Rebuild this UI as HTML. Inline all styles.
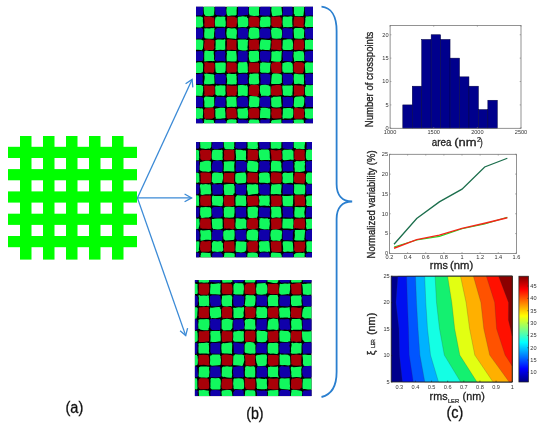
<!DOCTYPE html>
<html><head><meta charset="utf-8"><title>Figure</title>
<style>html,body{margin:0;padding:0;background:#fff;} svg{display:block;} text{font-family:'Liberation Sans', 'DejaVu Sans', sans-serif;}</style>
</head><body>
<svg width="550" height="428" viewBox="0 0 550 428">
<rect width="550" height="428" fill="#fff"/>
<rect x="20" y="136" width="11.5" height="123.6" fill="#00ff00"/>
<rect x="43" y="136" width="11.5" height="123.6" fill="#00ff00"/>
<rect x="66" y="136" width="11.5" height="123.6" fill="#00ff00"/>
<rect x="89" y="136" width="11.5" height="123.6" fill="#00ff00"/>
<rect x="112" y="136" width="11.5" height="123.6" fill="#00ff00"/>
<rect x="8" y="146.80" width="129" height="11.2" fill="#00ff00"/>
<rect x="8" y="169.10" width="129" height="11.2" fill="#00ff00"/>
<rect x="8" y="191.40" width="129" height="11.2" fill="#00ff00"/>
<rect x="8" y="213.70" width="129" height="11.2" fill="#00ff00"/>
<rect x="8" y="236.00" width="129" height="11.2" fill="#00ff00"/>
<line x1="137.4" y1="197.9" x2="192.1" y2="79.4" stroke="#3b8ad6" stroke-width="1.3"/>
<polyline points="185.6,83.8 192.1,79.4 192.8,87.4" fill="none" stroke="#3b8ad6" stroke-width="1.3" stroke-linejoin="miter"/>
<line x1="137.4" y1="197.9" x2="191.6" y2="197.9" stroke="#3b8ad6" stroke-width="1.3"/>
<polyline points="184.6,194.0 191.6,197.9 184.6,201.8" fill="none" stroke="#3b8ad6" stroke-width="1.3" stroke-linejoin="miter"/>
<line x1="137.4" y1="197.9" x2="185.7" y2="335.6" stroke="#3b8ad6" stroke-width="1.3"/>
<polyline points="180.1,330.7 185.7,335.6 187.6,328.1" fill="none" stroke="#3b8ad6" stroke-width="1.3" stroke-linejoin="miter"/>
<clipPath id="chk1"><rect x="196.0" y="6.8" width="117.00" height="116.40"/></clipPath>
<rect x="196.0" y="6.8" width="117.00" height="116.40" fill="#000"/>
<g clip-path="url(#chk1)">
<polygon points="202.9,10.5 203.2,13.7 202.8,14.2 202.9,14.8 202.6,14.9 202.3,15.1 202.1,15.4 201.8,15.7 200.9,15.3 198.0,15.4 194.9,15.7 194.0,15.9 193.7,15.7 193.4,15.5 192.8,15.6 193.2,14.7 192.7,14.6 193.1,13.5 193.3,10.5 193.3,7.6 193.3,6.9 193.0,6.1 193.4,6.0 193.3,5.5 193.6,5.2 194.2,5.3 194.8,5.2 198.0,5.5 200.9,5.6 201.5,5.7 202.2,5.5 202.4,5.8 202.6,6.0 203.0,6.1 203.0,6.6 203.0,7.4" fill="#1000aa"/>
<polygon points="214.4,10.5 214.1,13.5 214.4,14.5 213.7,14.4 213.8,14.9 213.8,15.4 213.3,15.4 213.2,15.9 212.4,15.8 209.2,16.2 205.8,16.1 205.4,15.7 205.0,15.5 205.1,14.9 204.7,14.9 204.5,14.6 204.2,14.3 204.0,13.7 203.7,10.5 203.6,7.0 204.1,6.6 204.3,6.2 204.9,6.3 204.8,5.7 205.0,5.5 205.2,5.0 205.8,4.9 209.2,5.1 212.5,5.0 213.2,5.0 213.2,5.7 213.6,5.7 213.6,6.2 213.7,6.5 213.8,6.9 214.4,7.3" fill="#12f85e"/>
<polygon points="225.8,10.5 226.0,13.9 225.8,14.6 225.6,15.1 225.1,15.0 224.9,15.4 224.6,15.5 224.4,15.9 223.7,16.0 220.4,15.4 217.5,15.3 217.0,15.2 216.6,15.0 216.1,15.1 215.8,15.0 215.6,14.6 215.6,14.2 215.2,13.7 215.2,10.5 215.1,7.2 215.0,6.3 215.3,6.0 215.6,5.8 215.7,5.5 216.0,5.2 216.8,5.5 217.1,5.0 220.4,5.2 223.5,5.3 224.1,5.5 224.3,5.9 224.6,6.0 224.8,6.2 225.4,6.1 225.3,6.7 225.5,7.3" fill="#1000aa"/>
<polygon points="236.6,10.5 236.7,13.6 236.4,14.1 236.7,15.0 236.4,15.1 235.9,15.1 235.7,15.4 235.3,15.6 234.7,15.6 231.6,15.5 228.4,15.9 227.6,15.9 227.5,15.4 227.2,15.3 227.1,14.8 226.9,14.6 226.7,14.3 226.6,13.6 226.3,10.5 226.7,7.4 226.9,6.9 226.5,6.0 226.9,5.9 227.3,5.9 227.4,5.4 228.1,5.6 228.5,5.2 231.6,4.9 234.9,5.0 235.5,5.2 235.7,5.6 236.0,5.8 236.2,6.1 236.7,6.0 236.7,6.6 236.9,7.2" fill="#12f85e"/>
<polygon points="248.4,10.5 248.4,13.9 248.0,14.4 248.0,15.0 247.5,15.1 246.9,14.9 246.5,14.8 246.1,14.9 245.5,15.0 242.8,15.4 239.7,15.8 239.0,15.7 238.1,16.1 237.6,16.1 237.4,15.8 237.7,14.9 237.9,14.3 238.0,13.5 238.1,10.5 238.0,7.5 237.7,6.6 237.6,5.9 237.7,5.5 238.2,5.5 238.5,5.3 239.0,5.3 240.1,5.8 242.8,5.5 245.9,5.4 246.6,5.4 247.1,5.4 247.4,5.6 247.6,5.9 248.1,5.9 248.0,6.5 248.3,7.1" fill="#1000aa"/>
<polygon points="259.0,10.5 259.0,13.6 259.3,14.5 259.1,14.9 258.6,14.9 258.8,15.6 258.6,15.9 258.0,15.9 257.2,15.8 254.0,16.0 251.0,15.6 250.5,15.3 249.7,15.7 249.7,15.2 249.6,14.8 249.2,14.7 249.4,14.1 249.0,13.6 248.9,10.5 249.1,7.4 249.0,6.6 249.0,6.1 249.1,5.7 249.1,5.2 249.7,5.3 250.1,5.1 251.0,5.4 254.0,5.1 257.0,5.6 257.6,5.7 258.0,5.7 258.5,5.7 258.6,6.1 259.1,6.0 259.1,6.6 259.3,7.2" fill="#12f85e"/>
<polygon points="270.2,10.5 270.3,13.6 270.2,14.3 270.0,14.6 269.7,14.8 269.7,15.3 269.6,15.6 269.3,16.0 268.3,15.6 265.3,15.8 262.3,15.5 261.7,15.3 261.0,15.5 260.8,15.3 260.4,15.2 260.0,15.1 259.7,14.7 260.0,13.8 260.0,10.5 260.2,7.4 260.4,6.8 260.5,6.3 260.7,6.1 260.8,5.7 261.0,5.4 261.2,4.9 262.0,5.0 265.3,4.9 268.5,5.0 268.8,5.6 269.4,5.6 269.9,5.5 270.2,5.6 270.1,6.2 270.3,6.6 270.5,7.2" fill="#1000aa"/>
<polygon points="281.8,10.5 282.2,14.1 282.1,14.8 281.5,14.9 281.5,15.4 281.1,15.4 280.3,15.0 280.2,15.6 279.4,15.4 276.5,15.7 273.1,16.2 272.4,16.1 272.3,15.5 272.0,15.3 271.9,14.9 271.9,14.4 271.9,14.0 271.7,13.5 271.2,10.5 271.5,7.4 271.1,6.4 271.3,6.0 271.8,5.9 271.9,5.6 272.1,5.3 272.7,5.3 273.5,5.5 276.5,4.9 279.7,5.1 280.4,5.2 280.3,5.9 280.5,6.1 280.6,6.5 281.2,6.3 281.2,6.8 281.5,7.4" fill="#12f85e"/>
<polygon points="292.6,10.5 292.8,13.7 292.5,14.2 292.5,14.7 292.7,15.4 292.3,15.4 291.6,15.2 291.5,15.7 290.7,15.5 287.7,15.6 284.8,15.3 283.7,15.9 283.5,15.5 282.7,15.8 282.7,15.3 282.7,14.8 282.6,14.3 282.5,13.7 282.9,10.5 282.9,7.5 282.6,6.6 282.8,6.2 283.0,6.0 283.3,5.8 283.8,5.8 284.2,5.7 284.8,5.7 287.7,5.6 290.8,5.2 291.4,5.4 292.1,5.2 292.3,5.5 292.5,5.8 292.4,6.4 292.4,6.8 292.3,7.6" fill="#1000aa"/>
<polygon points="304.0,10.5 303.7,13.5 303.6,14.1 303.7,14.7 303.4,14.8 303.3,15.3 303.3,15.7 303.1,16.2 302.2,16.0 298.9,16.3 295.5,16.1 294.9,15.9 294.7,15.4 294.6,15.1 294.6,14.6 294.5,14.3 294.4,14.0 293.8,13.7 293.9,10.5 293.9,7.4 294.0,6.7 293.6,5.9 293.8,5.6 294.2,5.5 294.8,5.6 295.3,5.6 295.9,5.5 298.9,5.4 301.9,5.5 302.7,5.3 303.1,5.5 303.8,5.2 304.1,5.4 304.0,6.0 303.8,6.7 304.2,7.2" fill="#12f85e"/>
<polygon points="315.2,10.5 315.4,13.8 315.0,14.2 314.9,14.7 314.5,14.8 314.4,15.1 313.8,15.0 313.5,15.1 313.0,15.4 310.1,15.5 306.9,15.9 306.2,15.8 305.6,15.8 305.4,15.5 305.2,15.2 305.1,14.9 305.3,14.2 305.2,13.5 304.7,10.5 305.1,7.4 304.7,6.4 304.9,5.9 305.5,6.0 305.4,5.4 305.8,5.3 306.4,5.4 307.0,5.3 310.1,5.2 313.0,5.6 313.8,5.4 314.3,5.5 314.8,5.4 315.0,5.7 315.2,6.0 315.3,6.5 315.6,7.1" fill="#1000aa"/>
<polygon points="202.9,21.9 203.3,25.2 203.1,25.8 202.9,26.2 202.7,26.5 202.5,26.8 202.2,26.9 201.6,26.8 201.3,27.4 198.0,27.4 194.8,27.2 194.2,27.1 193.8,27.0 193.8,26.4 193.2,26.6 193.3,26.0 193.2,25.6 193.0,25.0 192.6,21.9 193.0,18.8 192.8,17.9 192.8,17.4 193.3,17.4 193.6,17.2 193.9,17.0 194.2,16.7 194.8,16.5 198.0,16.5 201.2,16.5 201.6,17.0 202.0,17.1 202.3,17.2 202.8,17.2 202.8,17.8 203.1,18.0 202.8,18.9" fill="#12f85e"/>
<polygon points="214.5,21.9 214.5,25.2 214.4,25.9 214.0,26.1 214.3,26.9 213.6,26.7 213.7,27.2 213.1,27.3 212.1,26.7 209.2,27.0 206.0,27.2 205.3,27.3 205.0,26.9 204.8,26.6 204.6,26.4 204.1,26.4 204.5,25.5 204.2,25.0 204.5,21.9 204.2,18.8 203.9,17.8 204.3,17.6 204.0,16.8 204.3,16.7 204.5,16.3 205.2,16.4 206.2,16.8 209.2,16.6 212.1,17.0 212.5,17.4 212.9,17.5 213.5,17.3 213.8,17.5 214.0,17.7 214.1,18.2 214.3,18.7" fill="#a80008"/>
<polygon points="225.8,21.9 225.7,25.2 225.8,26.0 225.4,26.2 225.2,26.6 225.0,26.8 224.9,27.2 224.1,27.0 223.3,26.8 220.4,26.8 217.6,26.7 217.0,26.5 216.6,26.5 215.8,26.9 215.7,26.5 215.0,26.6 215.2,25.9 215.1,25.2 214.9,21.9 215.2,18.7 215.4,18.0 215.3,17.4 215.7,17.3 216.0,17.2 216.4,17.2 216.7,16.8 217.3,16.6 220.4,16.7 223.6,16.5 224.1,16.9 224.9,16.6 225.0,16.9 225.4,17.1 225.4,17.5 225.3,18.2 225.2,18.9" fill="#12f85e"/>
<polygon points="237.1,21.9 236.6,25.0 236.7,25.8 236.4,26.0 236.4,26.6 236.2,26.8 235.8,26.9 235.4,27.0 234.7,27.1 231.6,27.4 228.6,27.0 228.1,26.7 227.4,27.0 226.9,27.0 226.9,26.5 226.8,26.1 226.7,25.7 226.7,25.0 226.7,21.9 227.0,19.0 227.0,18.4 227.0,17.9 226.9,17.3 226.8,16.7 227.1,16.5 227.6,16.5 228.4,16.5 231.6,16.5 234.6,16.8 235.2,17.1 235.4,17.4 235.8,17.4 236.5,17.2 236.3,17.8 236.8,18.0 236.9,18.6" fill="#a80008"/>
<polygon points="248.4,21.9 248.3,25.3 248.2,26.0 247.4,25.9 247.2,26.2 247.4,26.8 247.2,27.1 246.6,27.0 246.0,27.3 242.8,27.0 239.7,27.2 238.8,27.4 238.5,27.2 238.2,26.9 237.9,26.7 238.1,26.0 238.1,25.5 238.0,24.9 237.7,21.9 237.7,18.7 237.6,17.9 237.9,17.6 238.0,17.3 238.2,16.9 238.6,16.8 238.9,16.5 239.8,16.8 242.8,16.3 245.9,16.8 246.8,16.6 247.0,17.0 247.0,17.4 247.2,17.7 247.5,17.9 248.0,18.0 248.2,18.6" fill="#12f85e"/>
<polygon points="259.4,21.9 259.0,25.0 259.1,25.8 259.1,26.4 259.2,26.9 258.8,27.0 258.5,27.2 257.8,27.0 257.0,26.8 254.0,26.8 250.9,27.2 250.3,27.0 250.1,26.7 249.8,26.4 249.3,26.6 248.9,26.4 248.9,25.8 249.0,25.1 248.8,21.9 248.7,18.6 249.2,18.2 249.4,17.9 249.3,17.3 249.5,17.0 249.6,16.6 250.3,16.8 250.8,16.4 254.0,16.5 257.1,16.8 257.5,17.2 258.3,16.8 258.3,17.4 258.8,17.3 258.7,17.8 258.9,18.2 259.4,18.6" fill="#a80008"/>
<polygon points="270.5,21.9 270.6,25.3 270.0,25.6 270.1,26.1 269.9,26.4 270.1,27.1 269.3,26.8 268.9,26.8 268.2,26.8 265.3,27.0 262.1,27.2 261.4,27.1 261.0,27.0 260.5,27.0 260.2,26.9 260.3,26.3 260.2,25.8 259.7,25.4 259.9,21.9 260.5,18.9 260.2,18.1 260.5,17.8 260.7,17.5 260.9,17.2 261.2,17.1 261.7,17.0 262.2,16.8 265.3,16.8 268.5,16.5 268.8,17.1 269.6,16.7 269.6,17.3 269.9,17.4 270.4,17.4 270.6,17.8 270.4,18.7" fill="#12f85e"/>
<polygon points="282.0,21.9 281.4,25.0 281.6,25.8 281.7,26.4 281.5,26.8 280.9,26.6 280.6,26.8 280.2,27.0 279.8,27.5 276.5,27.0 273.3,27.2 272.7,27.1 272.6,26.5 272.4,26.3 271.7,26.5 271.7,26.1 271.6,25.6 271.2,25.2 271.3,21.9 271.3,18.7 271.5,18.2 271.2,17.3 271.3,16.9 271.7,16.8 271.9,16.4 272.8,16.9 273.4,16.8 276.5,16.8 279.6,16.6 280.2,16.8 280.3,17.3 280.6,17.5 281.0,17.5 281.3,17.7 281.8,17.8 281.5,18.8" fill="#a80008"/>
<polygon points="292.3,21.9 292.4,24.8 292.7,25.8 292.4,26.0 292.4,26.5 292.6,27.2 292.0,27.1 291.5,27.1 290.7,27.0 287.7,27.3 284.6,27.1 283.7,27.4 283.3,27.1 283.0,27.0 283.2,26.3 283.2,25.9 283.0,25.5 282.7,25.0 282.5,21.9 282.7,18.8 282.8,18.2 282.8,17.6 282.8,17.2 283.0,16.9 283.3,16.7 283.7,16.6 284.5,16.6 287.7,16.8 291.0,16.3 291.5,16.6 292.1,16.6 292.3,17.0 292.6,17.1 292.3,17.9 292.3,18.4 292.2,19.1" fill="#12f85e"/>
<polygon points="303.9,21.9 303.6,24.9 304.0,25.8 303.9,26.3 304.1,27.0 303.5,26.8 303.3,27.2 302.9,27.5 302.1,27.3 298.9,27.1 296.2,26.4 295.5,26.5 295.1,26.4 294.6,26.5 293.7,27.0 293.6,26.5 293.3,26.2 293.7,25.2 293.5,21.9 293.9,18.8 294.2,18.3 293.9,17.6 293.9,17.1 294.5,17.2 294.5,16.6 294.9,16.5 295.9,16.8 298.9,16.9 301.7,17.1 302.4,17.2 302.8,17.2 303.5,17.0 303.8,17.1 303.8,17.6 303.7,18.2 303.9,18.8" fill="#a80008"/>
<polygon points="315.2,21.9 315.2,25.1 315.1,25.8 315.0,26.2 314.7,26.4 314.2,26.3 314.0,26.5 313.9,27.1 313.2,27.1 310.1,27.1 307.0,27.1 306.0,27.5 305.9,26.9 305.5,26.9 305.4,26.5 305.2,26.2 304.8,26.0 304.7,25.3 305.2,21.9 305.4,19.0 305.2,18.1 305.6,18.0 305.8,17.7 305.4,16.8 305.8,16.8 306.0,16.3 306.8,16.4 310.1,16.2 313.2,16.6 313.6,17.1 313.8,17.4 314.4,17.3 314.7,17.5 315.2,17.5 315.0,18.2 315.5,18.6" fill="#12f85e"/>
<polygon points="203.1,33.3 203.3,36.6 203.3,37.4 203.1,37.8 202.3,37.5 202.0,37.6 202.2,38.4 201.9,38.7 201.2,38.7 198.0,38.6 194.5,39.1 194.1,38.6 193.6,38.7 193.6,38.1 193.3,37.9 193.5,37.2 192.9,37.2 193.0,36.4 192.7,33.3 192.3,29.8 192.5,29.1 193.1,29.1 193.5,28.9 193.7,28.8 194.0,28.6 194.5,28.5 195.1,28.5 198.0,28.3 201.2,27.9 202.0,27.9 202.0,28.5 202.5,28.5 202.8,28.6 202.6,29.3 203.3,29.3 203.0,30.2" fill="#1000aa"/>
<polygon points="214.1,33.3 214.1,36.4 213.9,36.9 213.9,37.4 213.6,37.6 213.8,38.3 213.5,38.5 213.0,38.5 212.5,38.8 209.2,38.8 206.1,38.5 205.6,38.3 205.0,38.4 204.9,38.0 204.6,37.8 204.3,37.7 204.4,37.0 204.2,36.5 204.2,33.3 204.5,30.4 204.2,29.5 204.5,29.3 204.3,28.5 204.4,28.2 204.9,28.2 205.6,28.5 206.2,28.2 209.2,28.4 212.4,28.0 212.8,28.5 213.7,28.0 214.2,28.0 214.4,28.3 214.6,28.7 214.2,29.5 214.6,30.0" fill="#12f85e"/>
<polygon points="225.1,33.3 225.5,36.5 225.9,37.5 225.5,37.8 225.7,38.5 224.9,38.2 224.7,38.5 223.8,38.0 223.3,38.2 220.4,38.5 217.5,38.2 216.7,38.4 216.0,38.6 215.8,38.4 215.7,37.9 215.6,37.6 215.6,37.0 215.1,36.6 215.2,33.3 215.1,30.0 215.6,29.6 215.3,28.9 215.9,29.0 216.0,28.6 216.3,28.4 216.9,28.5 217.2,28.0 220.4,28.0 223.7,27.8 224.6,27.6 224.7,28.2 225.4,28.0 225.2,28.7 225.0,29.3 225.2,29.6 225.0,30.5" fill="#1000aa"/>
<polygon points="236.9,33.3 236.4,36.3 236.8,37.3 236.4,37.5 236.5,38.1 236.6,38.6 236.1,38.7 235.7,38.9 234.8,38.7 231.6,38.4 228.7,38.3 228.1,38.1 227.6,38.2 227.4,37.8 227.2,37.7 226.7,37.6 227.0,36.9 226.7,36.4 226.3,33.3 226.7,30.3 226.7,29.6 226.6,28.9 226.9,28.8 227.0,28.4 227.5,28.4 227.8,28.1 228.5,28.1 231.6,28.4 234.7,28.2 235.3,28.4 235.5,28.7 236.3,28.4 236.1,29.0 236.3,29.3 236.4,29.7 236.8,30.1" fill="#12f85e"/>
<polygon points="248.0,33.3 247.8,36.4 247.8,37.2 247.6,37.5 247.7,38.1 247.5,38.3 247.0,38.4 247.0,39.0 245.9,38.5 242.8,38.7 239.8,38.5 239.3,38.2 239.0,37.9 238.3,38.2 238.5,37.6 237.9,37.7 237.5,37.5 237.9,36.4 237.8,33.3 237.7,30.2 237.9,29.6 238.0,29.1 238.0,28.6 238.5,28.7 238.6,28.3 239.0,28.1 239.8,28.2 242.8,27.7 246.1,27.9 246.6,28.2 246.6,28.8 247.4,28.5 247.6,28.7 247.7,29.1 248.1,29.3 248.0,30.1" fill="#1000aa"/>
<polygon points="259.5,33.3 259.6,36.8 259.4,37.4 258.8,37.5 258.7,37.9 258.4,38.0 258.3,38.4 257.8,38.4 257.1,38.4 254.0,38.8 250.7,39.0 250.4,38.4 249.7,38.6 249.9,37.8 249.5,37.7 249.3,37.5 248.8,37.3 248.5,36.8 248.6,33.3 249.0,30.2 248.8,29.3 249.4,29.3 249.6,29.1 249.5,28.4 249.8,28.3 250.1,28.0 250.7,27.8 254.0,27.6 257.3,28.0 258.0,28.0 258.2,28.3 258.5,28.5 258.5,29.0 258.9,29.1 259.1,29.5 259.2,30.1" fill="#12f85e"/>
<polygon points="270.3,33.3 270.8,36.8 270.4,37.3 270.1,37.6 269.8,37.8 269.5,37.9 269.5,38.4 269.0,38.5 268.3,38.5 265.3,38.5 262.4,38.1 261.6,38.3 261.3,38.1 260.7,38.3 260.4,38.1 260.1,37.9 260.4,37.1 259.7,36.8 259.6,33.3 259.6,29.8 260.2,29.5 260.3,29.0 260.6,28.9 261.0,28.8 261.0,28.2 261.5,28.2 262.2,28.3 265.3,28.2 268.3,28.3 268.8,28.5 269.1,28.7 269.5,28.8 270.2,28.6 270.1,29.1 270.3,29.5 270.5,30.1" fill="#1000aa"/>
<polygon points="282.1,33.3 281.8,36.7 281.9,37.5 281.6,37.8 281.0,37.7 281.0,38.2 280.7,38.4 280.4,38.7 279.6,38.5 276.5,38.8 273.3,38.6 272.9,38.3 272.2,38.5 272.3,37.8 271.7,38.0 271.9,37.3 271.8,36.9 271.6,36.4 271.2,33.3 271.0,30.0 271.6,29.7 271.4,29.0 271.6,28.6 271.6,28.1 272.2,28.3 272.5,28.0 273.3,28.1 276.5,27.8 279.4,28.4 280.3,28.2 280.3,28.8 280.5,29.0 281.1,28.9 281.2,29.2 281.2,29.7 281.8,30.0" fill="#12f85e"/>
<polygon points="292.6,33.3 292.7,36.4 293.0,37.5 292.6,37.6 293.0,38.5 292.3,38.3 292.0,38.5 291.5,38.5 290.9,38.8 287.7,38.4 284.8,38.1 284.0,38.3 283.9,37.9 283.4,37.9 283.0,37.9 282.6,37.8 282.4,37.4 282.3,36.7 282.5,33.3 282.5,30.1 282.7,29.5 282.4,28.7 282.7,28.5 282.9,28.3 283.6,28.5 284.0,28.3 284.5,28.1 287.7,28.2 290.6,28.5 291.4,28.3 292.1,28.1 292.0,28.6 292.2,28.9 292.4,29.2 292.7,29.5 292.8,30.1" fill="#1000aa"/>
<polygon points="304.1,33.3 304.0,36.6 304.4,37.6 304.1,37.9 303.4,37.8 303.6,38.4 302.8,38.0 302.5,38.3 302.1,38.7 298.9,38.7 295.7,38.6 295.2,38.4 294.8,38.2 294.3,38.3 294.3,37.8 294.1,37.5 293.9,37.2 294.0,36.4 293.8,33.3 293.6,30.1 293.8,29.4 294.0,29.1 294.1,28.6 294.3,28.5 294.8,28.4 295.0,28.0 295.8,28.1 298.9,27.9 302.1,27.9 302.5,28.4 303.0,28.5 303.3,28.6 303.4,28.9 303.5,29.3 304.1,29.4 304.4,29.9" fill="#12f85e"/>
<polygon points="314.7,33.3 314.9,36.4 314.7,36.9 315.0,37.6 315.1,38.2 314.9,38.5 314.6,38.7 313.9,38.6 313.3,38.7 310.1,38.7 306.9,38.7 306.3,38.5 305.8,38.5 305.4,38.4 305.6,37.7 305.3,37.6 305.1,37.2 305.2,36.4 305.1,33.3 304.7,30.0 305.3,29.7 305.1,28.9 305.5,28.9 305.4,28.3 305.7,28.1 306.4,28.3 307.2,28.5 310.1,28.0 313.3,27.9 314.2,27.8 314.6,28.0 314.9,28.2 315.2,28.4 315.0,29.1 314.8,29.7 315.1,30.2" fill="#1000aa"/>
<polygon points="203.3,44.8 203.0,47.9 202.9,48.5 202.7,48.9 202.3,49.0 202.4,49.5 202.2,49.8 202.0,50.2 201.1,50.0 198.0,49.8 195.1,49.6 194.4,49.7 193.9,49.7 193.8,49.3 193.5,49.1 192.8,49.3 192.7,48.8 192.6,48.1 192.7,44.8 192.5,41.4 192.7,40.8 193.1,40.5 193.4,40.3 193.5,40.0 193.9,39.9 194.0,39.3 194.9,39.6 198.0,39.5 201.1,39.6 201.7,39.8 201.9,40.1 202.2,40.3 202.7,40.2 202.8,40.5 203.6,40.5 203.4,41.4" fill="#12f85e"/>
<polygon points="214.1,44.8 214.5,48.1 214.1,48.5 213.9,48.9 213.8,49.2 213.6,49.5 213.3,49.7 213.1,50.0 212.4,50.2 209.2,50.0 205.9,50.4 205.2,50.2 205.2,49.6 204.5,49.8 204.2,49.6 204.2,49.2 204.5,48.4 204.0,48.0 204.1,44.8 204.5,41.9 204.6,41.2 204.0,40.3 204.3,40.0 204.7,39.9 205.1,39.8 205.5,39.7 206.1,39.6 209.2,39.3 212.2,39.7 212.7,40.0 213.5,39.7 213.7,39.9 213.7,40.4 214.3,40.3 214.3,40.8 214.6,41.4" fill="#a80008"/>
<polygon points="225.2,44.8 225.3,47.8 225.2,48.5 225.5,49.2 225.3,49.5 224.9,49.6 224.6,49.7 224.0,49.7 223.5,49.9 220.4,49.7 217.3,50.0 216.7,49.9 216.0,50.1 215.6,49.9 215.4,49.6 215.2,49.3 215.8,48.3 215.4,47.9 215.6,44.8 215.6,41.8 215.5,41.0 215.4,40.4 215.7,40.2 215.9,39.9 216.0,39.5 216.8,39.9 217.3,39.5 220.4,39.4 223.4,39.7 224.4,39.3 225.0,39.3 225.4,39.4 225.3,40.1 225.6,40.2 225.3,41.1 225.2,41.8" fill="#12f85e"/>
<polygon points="236.4,44.8 236.5,47.8 236.7,48.6 236.9,49.4 236.5,49.6 236.4,50.0 236.0,50.0 235.5,50.1 234.8,50.1 231.6,49.7 228.5,50.0 228.0,49.7 227.4,49.8 227.1,49.6 226.7,49.5 226.4,49.4 226.6,48.6 226.6,47.9 226.9,44.8 226.9,41.9 226.9,41.1 226.6,40.4 226.6,39.9 226.7,39.4 227.4,39.7 227.6,39.3 228.3,39.2 231.6,39.5 234.5,39.9 235.3,39.8 235.6,40.1 236.0,40.1 236.6,39.9 236.5,40.5 236.5,41.0 236.6,41.7" fill="#a80008"/>
<polygon points="247.8,44.8 247.4,47.6 247.7,48.5 247.6,49.0 247.8,49.6 247.4,49.7 247.2,50.0 246.7,50.0 246.2,50.5 242.8,50.4 239.7,50.0 239.3,49.7 238.7,49.8 238.4,49.6 238.2,49.3 238.2,48.8 238.0,48.4 237.9,47.9 237.9,44.8 237.8,41.6 237.6,40.8 237.5,40.1 238.1,40.2 238.1,39.6 238.7,39.8 239.2,39.8 239.6,39.4 242.8,39.6 246.0,39.5 246.5,39.8 246.8,40.0 247.4,39.9 247.8,40.0 248.1,40.2 248.2,40.7 247.8,41.7" fill="#12f85e"/>
<polygon points="258.9,44.8 259.3,48.0 258.9,48.5 259.2,49.3 258.5,49.1 258.7,49.8 258.0,49.5 257.5,49.5 257.2,50.0 254.0,49.8 250.9,50.1 250.4,49.7 250.0,49.6 249.3,49.9 249.1,49.6 248.8,49.3 248.8,48.8 249.2,47.8 248.8,44.8 248.8,41.5 249.1,41.0 248.9,40.3 249.5,40.3 249.3,39.7 249.8,39.6 250.5,39.9 251.1,39.9 254.0,39.4 257.3,39.4 257.6,39.9 258.2,39.9 258.7,39.8 258.6,40.3 259.2,40.3 259.1,40.9 258.9,41.7" fill="#a80008"/>
<polygon points="270.5,44.8 270.4,48.0 270.2,48.5 269.9,48.8 269.7,49.1 269.8,49.7 269.7,50.0 269.2,50.2 268.4,50.1 265.3,49.9 262.4,49.6 261.4,50.0 261.1,49.7 260.6,49.7 260.5,49.4 260.0,49.3 259.6,49.1 259.6,48.3 259.8,44.8 260.2,41.6 260.4,41.0 260.3,40.5 260.8,40.4 260.8,40.0 261.0,39.7 261.3,39.4 262.0,39.4 265.3,39.8 268.1,40.0 268.8,40.0 269.3,39.9 269.8,39.9 270.3,39.8 270.7,40.0 270.4,40.8 270.9,41.3" fill="#12f85e"/>
<polygon points="281.4,44.8 281.5,47.9 281.2,48.4 281.2,48.9 281.5,49.6 281.5,50.2 280.9,50.0 280.6,50.4 279.8,50.3 276.5,49.7 273.5,49.7 272.9,49.6 272.5,49.5 272.2,49.4 271.7,49.4 271.1,49.4 271.0,49.0 271.2,48.1 271.6,44.8 271.3,41.6 271.5,41.0 272.0,40.8 271.8,40.3 271.8,39.7 272.0,39.4 272.6,39.5 273.3,39.4 276.5,39.4 279.5,39.7 280.1,39.8 280.6,39.9 281.2,39.7 281.2,40.2 281.4,40.4 281.3,41.0 281.3,41.7" fill="#a80008"/>
<polygon points="293.1,44.8 292.8,48.0 293.0,48.9 292.7,49.2 292.6,49.5 291.9,49.3 291.5,49.4 291.5,50.0 290.8,50.0 287.7,49.9 284.5,50.0 284.0,49.8 283.3,50.0 283.2,49.6 282.7,49.6 282.7,49.1 282.6,48.7 282.3,48.1 282.6,44.8 282.7,41.7 282.6,40.9 282.7,40.5 283.1,40.3 283.4,40.2 283.5,39.8 283.9,39.6 284.7,39.7 287.7,39.3 291.0,39.3 291.3,39.8 292.0,39.6 292.1,40.0 292.1,40.5 292.7,40.4 292.4,41.2 292.8,41.6" fill="#12f85e"/>
<polygon points="304.2,44.8 304.2,48.1 303.7,48.5 303.5,48.8 303.6,49.3 303.4,49.6 303.3,50.1 302.8,50.2 302.1,50.2 298.9,49.7 295.7,50.1 295.0,50.0 294.6,50.0 294.0,50.0 294.2,49.3 294.0,49.0 293.6,48.8 293.5,48.1 293.7,44.8 294.1,41.8 294.0,41.0 294.0,40.5 294.5,40.5 294.5,40.1 294.8,39.9 295.2,39.8 295.7,39.5 298.9,39.6 302.0,39.6 302.6,39.7 303.3,39.5 303.2,40.1 303.8,40.0 303.6,40.7 303.5,41.2 304.1,41.5" fill="#a80008"/>
<polygon points="315.1,44.8 315.7,48.2 315.6,49.0 315.4,49.4 315.0,49.6 314.6,49.6 314.4,49.9 313.7,49.7 313.0,49.7 310.1,49.4 307.3,49.5 306.6,49.5 305.8,49.9 305.5,49.7 305.5,49.3 304.9,49.3 305.1,48.6 304.9,48.0 305.0,44.8 304.9,41.6 304.6,40.6 305.1,40.4 305.4,40.2 305.6,39.9 306.1,40.0 306.3,39.6 307.3,40.1 310.1,39.5 312.9,40.0 314.0,39.5 314.4,39.7 314.5,40.1 314.9,40.1 314.9,40.6 315.0,41.0 315.1,41.7" fill="#12f85e"/>
<polygon points="203.5,56.2 203.0,59.3 203.3,60.3 202.8,60.4 202.9,61.0 202.1,60.6 202.1,61.1 201.5,60.9 200.8,60.9 198.0,60.9 194.8,61.5 194.2,61.4 193.9,61.1 193.4,61.2 192.8,61.2 193.1,60.5 192.7,60.2 192.9,59.4 192.9,56.2 192.6,52.8 192.7,52.2 193.3,52.1 193.6,51.9 193.9,51.8 194.0,51.4 194.4,51.4 195.1,51.4 198.0,51.3 201.1,51.0 201.9,50.9 202.4,50.9 202.7,51.2 202.7,51.6 202.8,52.0 203.3,52.1 203.2,53.0" fill="#1000aa"/>
<polygon points="214.1,56.2 214.0,59.2 214.7,60.4 214.4,60.8 214.5,61.3 213.8,61.1 213.2,61.0 213.0,61.3 212.1,61.0 209.2,60.9 206.2,61.2 205.3,61.5 205.0,61.2 204.3,61.5 204.1,61.1 204.1,60.7 204.4,59.9 204.2,59.3 204.2,56.2 204.2,53.1 204.5,52.6 204.2,51.9 204.5,51.6 204.4,51.1 205.1,51.3 205.2,50.7 205.9,50.6 209.2,50.9 212.4,50.9 213.1,50.9 213.6,51.0 213.5,51.6 214.2,51.4 213.8,52.2 213.7,52.7 213.7,53.4" fill="#12f85e"/>
<polygon points="225.1,56.2 225.5,59.4 225.5,60.1 225.5,60.6 225.4,61.1 224.8,61.0 224.9,61.6 224.3,61.5 223.3,61.1 220.4,61.1 217.4,61.3 216.8,61.2 216.4,61.0 216.2,60.7 215.8,60.7 215.7,60.3 215.2,60.2 214.9,59.6 215.3,56.2 215.1,52.9 215.1,52.2 215.7,52.1 215.6,51.5 215.8,51.3 216.4,51.5 216.8,51.3 217.2,50.8 220.4,50.9 223.6,50.9 224.5,50.6 224.9,50.8 224.9,51.3 225.0,51.7 225.1,52.1 225.2,52.5 225.6,53.0" fill="#1000aa"/>
<polygon points="236.7,56.2 236.8,59.4 236.4,59.9 236.6,60.5 236.6,61.1 236.3,61.2 236.0,61.4 235.3,61.2 234.8,61.5 231.6,61.5 228.6,61.2 227.9,61.3 227.1,61.6 226.9,61.3 226.6,61.1 226.8,60.5 226.7,60.0 226.6,59.3 226.6,56.2 227.0,53.3 226.6,52.4 226.8,52.0 226.6,51.4 227.1,51.3 227.3,51.0 227.6,50.7 228.4,50.8 231.6,51.0 234.8,50.9 235.5,50.9 236.2,50.8 236.1,51.4 236.2,51.7 236.5,52.0 236.1,52.7 236.4,53.2" fill="#12f85e"/>
<polygon points="247.7,56.2 247.7,59.2 247.7,59.9 247.6,60.4 247.4,60.7 247.2,60.9 246.9,61.1 246.8,61.6 246.2,61.9 242.8,61.7 239.6,61.6 239.0,61.5 238.9,60.9 238.4,61.0 238.4,60.5 238.1,60.3 237.9,60.0 237.8,59.3 237.8,56.2 237.8,53.1 237.8,52.3 237.7,51.7 238.0,51.5 238.1,51.2 238.8,51.4 239.1,51.1 239.6,50.8 242.8,51.2 245.9,51.1 246.5,51.2 246.9,51.4 247.6,51.1 247.4,51.7 247.9,51.8 247.7,52.5 247.7,53.2" fill="#1000aa"/>
<polygon points="259.0,56.2 259.1,59.3 259.5,60.3 259.1,60.7 258.5,60.6 258.4,60.8 258.1,61.0 257.9,61.4 257.3,61.6 254.0,61.9 250.6,61.9 250.1,61.6 249.6,61.5 249.5,61.1 249.4,60.7 249.5,60.2 249.2,59.9 249.1,59.3 248.7,56.2 249.0,53.1 248.5,52.0 249.2,52.0 249.0,51.3 249.4,51.3 249.9,51.2 250.1,50.9 250.9,51.0 254.0,51.0 257.3,50.7 258.1,50.7 258.3,51.1 258.5,51.5 258.6,51.7 258.8,52.1 259.1,52.4 259.0,53.1" fill="#12f85e"/>
<polygon points="270.5,56.2 270.2,59.3 269.8,59.7 269.6,60.0 269.5,60.3 269.6,60.9 269.5,61.3 269.0,61.4 268.7,62.0 265.3,61.6 262.0,61.7 261.4,61.5 261.0,61.3 261.2,60.6 260.7,60.6 260.1,60.7 260.4,59.9 260.2,59.4 259.8,56.2 260.0,52.9 259.9,52.1 260.2,51.8 260.6,51.7 260.6,51.2 261.1,51.3 261.5,51.1 262.1,50.9 265.3,51.1 268.2,51.2 268.9,51.2 269.3,51.4 270.0,51.1 270.3,51.3 270.5,51.6 270.4,52.2 270.6,52.9" fill="#1000aa"/>
<polygon points="281.5,56.2 281.4,59.3 281.4,60.0 280.9,60.1 281.0,60.6 281.0,61.1 280.5,61.0 280.2,61.3 279.8,61.8 276.5,61.7 273.4,61.4 272.9,61.0 272.1,61.4 271.9,61.1 271.5,61.0 271.1,60.9 271.0,60.4 271.2,59.5 271.4,56.2 271.4,53.0 271.3,52.3 271.5,51.9 271.9,51.8 272.2,51.6 272.4,51.3 272.9,51.3 273.7,51.5 276.5,51.1 279.4,51.2 279.9,51.5 280.7,51.1 281.5,50.8 281.6,51.2 282.1,51.3 281.7,52.2 281.7,53.0" fill="#12f85e"/>
<polygon points="292.4,56.2 292.6,59.3 292.5,59.9 292.8,60.7 292.5,60.9 292.3,61.2 291.9,61.2 291.4,61.3 291.0,61.7 287.7,61.2 284.7,61.1 284.1,61.1 283.5,61.2 283.0,61.2 282.9,60.9 282.6,60.6 283.0,59.8 283.0,59.1 282.5,56.2 282.7,53.1 282.5,52.2 282.7,51.9 283.0,51.6 283.1,51.3 283.6,51.3 283.7,50.8 284.6,51.1 287.7,51.3 290.7,51.2 291.3,51.2 291.7,51.4 292.6,51.0 292.7,51.3 293.0,51.5 292.7,52.3 292.8,53.0" fill="#1000aa"/>
<polygon points="304.3,56.2 304.2,59.5 304.4,60.4 304.5,61.1 303.9,61.0 303.6,61.3 302.7,60.8 302.3,60.8 301.8,61.1 298.9,60.9 296.0,61.1 294.9,61.6 294.6,61.4 294.0,61.4 294.2,60.8 294.1,60.4 293.9,60.0 294.0,59.3 293.4,56.2 293.7,53.0 293.5,52.1 293.9,51.9 294.0,51.4 294.5,51.5 294.9,51.5 295.6,51.7 296.1,51.6 298.9,51.0 301.9,51.2 302.6,51.2 303.0,51.3 303.3,51.4 303.5,51.8 303.4,52.2 303.9,52.4 303.9,53.1" fill="#12f85e"/>
<polygon points="315.1,56.2 315.3,59.4 315.3,60.2 314.8,60.3 314.8,60.8 314.9,61.3 314.4,61.3 314.2,61.8 313.2,61.3 310.1,61.7 307.0,61.3 306.6,61.0 306.1,61.0 306.0,60.6 305.4,60.7 305.4,60.3 304.8,60.3 304.8,59.5 304.8,56.2 304.8,52.9 304.7,52.1 305.2,51.9 305.1,51.4 305.9,51.7 306.1,51.4 306.5,51.3 307.2,51.3 310.1,50.9 313.2,51.0 314.0,50.9 314.5,51.0 314.6,51.3 314.9,51.6 314.8,52.1 314.9,52.5 315.3,53.0" fill="#1000aa"/>
<polygon points="203.1,67.6 203.0,70.7 203.0,71.5 202.8,71.8 202.5,72.0 202.5,72.5 202.0,72.4 201.6,72.6 201.2,73.0 198.0,73.0 194.7,73.1 194.1,73.0 194.0,72.4 193.7,72.3 193.6,71.9 193.0,72.0 192.8,71.6 192.8,70.9 192.6,67.6 192.5,64.2 192.6,63.5 193.1,63.4 193.1,62.9 193.8,63.1 194.0,62.9 194.6,63.0 195.2,62.9 198.0,62.2 201.2,62.3 201.9,62.3 202.1,62.8 202.3,63.0 202.6,63.2 202.8,63.5 203.0,63.8 203.1,64.4" fill="#12f85e"/>
<polygon points="214.6,67.6 214.2,70.7 214.2,71.4 214.2,72.0 213.8,72.1 213.4,72.2 213.6,72.8 213.1,72.9 212.2,72.7 209.2,72.5 206.0,73.1 205.3,72.9 205.1,72.5 204.7,72.5 204.6,72.1 204.1,72.1 204.5,71.3 204.1,70.8 204.2,67.6 204.6,64.8 204.2,63.8 204.3,63.3 204.0,62.6 204.2,62.2 204.8,62.4 205.5,62.5 205.9,62.1 209.2,62.7 212.3,62.5 212.8,62.7 213.3,62.7 213.8,62.7 214.1,62.9 214.3,63.2 214.2,63.8 214.6,64.3" fill="#a80008"/>
<polygon points="225.7,67.6 225.6,70.9 225.1,71.2 225.2,71.8 225.3,72.3 224.9,72.5 224.6,72.7 224.1,72.7 223.4,72.7 220.4,73.0 217.2,73.0 216.7,72.7 216.3,72.6 216.2,72.2 215.7,72.2 215.6,71.9 215.7,71.3 215.5,70.7 215.3,67.6 215.2,64.4 214.9,63.4 215.4,63.3 215.6,63.0 215.6,62.5 216.4,62.9 216.7,62.6 217.5,62.7 220.4,62.4 223.4,62.6 224.3,62.4 224.5,62.8 225.1,62.6 225.4,62.8 225.5,63.2 225.8,63.5 225.8,64.3" fill="#12f85e"/>
<polygon points="236.7,67.6 236.9,70.9 236.6,71.5 236.3,71.7 236.2,72.1 236.1,72.5 235.8,72.6 235.3,72.6 234.6,72.6 231.6,72.6 228.3,73.1 227.8,72.9 227.7,72.3 227.1,72.5 226.7,72.5 226.7,72.0 226.8,71.3 226.5,70.9 226.5,67.6 226.7,64.5 226.6,63.8 227.0,63.6 226.6,62.8 227.0,62.7 227.3,62.5 227.6,62.2 228.4,62.3 231.6,62.5 234.6,62.6 235.2,62.8 235.5,63.0 236.2,62.7 236.5,62.9 236.4,63.4 236.5,63.9 236.9,64.3" fill="#a80008"/>
<polygon points="247.8,67.6 247.8,70.7 248.2,71.8 247.8,72.0 247.7,72.3 247.5,72.6 247.1,72.7 246.8,73.1 245.9,72.8 242.8,72.7 239.6,73.0 239.0,72.9 238.6,72.7 238.4,72.4 238.1,72.3 237.8,72.0 237.9,71.4 237.7,70.8 237.8,67.6 237.8,64.5 237.8,63.8 238.3,63.7 238.2,63.1 238.7,63.2 238.7,62.7 238.7,62.1 239.7,62.3 242.8,62.2 246.2,61.9 246.7,62.3 247.2,62.4 246.9,63.3 247.4,63.2 247.4,63.6 247.6,64.0 247.6,64.7" fill="#12f85e"/>
<polygon points="259.3,67.6 259.3,70.9 259.2,71.6 258.7,71.7 258.6,72.1 258.6,72.5 258.4,72.8 257.8,72.8 257.1,72.7 254.0,72.5 251.1,72.6 250.5,72.5 249.8,72.7 249.4,72.6 249.1,72.5 248.7,72.3 248.5,71.9 248.7,71.0 248.6,67.6 249.1,64.6 248.9,63.7 249.1,63.3 249.4,63.2 249.5,62.8 249.6,62.4 250.3,62.6 251.0,62.5 254.0,62.7 257.0,62.7 257.9,62.4 258.0,62.9 258.4,62.9 259.0,62.8 259.1,63.2 259.0,63.8 259.4,64.3" fill="#a80008"/>
<polygon points="270.2,67.6 270.1,70.6 270.3,71.5 270.0,71.7 269.6,71.8 269.9,72.6 269.3,72.5 268.9,72.6 268.4,73.0 265.3,72.8 262.2,72.8 261.5,72.7 261.3,72.4 260.8,72.4 260.8,72.0 260.3,72.0 260.0,71.6 260.2,70.8 260.0,67.6 260.2,64.5 260.2,63.7 260.1,63.2 260.6,63.1 260.7,62.8 261.0,62.6 261.8,62.9 262.1,62.3 265.3,62.4 268.1,62.8 269.1,62.4 269.4,62.7 269.7,62.9 270.5,62.6 270.5,63.1 270.8,63.4 270.4,64.5" fill="#12f85e"/>
<polygon points="281.5,67.6 281.5,70.8 281.6,71.6 281.2,71.8 281.3,72.3 280.9,72.4 280.8,72.9 280.3,72.9 279.8,73.3 276.5,73.4 273.4,72.8 272.5,73.0 272.4,72.5 271.9,72.5 271.8,72.2 271.5,72.0 271.7,71.3 271.4,70.8 271.1,67.6 271.1,64.3 271.3,63.7 271.9,63.7 271.8,63.1 272.3,63.1 272.3,62.6 272.5,62.2 273.4,62.5 276.5,61.9 279.8,62.1 280.2,62.5 280.5,62.8 280.8,62.9 281.2,63.0 281.3,63.4 281.2,64.0 281.3,64.6" fill="#a80008"/>
<polygon points="292.9,67.6 292.8,70.8 293.2,71.8 292.8,72.1 292.6,72.4 292.3,72.7 292.1,72.9 291.2,72.5 290.8,72.8 287.7,72.7 284.6,72.8 283.8,72.9 283.5,72.6 283.7,71.9 283.4,71.8 282.7,72.0 282.5,71.6 282.4,70.9 282.2,67.6 282.4,64.4 282.2,63.4 282.7,63.3 282.8,62.9 283.2,62.9 283.8,63.0 284.0,62.7 284.7,62.6 287.7,62.1 290.9,62.3 291.3,62.7 291.6,62.9 291.9,63.1 292.2,63.3 292.4,63.5 292.5,63.9 292.7,64.5" fill="#12f85e"/>
<polygon points="303.9,67.6 303.8,70.7 303.8,71.4 303.4,71.5 303.2,71.8 303.3,72.3 303.0,72.6 302.9,73.1 302.2,73.2 298.9,73.5 295.5,73.3 295.4,72.4 294.9,72.4 294.5,72.3 294.2,72.2 293.9,72.0 293.7,71.6 293.5,71.0 293.6,67.6 293.7,64.4 293.6,63.6 293.9,63.2 294.1,62.9 294.4,62.8 294.8,62.8 294.9,62.3 295.6,62.1 298.9,62.3 302.1,62.3 302.5,62.7 303.0,62.7 303.2,63.0 303.3,63.3 303.8,63.3 304.0,63.7 304.5,64.1" fill="#a80008"/>
<polygon points="315.0,67.6 315.5,71.0 315.1,71.4 314.9,71.8 314.7,72.1 314.3,72.2 314.0,72.3 313.6,72.4 313.1,72.7 310.1,72.8 306.8,73.1 306.2,72.9 305.6,73.0 305.6,72.4 305.1,72.5 305.1,72.0 305.4,71.3 305.2,70.7 304.9,67.6 304.7,64.3 305.2,63.9 305.0,63.2 305.4,63.1 305.4,62.6 306.1,62.9 306.3,62.5 306.9,62.2 310.1,62.6 313.1,62.6 313.6,62.8 314.1,62.8 314.5,62.9 315.0,62.9 314.9,63.4 315.2,63.7 315.2,64.5" fill="#12f85e"/>
<polygon points="202.8,79.1 202.5,81.9 203.0,82.9 203.2,83.6 202.9,83.8 202.7,84.1 202.3,84.2 201.9,84.4 201.2,84.4 198.0,84.1 195.0,84.2 194.6,83.7 194.0,83.9 193.2,84.2 192.9,84.0 192.8,83.6 192.6,83.2 192.9,82.2 193.2,79.1 193.2,76.1 193.5,75.6 193.2,74.9 193.4,74.6 193.5,74.2 193.7,73.9 194.3,74.0 194.9,73.9 198.0,74.2 201.2,73.6 201.8,73.8 202.6,73.6 202.5,74.2 203.0,74.2 203.2,74.6 202.9,75.3 202.6,76.2" fill="#1000aa"/>
<polygon points="214.4,79.1 214.5,82.4 214.5,83.1 214.4,83.6 214.2,83.9 213.7,83.8 213.4,84.1 212.7,83.8 212.2,84.1 209.2,84.2 206.1,84.3 205.5,84.1 204.7,84.5 204.2,84.5 204.2,83.9 204.3,83.4 204.1,82.9 204.0,82.3 204.6,79.1 204.7,76.2 204.4,75.4 204.2,74.7 204.2,74.2 204.6,74.1 204.6,73.5 205.4,73.9 205.9,73.6 209.2,74.1 212.1,74.2 212.7,74.3 213.1,74.4 213.6,74.3 213.9,74.5 213.9,75.0 214.5,75.1 214.2,75.9" fill="#12f85e"/>
<polygon points="225.9,79.1 225.6,82.3 226.0,83.3 225.6,83.6 225.4,83.9 224.9,83.9 224.8,84.3 224.1,84.1 223.4,84.0 220.4,84.3 217.6,83.8 216.7,84.1 216.6,83.7 215.9,83.9 215.8,83.6 215.3,83.5 215.6,82.8 215.2,82.3 215.2,79.1 214.9,75.6 214.9,74.9 215.2,74.5 215.7,74.4 215.9,74.2 216.3,74.1 216.7,74.0 217.5,74.1 220.4,74.2 223.5,73.9 224.1,74.1 224.3,74.4 225.0,74.1 224.9,74.7 225.3,74.8 225.3,75.3 225.9,75.7" fill="#1000aa"/>
<polygon points="236.6,79.1 236.9,82.3 236.4,82.8 236.7,83.5 236.6,83.9 236.3,84.1 236.0,84.3 235.7,84.6 234.7,84.2 231.6,84.6 228.5,84.3 227.7,84.5 227.2,84.4 227.3,83.8 226.7,83.8 226.6,83.5 227.0,82.6 227.1,81.9 227.1,79.1 226.4,75.8 227.0,75.5 226.4,74.5 226.9,74.4 226.7,73.8 227.4,74.0 227.8,73.9 228.4,73.6 231.6,74.0 234.7,74.0 235.5,73.7 235.9,74.0 236.3,74.1 236.5,74.3 236.1,75.1 236.3,75.5 236.7,75.9" fill="#12f85e"/>
<polygon points="247.6,79.1 248.2,82.4 247.8,82.9 248.0,83.6 247.4,83.5 247.4,83.9 246.9,83.9 246.6,84.1 245.8,84.0 242.8,84.4 239.9,84.0 239.0,84.4 238.6,84.1 238.4,83.8 238.1,83.7 237.8,83.5 237.5,83.2 237.8,82.2 238.0,79.1 237.6,75.8 237.8,75.2 237.9,74.8 238.3,74.7 238.5,74.4 238.7,74.1 239.2,74.1 239.8,74.0 242.8,73.7 246.0,73.8 246.7,73.8 247.0,74.1 247.0,74.5 247.6,74.4 247.8,74.8 247.8,75.3 247.9,75.9" fill="#1000aa"/>
<polygon points="258.9,79.1 259.3,82.3 259.0,82.8 258.9,83.3 258.8,83.7 258.4,83.8 258.5,84.4 257.6,83.9 257.2,84.3 254.0,84.6 251.0,84.2 250.1,84.4 249.7,84.2 249.5,84.0 249.3,83.7 249.3,83.2 248.9,83.0 248.9,82.2 248.9,79.1 249.4,76.2 249.1,75.3 249.4,75.0 249.3,74.5 249.6,74.2 249.9,74.2 250.0,73.6 251.0,74.0 254.0,73.5 257.4,73.4 258.0,73.6 258.5,73.8 258.9,73.8 258.6,74.6 258.9,74.8 259.0,75.3 258.8,76.1" fill="#12f85e"/>
<polygon points="270.4,79.1 270.2,82.1 269.8,82.6 269.9,83.2 269.6,83.3 269.9,84.0 269.5,84.1 269.2,84.5 268.5,84.5 265.3,84.6 262.1,84.4 261.5,84.2 260.7,84.5 260.7,84.0 260.5,83.7 260.4,83.3 260.2,82.9 260.6,82.0 260.6,79.1 260.2,75.9 260.4,75.4 260.3,74.7 260.2,74.2 260.4,73.8 260.7,73.6 261.5,74.0 262.1,73.8 265.3,73.6 268.4,73.7 268.8,74.3 269.2,74.3 269.7,74.3 269.9,74.6 270.3,74.7 270.6,75.0 270.4,75.8" fill="#1000aa"/>
<polygon points="281.8,79.1 281.9,82.4 281.7,83.0 281.0,83.1 281.1,83.6 280.7,83.6 280.4,83.8 279.9,83.8 279.4,84.0 276.5,84.0 273.4,84.1 272.9,83.9 272.3,84.1 271.7,84.2 271.6,83.8 271.3,83.6 270.9,83.3 271.2,82.3 271.4,79.1 271.7,76.1 271.6,75.3 272.2,75.3 272.0,74.7 272.0,74.3 272.5,74.3 272.7,73.9 273.2,73.5 276.5,73.6 279.6,73.8 280.0,74.2 280.6,74.1 280.9,74.3 281.4,74.3 281.4,74.8 281.7,75.1 281.9,75.7" fill="#12f85e"/>
<polygon points="293.2,79.1 292.9,82.3 292.5,82.8 292.5,83.3 292.1,83.4 291.8,83.5 292.0,84.2 291.5,84.2 290.9,84.5 287.7,84.6 284.2,84.9 283.6,84.6 283.6,84.0 283.1,84.0 283.1,83.5 283.0,83.1 282.7,82.8 283.0,82.0 282.9,79.1 282.5,75.9 282.7,75.3 282.7,74.7 282.7,74.3 282.7,73.7 283.1,73.6 283.6,73.5 284.5,73.7 287.7,74.1 290.8,73.8 291.3,74.1 291.8,74.1 292.2,74.2 292.1,74.7 292.5,74.9 292.6,75.3 293.1,75.7" fill="#1000aa"/>
<polygon points="304.1,79.1 304.0,82.2 303.8,82.8 304.2,83.7 303.9,83.9 303.7,84.2 303.5,84.5 302.8,84.4 302.0,84.3 298.9,83.8 296.0,83.9 295.2,84.1 295.0,83.7 294.1,84.2 294.2,83.6 294.1,83.3 294.0,82.8 294.0,82.1 293.6,79.1 293.8,75.9 293.7,75.1 293.8,74.6 294.1,74.4 294.2,74.1 294.4,73.7 295.0,73.7 295.7,73.8 298.9,74.2 301.7,74.3 302.3,74.4 303.1,74.1 303.4,74.3 303.7,74.4 303.8,74.8 303.9,75.2 303.8,76.0" fill="#12f85e"/>
<polygon points="315.1,79.1 315.1,82.2 315.2,82.9 315.0,83.3 314.8,83.6 314.8,84.2 314.2,84.0 314.0,84.4 313.4,84.5 310.1,84.5 306.9,84.4 306.0,84.6 305.8,84.2 305.3,84.2 305.6,83.4 305.4,83.2 305.2,82.8 305.5,81.9 304.9,79.1 305.4,76.1 305.0,75.2 305.3,74.9 305.0,74.1 305.5,74.1 305.7,73.8 306.3,73.9 306.9,73.7 310.1,73.6 313.2,73.9 313.8,74.0 314.5,73.7 314.4,74.4 315.0,74.3 314.7,75.0 314.7,75.6 314.7,76.2" fill="#1000aa"/>
<polygon points="203.2,90.5 202.7,93.4 202.5,94.0 202.8,94.7 202.4,94.8 202.8,95.6 202.3,95.6 201.9,95.8 201.3,96.1 198.0,95.8 194.8,95.8 194.5,95.3 193.7,95.6 193.7,95.1 193.1,95.2 193.2,94.7 192.6,94.6 192.5,93.9 193.0,90.5 193.4,87.6 193.4,86.9 193.3,86.4 193.6,86.2 193.5,85.6 193.8,85.5 194.0,85.0 194.5,84.7 198.0,85.0 201.3,85.0 201.6,85.6 202.2,85.4 202.1,86.1 202.8,85.8 203.1,86.0 203.3,86.4 203.1,87.3" fill="#12f85e"/>
<polygon points="214.6,90.5 214.7,93.9 214.3,94.4 214.1,94.7 213.5,94.7 213.3,94.9 213.1,95.1 213.0,95.7 212.4,95.8 209.2,95.5 205.9,96.1 205.5,95.5 204.8,95.7 204.3,95.7 204.5,95.1 204.1,95.0 204.2,94.3 204.5,93.4 204.3,90.5 204.1,87.3 204.2,86.7 204.0,85.9 204.4,85.9 204.3,85.3 205.0,85.5 205.6,85.6 206.2,85.4 209.2,85.8 212.1,85.6 212.9,85.5 213.3,85.6 213.6,85.7 213.8,86.1 214.4,86.0 214.3,86.6 214.7,87.1" fill="#a80008"/>
<polygon points="225.4,90.5 225.7,93.8 225.3,94.2 225.4,94.9 225.3,95.3 224.9,95.4 224.5,95.4 224.1,95.6 223.8,96.1 220.4,95.6 217.3,95.7 216.7,95.6 216.6,95.1 216.1,95.1 216.1,94.7 215.6,94.7 215.4,94.3 215.3,93.7 215.3,90.5 215.1,87.2 215.3,86.6 215.5,86.2 215.7,85.9 215.7,85.4 216.3,85.5 216.6,85.2 217.6,85.8 220.4,85.2 223.4,85.5 224.2,85.3 224.6,85.5 225.1,85.5 225.1,85.9 225.6,86.0 225.4,86.7 225.5,87.4" fill="#12f85e"/>
<polygon points="237.0,90.5 236.6,93.6 236.7,94.4 236.6,94.8 236.3,95.1 235.8,95.0 235.6,95.3 235.5,95.7 235.0,96.1 231.6,95.6 228.4,96.0 227.7,95.9 227.2,95.8 227.2,95.2 226.8,95.2 226.9,94.6 226.6,94.4 227.0,93.4 226.4,90.5 226.6,87.4 226.5,86.6 226.7,86.2 226.7,85.8 226.7,85.2 227.2,85.1 227.9,85.5 228.6,85.4 231.6,85.7 234.5,85.8 235.1,85.8 235.6,85.8 236.3,85.5 236.7,85.6 236.9,85.9 236.9,86.5 236.9,87.2" fill="#a80008"/>
<polygon points="247.8,90.5 247.8,93.6 247.5,94.1 247.9,95.0 247.7,95.2 247.4,95.4 247.4,96.0 246.8,95.9 246.0,95.9 242.8,95.5 239.6,95.9 238.8,95.9 238.3,95.9 238.1,95.6 237.8,95.4 237.7,95.0 237.9,94.3 238.0,93.5 237.8,90.5 237.8,87.4 237.7,86.6 238.1,86.3 237.7,85.5 238.2,85.5 238.3,85.0 239.2,85.5 239.5,84.9 242.8,85.0 245.9,85.4 246.9,85.0 247.0,85.5 247.3,85.7 247.6,85.8 247.5,86.4 247.6,86.8 247.9,87.4" fill="#12f85e"/>
<polygon points="259.2,90.5 258.9,93.5 258.6,94.0 258.4,94.3 258.7,95.0 258.8,95.6 258.4,95.7 258.2,96.1 257.6,96.4 254.0,96.3 251.0,95.5 250.3,95.6 250.3,95.0 249.9,94.9 249.3,95.1 249.2,94.7 248.8,94.5 248.8,93.8 248.9,90.5 249.1,87.4 249.3,86.8 249.2,86.3 249.5,86.1 249.9,86.0 250.1,85.8 250.3,85.4 250.8,85.0 254.0,85.0 257.4,84.9 258.1,84.9 258.2,85.5 258.8,85.4 258.7,86.0 259.2,86.0 258.9,86.8 258.9,87.5" fill="#a80008"/>
<polygon points="270.6,90.5 270.6,93.8 270.7,94.7 270.2,94.8 270.2,95.3 269.5,95.0 269.6,95.7 269.0,95.6 268.6,96.0 265.3,95.8 262.1,95.8 261.2,96.0 261.2,95.4 260.9,95.2 261.1,94.5 260.9,94.3 260.8,93.9 260.3,93.6 259.9,90.5 260.0,87.2 260.1,86.5 259.9,85.8 260.1,85.5 260.5,85.4 261.1,85.5 261.2,85.0 262.0,85.1 265.3,84.8 268.3,85.3 269.0,85.4 269.2,85.7 269.3,86.1 269.6,86.3 270.0,86.3 270.5,86.5 270.5,87.2" fill="#12f85e"/>
<polygon points="281.7,90.5 282.0,93.9 282.0,94.8 281.7,95.1 281.4,95.3 280.6,94.9 280.3,95.1 279.8,95.0 279.5,95.6 276.5,95.7 273.6,95.3 272.7,95.7 272.1,95.7 272.0,95.2 271.6,95.2 271.2,95.1 271.1,94.6 271.2,93.7 270.9,90.5 271.3,87.3 271.4,86.6 271.7,86.3 271.7,85.9 272.2,85.9 272.4,85.6 272.8,85.5 273.5,85.5 276.5,84.9 279.8,85.0 280.5,85.0 280.7,85.5 280.8,85.8 281.2,85.9 281.5,86.1 281.6,86.6 281.5,87.4" fill="#a80008"/>
<polygon points="292.7,90.5 292.4,93.5 292.5,94.2 292.4,94.6 292.6,95.3 292.4,95.6 291.7,95.3 291.4,95.6 291.0,96.1 287.7,95.7 284.6,95.7 283.9,95.7 283.7,95.3 283.4,95.1 283.1,94.9 283.0,94.6 282.5,94.4 282.8,93.5 282.7,90.5 282.2,87.1 282.4,86.5 282.3,85.8 282.6,85.6 282.9,85.4 283.6,85.6 284.2,85.7 284.6,85.4 287.7,85.5 290.7,85.4 291.5,85.3 292.0,85.3 292.2,85.7 292.5,85.8 293.0,85.8 292.9,86.5 292.7,87.4" fill="#12f85e"/>
<polygon points="304.0,90.5 304.3,93.9 303.9,94.3 303.7,94.7 303.4,94.9 303.4,95.3 303.1,95.5 302.6,95.5 301.8,95.4 298.9,95.8 295.9,95.5 295.1,95.7 294.4,95.9 293.8,95.9 293.8,95.4 293.8,94.9 293.8,94.4 294.2,93.4 293.9,90.5 293.9,87.4 294.1,86.8 293.9,86.2 293.7,85.5 294.2,85.4 294.6,85.4 294.8,85.0 295.8,85.3 298.9,85.4 301.9,85.4 302.7,85.3 302.8,85.8 303.3,85.8 303.4,86.1 303.8,86.2 304.0,86.6 304.3,87.1" fill="#a80008"/>
<polygon points="315.4,90.5 315.2,93.7 314.6,93.9 314.7,94.5 314.7,95.0 314.5,95.2 314.6,95.9 314.3,96.2 313.5,96.2 310.1,96.3 306.8,96.0 306.2,95.9 306.2,95.2 305.6,95.3 305.3,95.2 305.1,94.9 305.1,94.3 305.1,93.6 304.9,90.5 304.9,87.3 305.4,86.9 305.6,86.6 305.7,86.2 305.9,86.0 305.8,85.3 306.0,84.9 306.7,84.9 310.1,85.2 313.3,85.1 313.7,85.6 314.4,85.3 314.5,85.8 314.6,86.1 315.2,86.0 315.1,86.7 315.2,87.3" fill="#12f85e"/>
<polygon points="202.9,101.9 202.9,105.0 203.1,105.8 202.9,106.2 202.8,106.6 202.8,107.1 202.3,107.1 202.1,107.5 201.0,107.0 198.0,107.2 195.0,107.0 194.5,106.7 194.3,106.3 193.5,106.7 193.6,106.2 193.0,106.3 192.9,105.8 193.1,105.0 192.8,101.9 192.8,98.7 192.9,98.0 193.1,97.6 193.0,97.1 193.1,96.7 193.6,96.7 193.9,96.3 194.7,96.3 198.0,96.7 201.1,96.8 201.4,97.3 202.2,96.9 202.1,97.5 202.7,97.4 202.8,97.7 203.1,98.0 203.3,98.6" fill="#1000aa"/>
<polygon points="214.2,101.9 214.4,105.2 214.1,105.7 213.9,106.0 213.6,106.2 213.7,106.8 213.2,106.8 212.9,107.0 212.4,107.4 209.2,107.5 205.8,107.6 205.3,107.3 204.8,107.2 204.5,107.0 204.4,106.6 204.3,106.2 204.5,105.5 204.3,105.0 204.4,101.9 203.9,98.6 204.0,98.0 204.2,97.6 204.6,97.4 204.7,97.1 205.1,97.1 205.3,96.6 205.9,96.4 209.2,96.8 212.1,97.0 212.8,97.0 213.3,97.0 213.9,96.9 214.2,97.1 214.2,97.6 214.1,98.2 214.2,98.8" fill="#12f85e"/>
<polygon points="225.5,101.9 225.7,105.2 225.2,105.6 225.2,106.1 225.4,106.8 225.3,107.1 224.8,107.2 224.3,107.2 223.4,106.9 220.4,107.2 217.5,106.8 216.9,106.7 216.5,106.6 216.3,106.3 215.7,106.5 215.4,106.3 214.8,106.2 214.6,105.6 215.0,101.9 215.3,98.7 215.4,98.1 215.4,97.6 215.8,97.4 216.2,97.4 216.1,96.8 216.5,96.6 217.4,96.8 220.4,97.1 223.5,96.7 224.0,97.0 224.2,97.3 224.7,97.3 225.2,97.2 225.7,97.4 225.6,98.0 225.7,98.6" fill="#1000aa"/>
<polygon points="236.6,101.9 236.7,105.1 236.8,105.9 236.8,106.5 236.6,106.8 236.3,106.9 235.7,106.8 235.0,106.6 234.7,107.0 231.6,106.7 228.6,107.0 227.9,107.0 227.2,107.2 226.9,107.0 227.0,106.4 226.7,106.3 226.6,105.8 226.6,105.0 226.7,101.9 226.2,98.5 226.3,97.9 226.8,97.7 226.9,97.3 226.8,96.7 227.6,97.1 228.0,97.0 228.5,96.7 231.6,96.7 234.7,96.7 235.5,96.6 235.6,97.1 236.0,97.3 236.7,97.0 236.7,97.5 236.3,98.3 236.4,98.9" fill="#12f85e"/>
<polygon points="248.4,101.9 248.1,105.2 248.0,105.9 247.7,106.2 247.9,106.8 247.1,106.6 247.2,107.2 246.6,107.0 245.7,106.7 242.8,107.1 240.0,106.7 239.3,106.8 239.0,106.5 238.3,106.8 237.9,106.8 237.5,106.6 237.7,105.8 237.1,105.5 237.2,101.9 237.2,98.5 237.7,98.0 238.0,97.7 238.3,97.6 238.5,97.3 239.1,97.4 239.3,97.2 239.7,96.6 242.8,96.6 246.0,96.6 246.5,97.0 247.1,96.8 246.9,97.5 247.5,97.4 247.7,97.7 247.7,98.2 247.8,98.9" fill="#1000aa"/>
<polygon points="259.4,101.9 259.1,105.1 259.3,105.9 259.1,106.3 258.8,106.6 258.2,106.4 258.0,106.7 257.7,106.8 257.2,107.3 254.0,107.0 250.9,107.3 250.0,107.5 249.6,107.2 249.7,106.6 249.4,106.5 249.2,106.1 248.8,105.9 248.9,105.1 249.1,101.9 249.3,99.0 249.4,98.4 249.3,97.8 249.3,97.3 249.2,96.7 249.5,96.4 249.9,96.2 250.6,96.1 254.0,96.3 257.2,96.6 257.4,97.3 258.0,97.1 258.5,97.2 258.6,97.5 259.2,97.4 259.1,98.1 259.7,98.4" fill="#12f85e"/>
<polygon points="270.2,101.9 270.3,105.1 270.5,105.9 270.2,106.2 270.1,106.7 269.8,106.8 269.6,107.1 269.3,107.4 268.5,107.4 265.3,107.1 262.2,107.0 261.5,107.0 261.4,106.6 261.0,106.5 260.3,106.7 260.1,106.4 260.2,105.8 259.8,105.3 259.8,101.9 259.8,98.5 260.0,97.9 260.4,97.7 260.9,97.7 260.8,97.1 261.3,97.2 261.5,96.8 262.2,96.8 265.3,96.6 268.6,96.3 268.9,96.9 269.6,96.8 269.9,96.9 270.1,97.2 270.5,97.4 270.3,98.1 270.7,98.6" fill="#1000aa"/>
<polygon points="281.3,101.9 281.6,105.1 281.8,106.0 281.8,106.6 281.0,106.4 280.8,106.6 280.6,106.9 280.2,107.0 279.6,107.2 276.5,107.4 273.3,107.2 272.6,107.1 272.4,106.8 271.8,106.9 272.0,106.3 271.8,106.0 271.3,105.9 271.3,105.1 271.2,101.9 271.1,98.6 271.3,97.9 271.4,97.5 272.0,97.6 272.4,97.6 272.7,97.4 273.0,97.2 273.4,96.7 276.5,96.7 279.6,96.6 280.5,96.5 281.0,96.5 281.0,97.0 280.9,97.6 281.2,97.8 281.0,98.4 281.2,99.0" fill="#12f85e"/>
<polygon points="293.3,101.9 292.8,105.1 292.9,105.9 292.2,105.9 292.4,106.6 291.9,106.4 291.9,107.0 291.5,107.1 290.8,107.2 287.7,107.0 284.7,106.9 284.0,107.0 283.2,107.3 283.3,106.6 282.8,106.6 282.8,106.2 282.6,105.8 282.8,104.9 282.8,101.9 282.8,98.9 282.2,97.8 282.7,97.5 282.7,97.1 283.0,96.9 283.6,97.0 284.2,97.1 284.9,97.2 287.7,96.8 290.5,97.2 291.5,96.7 291.7,97.1 292.3,96.9 292.4,97.4 293.0,97.3 292.9,98.0 293.0,98.6" fill="#1000aa"/>
<polygon points="304.3,101.9 303.9,105.0 303.7,105.6 303.5,105.9 303.3,106.2 303.1,106.4 302.9,106.8 302.5,106.9 302.1,107.3 298.9,107.0 295.6,107.4 294.8,107.5 294.7,107.0 294.5,106.7 294.0,106.7 294.0,106.2 293.7,105.9 293.6,105.2 294.0,101.9 294.1,99.0 294.1,98.2 294.4,98.0 294.6,97.7 294.6,97.4 295.0,97.3 295.3,97.1 295.8,96.7 298.9,96.5 302.3,96.2 302.8,96.6 303.0,97.1 303.3,97.2 303.8,97.1 303.9,97.6 304.2,97.8 304.4,98.5" fill="#12f85e"/>
<polygon points="315.4,101.9 315.0,105.0 314.9,105.6 315.0,106.2 315.2,106.9 314.7,106.8 314.5,107.1 313.7,106.8 313.2,107.1 310.1,107.1 307.1,107.0 306.2,107.2 305.9,106.9 305.8,106.6 305.1,106.8 305.3,106.1 305.4,105.5 305.5,104.8 305.0,101.9 305.1,98.8 305.4,98.3 305.2,97.6 305.1,97.1 305.5,96.9 305.9,96.9 306.2,96.6 306.9,96.5 310.1,96.5 313.1,96.8 314.0,96.5 314.5,96.6 314.7,97.0 314.9,97.3 314.7,97.9 315.2,98.0 314.8,99.0" fill="#1000aa"/>
<polygon points="203.1,113.4 202.8,116.4 202.8,117.0 203.0,117.8 202.8,118.0 202.8,118.5 202.2,118.3 201.9,118.6 200.9,118.3 198.0,118.9 195.0,118.4 194.2,118.5 193.8,118.4 193.3,118.4 193.3,117.9 192.8,117.9 192.9,117.3 193.1,116.4 192.6,113.4 193.0,110.2 192.6,109.2 193.0,109.0 193.4,108.9 193.2,108.2 193.9,108.5 194.3,108.3 195.0,108.3 198.0,108.1 200.9,108.5 201.7,108.3 202.1,108.5 202.7,108.3 202.5,109.0 203.0,109.0 202.9,109.6 203.1,110.2" fill="#12f85e"/>
<polygon points="214.2,113.4 214.3,116.5 214.4,117.3 214.1,117.7 214.0,118.0 213.3,117.7 213.1,118.0 212.7,118.2 212.4,118.7 209.2,118.8 206.0,118.8 205.1,119.0 204.9,118.6 204.6,118.3 204.4,118.0 204.6,117.4 204.0,117.3 204.1,116.5 204.2,113.4 203.6,109.9 204.3,109.6 204.6,109.3 204.8,109.0 205.1,108.9 205.0,108.3 205.4,108.2 206.1,108.2 209.2,107.9 212.6,107.6 213.3,107.8 213.6,108.1 213.7,108.5 213.6,109.1 213.8,109.3 214.2,109.5 214.4,110.1" fill="#a80008"/>
<polygon points="225.5,113.4 225.4,116.4 225.8,117.4 225.4,117.7 225.2,118.0 224.9,118.1 224.5,118.3 224.1,118.4 223.3,118.2 220.4,118.7 217.2,118.8 216.5,118.7 215.9,118.7 215.6,118.5 216.0,117.7 215.7,117.5 215.5,117.1 215.4,116.5 215.3,113.4 215.4,110.3 214.9,109.2 215.1,108.7 215.7,108.8 216.0,108.6 216.1,108.2 216.9,108.6 217.4,108.3 220.4,107.8 223.8,107.7 224.3,108.1 224.9,108.0 225.0,108.5 225.2,108.7 225.3,109.1 224.9,109.9 225.1,110.4" fill="#12f85e"/>
<polygon points="236.7,113.4 237.0,116.7 237.1,117.5 236.7,117.8 236.3,117.9 236.1,118.2 235.6,118.1 235.1,118.1 234.7,118.4 231.6,118.3 228.4,118.8 227.9,118.5 227.4,118.5 226.8,118.6 226.7,118.1 226.6,117.7 226.6,117.2 226.6,116.5 226.4,113.4 226.2,110.0 226.7,109.6 226.4,108.8 226.9,108.8 227.2,108.6 227.3,108.1 227.8,108.2 228.4,108.0 231.6,107.9 234.8,108.1 235.2,108.4 235.5,108.7 236.1,108.6 236.4,108.7 236.3,109.2 236.4,109.7 236.5,110.3" fill="#a80008"/>
<polygon points="248.3,113.4 247.8,116.4 247.8,117.2 248.2,118.0 248.0,118.3 247.2,118.0 246.9,118.2 246.5,118.4 245.8,118.4 242.8,118.5 239.7,118.6 239.1,118.4 238.8,118.2 238.6,117.9 238.4,117.7 238.3,117.3 237.9,117.2 237.6,116.6 237.7,113.4 237.3,109.9 237.4,109.2 237.8,109.0 238.0,108.7 238.6,108.8 238.6,108.3 239.2,108.4 240.0,108.6 242.8,108.4 246.1,107.9 246.7,108.1 247.3,108.0 247.3,108.6 247.7,108.6 247.8,109.0 247.5,109.8 247.9,110.2" fill="#12f85e"/>
<polygon points="259.4,113.4 259.3,116.6 259.0,117.2 258.9,117.6 259.0,118.1 258.4,118.1 258.3,118.5 257.7,118.3 257.0,118.3 254.0,118.3 251.1,118.4 250.3,118.4 250.2,117.9 249.5,118.2 249.5,117.8 249.2,117.6 248.8,117.3 248.7,116.7 248.6,113.4 248.4,109.9 249.0,109.5 249.1,109.0 249.1,108.5 249.6,108.6 250.1,108.6 250.5,108.5 251.0,108.2 254.0,108.1 257.1,108.2 257.9,108.1 258.3,108.2 258.4,108.6 258.7,108.8 259.1,108.9 258.9,109.7 259.3,110.1" fill="#a80008"/>
<polygon points="270.4,113.4 270.2,116.4 270.1,117.1 270.3,117.7 270.1,118.1 269.9,118.3 269.7,118.7 269.1,118.6 268.4,118.6 265.3,118.1 262.5,117.9 261.8,118.1 261.2,118.2 260.8,118.1 260.1,118.3 260.1,117.9 260.0,117.4 260.0,116.6 260.1,113.4 260.3,110.3 260.7,109.9 260.7,109.4 260.4,108.7 260.4,108.2 260.7,108.0 261.4,108.1 261.9,107.8 265.3,107.8 268.3,108.3 268.7,108.7 269.5,108.3 269.8,108.5 269.6,109.1 270.1,109.1 270.4,109.4 270.3,110.2" fill="#12f85e"/>
<polygon points="281.3,113.4 281.8,116.7 281.3,117.1 281.4,117.7 281.6,118.3 281.0,118.2 280.6,118.3 280.1,118.3 279.4,118.3 276.5,118.5 273.3,118.6 272.9,118.2 272.5,118.1 271.8,118.3 271.8,117.9 271.7,117.5 271.7,117.0 271.6,116.4 271.1,113.4 271.6,110.3 271.5,109.5 271.2,108.8 271.3,108.3 271.6,108.1 272.2,108.3 272.5,108.0 273.4,108.2 276.5,108.4 279.5,108.3 280.3,108.2 280.8,108.2 280.8,108.7 281.0,108.9 281.6,108.8 281.2,109.7 281.7,110.1" fill="#a80008"/>
<polygon points="293.4,113.4 293.0,116.7 292.7,117.2 292.7,117.8 292.1,117.7 291.7,117.7 291.5,118.0 291.3,118.4 290.8,118.6 287.7,118.6 284.7,118.3 283.6,118.8 283.2,118.7 282.7,118.7 282.5,118.4 282.8,117.6 282.4,117.4 282.4,116.6 282.8,113.4 282.8,110.3 282.8,109.6 282.9,109.2 283.0,108.8 283.3,108.6 283.5,108.4 283.6,107.8 284.6,108.2 287.7,108.1 290.8,108.1 291.4,108.3 291.5,108.7 292.2,108.5 292.5,108.6 293.0,108.7 293.1,109.2 293.3,109.9" fill="#12f85e"/>
<polygon points="304.1,113.4 304.0,116.5 304.1,117.4 303.7,117.6 303.8,118.1 303.5,118.3 303.2,118.5 302.4,118.2 302.1,118.8 298.9,118.8 295.6,118.8 294.9,118.8 294.7,118.3 294.0,118.6 294.0,118.1 294.0,117.6 294.1,117.0 293.9,116.5 293.9,113.4 293.8,110.2 294.2,109.8 294.1,109.2 294.1,108.7 294.3,108.5 294.5,108.1 295.1,108.2 295.6,107.8 298.9,108.2 301.8,108.5 302.3,108.6 303.0,108.4 303.1,108.9 303.5,108.9 303.7,109.1 304.1,109.3 304.3,110.0" fill="#a80008"/>
<polygon points="314.9,113.4 315.3,116.6 315.1,117.2 314.8,117.5 315.0,118.1 314.8,118.5 314.3,118.4 313.8,118.4 313.1,118.4 310.1,118.8 306.9,118.6 306.5,118.3 306.0,118.3 305.7,118.1 305.2,118.1 305.2,117.6 305.4,117.0 304.7,116.7 305.1,113.4 304.6,109.9 304.7,109.2 304.7,108.6 305.2,108.6 305.9,108.8 306.2,108.6 306.6,108.5 307.2,108.5 310.1,108.6 313.0,108.5 314.1,107.9 314.7,107.8 314.8,108.3 315.4,108.2 315.5,108.7 315.1,109.5 315.0,110.3" fill="#12f85e"/>
<polygon points="203.0,124.8 203.2,128.0 203.1,128.7 203.0,129.2 202.5,129.1 202.7,129.8 202.4,130.0 201.8,130.0 201.3,130.3 198.0,130.0 194.6,130.4 194.1,130.0 193.7,129.9 193.4,129.7 193.4,129.2 192.9,129.2 193.1,128.5 193.1,127.8 192.7,124.8 192.6,121.4 192.7,120.8 193.0,120.4 193.5,120.4 193.5,119.9 193.9,119.9 194.4,119.8 194.7,119.3 198.0,119.0 201.3,119.3 202.0,119.4 202.1,119.9 202.3,120.2 202.5,120.4 202.7,120.7 202.9,121.1 202.8,121.8" fill="#1000aa"/>
<polygon points="214.3,124.8 214.2,127.9 214.4,128.8 214.5,129.4 214.0,129.4 213.9,129.9 213.6,130.1 213.2,130.2 212.4,130.2 209.2,130.1 206.2,129.8 205.3,130.0 204.9,130.0 205.0,129.3 204.3,129.5 204.5,128.9 204.6,128.3 204.5,127.7 204.0,124.8 204.0,121.6 204.3,121.0 204.1,120.3 204.1,119.8 204.1,119.3 204.9,119.6 205.2,119.3 206.2,119.7 209.2,119.8 212.1,120.0 212.8,119.9 213.3,119.9 213.5,120.2 213.7,120.5 213.9,120.7 213.9,121.2 214.1,121.8" fill="#12f85e"/>
<polygon points="225.9,124.8 226.1,128.3 225.5,128.7 225.0,128.8 224.9,129.2 224.4,129.1 224.2,129.3 223.9,129.5 223.7,130.2 220.4,130.5 217.2,130.2 216.6,130.0 216.3,129.7 216.2,129.4 215.8,129.3 215.8,128.8 215.6,128.4 214.9,128.2 214.9,124.8 215.2,121.6 214.9,120.6 215.3,120.3 215.9,120.4 216.1,120.1 216.2,119.8 216.9,119.9 217.4,119.7 220.4,119.7 223.6,119.5 224.3,119.5 224.7,119.7 225.1,119.8 224.9,120.4 225.3,120.6 225.8,120.7 226.0,121.3" fill="#1000aa"/>
<polygon points="236.4,124.8 236.2,127.6 236.5,128.5 236.3,128.9 235.8,128.9 235.9,129.4 235.8,129.8 235.5,130.1 234.8,130.2 231.6,130.6 228.4,130.1 227.8,130.1 227.2,130.1 227.0,129.7 226.9,129.4 226.8,129.0 226.5,128.7 226.3,128.1 226.2,124.8 226.7,121.7 226.8,121.1 227.0,120.8 227.3,120.5 227.2,120.0 227.6,120.0 228.0,119.9 228.6,119.6 231.6,119.2 234.7,119.5 235.7,119.3 235.8,119.8 236.2,119.9 236.3,120.2 236.9,120.2 236.5,121.0 236.5,121.7" fill="#12f85e"/>
<polygon points="248.0,124.8 248.3,128.2 247.8,128.6 248.3,129.5 247.8,129.6 247.3,129.6 247.2,130.0 246.7,130.0 245.7,129.7 242.8,129.5 239.7,130.0 239.0,130.1 238.5,130.0 237.9,130.1 238.2,129.3 238.2,128.9 238.2,128.3 238.4,127.5 238.0,124.8 237.9,121.7 238.0,121.1 237.8,120.4 237.8,119.9 237.7,119.3 238.1,119.2 238.7,119.1 239.8,119.7 242.8,119.6 245.6,120.1 246.2,120.2 246.7,120.2 247.1,120.2 247.8,119.9 248.1,120.2 248.0,120.8 247.8,121.7" fill="#1000aa"/>
<polygon points="259.6,124.8 259.1,127.9 259.2,128.7 259.2,129.3 258.8,129.4 258.5,129.6 258.4,130.0 257.9,130.0 257.1,129.9 254.0,129.9 250.9,130.1 250.3,129.9 249.9,129.8 249.7,129.5 249.6,129.1 249.3,128.9 248.9,128.7 248.6,128.2 249.0,124.8 248.6,121.4 248.7,120.7 249.1,120.5 249.6,120.5 249.4,119.8 249.9,119.8 250.2,119.5 250.9,119.5 254.0,119.5 257.0,119.8 257.8,119.6 258.2,119.8 258.6,119.9 258.7,120.2 258.9,120.6 259.2,120.9 259.3,121.5" fill="#12f85e"/>
<polygon points="269.7,124.8 270.2,127.8 270.1,128.5 270.5,129.4 270.3,129.7 270.5,130.4 269.9,130.3 269.2,130.1 268.6,130.3 265.3,129.6 262.1,130.0 261.6,129.8 261.4,129.4 260.7,129.6 260.6,129.3 260.2,129.2 260.3,128.6 260.3,127.9 259.9,124.8 260.4,121.8 260.0,120.7 260.4,120.6 260.5,120.2 260.9,120.1 260.9,119.5 261.5,119.7 262.1,119.5 265.3,119.7 268.5,119.3 269.3,119.3 269.5,119.7 269.9,119.7 270.1,120.0 269.8,120.8 269.9,121.2 269.6,122.1" fill="#1000aa"/>
<polygon points="281.9,124.8 281.9,128.2 281.7,128.8 281.8,129.4 281.2,129.4 281.1,129.8 280.4,129.5 279.8,129.3 279.4,129.7 276.5,129.5 273.4,129.9 272.9,129.7 271.9,130.3 271.7,129.9 271.3,129.8 271.5,129.1 271.1,128.9 271.2,128.0 271.3,124.8 271.0,121.4 271.6,121.1 271.6,120.5 272.1,120.5 272.0,120.0 272.4,119.9 273.2,120.3 273.6,119.9 276.5,119.7 279.7,119.4 280.5,119.3 280.8,119.6 281.4,119.5 281.2,120.2 281.2,120.6 281.7,120.8 281.3,121.7" fill="#12f85e"/>
<polygon points="293.1,124.8 292.6,127.8 292.8,128.7 292.1,128.7 292.4,129.4 292.1,129.5 292.1,130.1 291.7,130.3 291.0,130.4 287.7,130.4 284.3,130.4 283.9,129.9 283.8,129.4 283.2,129.6 283.0,129.3 282.9,129.0 282.6,128.7 282.7,127.9 282.4,124.8 282.2,121.4 282.2,120.6 282.3,120.1 283.0,120.3 283.0,119.8 283.4,119.7 284.0,119.8 284.8,119.9 287.7,120.0 290.6,119.8 291.3,119.8 291.6,120.0 292.1,120.0 292.6,120.0 293.0,120.1 293.1,120.7 292.8,121.6" fill="#1000aa"/>
<polygon points="304.1,124.8 303.9,127.9 304.1,128.8 303.9,129.2 303.6,129.3 303.4,129.6 303.0,129.7 302.6,129.9 302.1,130.2 298.9,130.2 295.5,130.5 294.9,130.2 294.7,129.8 294.2,129.8 294.3,129.3 294.3,128.8 294.1,128.5 294.1,127.8 294.1,124.8 293.8,121.6 293.8,120.9 293.4,120.0 294.0,120.1 293.9,119.4 294.8,119.9 295.3,119.8 295.7,119.4 298.9,119.6 302.1,119.4 302.6,119.8 303.3,119.5 303.4,119.9 303.5,120.3 303.7,120.5 303.9,121.0 303.8,121.7" fill="#12f85e"/>
<polygon points="315.2,124.8 315.0,127.8 315.3,128.7 315.5,129.5 315.1,129.6 314.8,129.9 314.0,129.5 313.6,129.6 313.0,129.6 310.1,130.1 307.2,129.7 306.1,130.2 305.9,129.8 305.2,130.0 305.2,129.6 305.1,129.1 304.7,128.9 305.1,127.9 304.9,124.8 305.4,121.9 305.1,121.0 305.2,120.5 305.8,120.6 305.6,120.0 306.0,119.9 306.4,119.7 306.9,119.4 310.1,119.1 313.6,118.9 314.3,119.0 314.7,119.3 314.6,119.9 314.7,120.3 314.5,121.0 314.9,121.1 315.0,121.7" fill="#1000aa"/>
</g>
<clipPath id="chk2"><rect x="196.1" y="142.1" width="115.90" height="115.20"/></clipPath>
<rect x="196.1" y="142.1" width="115.90" height="115.20" fill="#000"/>
<g clip-path="url(#chk2)">
<polygon points="199.4,143.5 199.5,146.8 199.0,147.2 199.1,147.8 199.0,148.2 198.7,148.4 198.3,148.5 197.9,148.7 197.0,148.4 193.9,148.5 190.7,148.7 190.1,148.5 189.4,148.7 189.3,148.2 188.7,148.3 188.9,147.7 188.8,147.3 188.5,146.8 188.5,143.5 188.6,140.4 188.5,139.5 189.0,139.4 188.9,138.9 189.1,138.6 189.6,138.6 190.0,138.4 190.5,138.0 193.9,138.2 197.1,138.4 197.7,138.6 198.1,138.7 198.6,138.8 198.7,139.1 199.2,139.2 199.2,139.7 199.2,140.4" fill="#1000aa"/>
<polygon points="211.4,143.5 211.2,146.8 211.0,147.4 210.6,147.7 210.4,147.9 210.2,148.1 210.2,148.7 209.7,148.7 208.8,148.5 205.7,148.9 202.6,148.5 201.7,148.7 201.4,148.4 201.2,148.1 200.5,148.3 200.3,148.0 200.3,147.5 200.4,146.7 200.1,143.5 200.3,140.3 200.3,139.6 200.9,139.6 200.6,138.8 201.4,139.1 201.5,138.8 201.8,138.4 202.5,138.4 205.7,138.4 209.1,138.0 210.0,138.0 210.0,138.6 210.3,138.8 210.7,138.9 210.6,139.4 210.9,139.7 211.2,140.3" fill="#12f85e"/>
<polygon points="223.0,143.5 223.3,147.0 223.2,147.7 222.6,147.8 222.4,148.1 221.8,148.0 221.5,148.2 220.9,148.0 220.6,148.6 217.4,148.9 214.0,148.9 213.3,148.8 212.6,149.0 212.6,148.5 212.1,148.4 212.1,148.0 212.1,147.4 211.8,146.8 212.4,143.5 211.9,140.3 212.0,139.5 212.6,139.5 212.7,139.1 213.1,139.1 213.1,138.6 213.4,138.3 214.2,138.3 217.4,138.0 220.8,138.2 221.6,138.1 221.7,138.6 222.3,138.5 222.1,139.2 222.1,139.7 222.4,139.9 223.1,140.2" fill="#1000aa"/>
<polygon points="234.2,143.5 234.4,146.6 234.0,147.0 234.0,147.5 234.1,148.1 234.3,148.8 234.1,149.2 233.4,149.0 232.9,149.4 229.2,149.3 225.7,149.2 225.2,148.7 224.7,148.7 224.6,148.2 224.3,148.1 224.3,147.6 224.3,147.0 223.9,146.6 223.8,143.5 223.8,140.3 223.8,139.6 223.8,139.1 224.0,138.7 224.5,138.7 224.8,138.6 225.2,138.3 225.9,138.3 229.2,138.3 232.6,138.1 233.1,138.4 233.7,138.4 233.8,138.7 234.3,138.8 234.4,139.2 234.4,139.7 234.3,140.5" fill="#12f85e"/>
<polygon points="246.5,143.5 246.5,146.8 246.2,147.4 246.3,148.0 245.8,148.0 245.7,148.4 245.3,148.6 244.8,148.6 244.1,148.6 240.9,148.8 237.7,148.7 237.3,148.3 236.8,148.2 236.0,148.5 235.7,148.3 235.4,148.1 235.3,147.6 235.2,146.9 235.5,143.5 235.8,140.5 235.8,139.8 236.1,139.5 235.7,138.7 236.2,138.7 236.4,138.4 236.7,138.0 237.5,138.1 240.9,138.5 244.1,138.5 244.6,138.7 245.4,138.4 245.8,138.6 245.9,138.9 246.1,139.2 246.2,139.7 246.4,140.3" fill="#1000aa"/>
<polygon points="257.6,143.5 258.1,146.7 257.7,147.2 257.7,147.7 257.7,148.1 257.8,148.8 257.4,148.9 256.6,148.6 256.1,149.0 252.7,149.1 249.4,148.8 248.7,148.6 247.9,148.9 247.8,148.5 247.8,148.0 247.2,148.0 247.5,147.3 247.6,146.5 247.5,143.5 247.7,140.6 247.9,140.0 247.7,139.4 247.8,139.1 248.3,139.0 248.3,138.6 248.5,138.2 249.4,138.3 252.7,137.9 256.2,137.9 256.8,138.2 257.1,138.5 257.7,138.4 257.8,138.8 257.6,139.5 257.5,140.0 257.9,140.5" fill="#12f85e"/>
<polygon points="269.7,143.5 269.9,146.8 269.9,147.5 269.7,147.9 269.3,148.0 269.1,148.3 268.8,148.5 268.4,148.7 267.7,148.7 264.4,149.1 261.3,148.6 260.2,149.0 260.1,148.4 259.5,148.6 259.7,147.9 259.3,147.8 259.4,147.2 259.5,146.4 259.0,143.5 259.0,140.3 259.3,139.8 259.0,139.0 259.3,138.8 259.2,138.2 260.0,138.5 260.3,138.2 261.2,138.3 264.4,138.1 267.8,138.1 268.5,138.3 268.7,138.6 268.9,138.9 269.4,138.9 269.2,139.5 269.5,139.8 269.9,140.3" fill="#1000aa"/>
<polygon points="281.4,143.5 281.3,146.6 281.4,147.3 281.3,147.8 281.1,148.1 280.7,148.2 280.6,148.6 280.1,148.6 279.6,148.9 276.2,148.5 272.9,148.7 272.2,148.7 271.8,148.6 271.1,148.7 271.2,148.1 270.6,148.2 270.8,147.4 270.8,146.7 270.7,143.5 270.8,140.3 271.1,139.8 271.4,139.5 271.0,138.8 271.6,138.9 272.1,138.8 272.2,138.4 272.9,138.3 276.2,138.4 279.4,138.4 280.4,138.1 280.6,138.5 281.0,138.6 281.5,138.6 281.3,139.2 281.5,139.7 281.4,140.4" fill="#12f85e"/>
<polygon points="293.2,143.5 293.3,146.7 292.8,147.1 292.9,147.7 292.4,147.7 292.5,148.2 292.8,149.0 292.2,149.1 291.5,149.2 287.9,149.0 284.6,148.8 284.2,148.4 283.8,148.2 283.2,148.4 282.8,148.2 282.8,147.8 282.4,147.6 282.6,146.7 282.4,143.5 282.9,140.5 282.9,139.8 283.1,139.5 283.1,139.0 283.4,138.9 283.4,138.4 283.8,138.1 284.7,138.3 287.9,138.3 291.3,138.2 291.9,138.4 292.4,138.5 292.8,138.5 293.1,138.8 293.1,139.2 293.4,139.6 293.6,140.2" fill="#1000aa"/>
<polygon points="305.0,143.5 304.5,146.4 304.7,147.2 304.3,147.3 304.8,148.2 304.7,148.7 304.4,148.9 303.8,148.9 303.3,149.3 299.7,148.8 296.3,148.9 295.9,148.5 295.8,147.9 295.0,148.3 294.8,148.0 294.2,148.1 293.9,147.7 293.8,147.0 293.7,143.5 294.3,140.4 294.2,139.5 294.9,139.6 295.4,139.6 295.4,139.1 295.7,139.0 296.0,138.7 296.3,138.1 299.7,138.3 303.0,138.3 303.7,138.3 304.1,138.5 304.8,138.3 305.0,138.6 305.2,138.9 305.4,139.4 305.0,140.4" fill="#12f85e"/>
<polygon points="316.5,143.5 317.1,146.9 316.8,147.4 316.6,147.9 316.6,148.3 315.9,148.1 315.9,148.6 315.4,148.6 314.9,149.0 311.4,149.0 308.1,148.9 307.0,149.3 306.9,148.7 306.4,148.7 306.3,148.3 306.6,147.5 306.4,147.2 306.6,146.4 306.6,143.5 306.5,140.6 306.0,139.5 306.3,139.2 306.2,138.7 306.4,138.4 307.0,138.5 307.1,137.9 307.9,137.9 311.4,137.9 314.7,138.3 315.2,138.6 315.7,138.7 316.2,138.6 316.4,138.9 316.4,139.4 316.6,139.7 316.5,140.5" fill="#1000aa"/>
<polygon points="199.1,155.0 199.3,158.2 198.8,158.5 198.9,159.1 199.1,159.7 198.9,160.0 198.6,160.3 198.2,160.6 197.3,160.3 193.9,160.3 190.9,159.8 190.0,160.1 189.8,159.6 189.2,159.8 189.0,159.5 188.8,159.3 188.6,158.9 188.9,158.0 188.5,155.0 188.8,152.0 188.5,151.0 188.6,150.5 188.7,150.1 188.7,149.7 189.2,149.6 189.6,149.4 190.3,149.2 193.9,149.9 197.0,150.1 197.7,150.1 198.1,150.2 198.3,150.5 198.7,150.6 199.3,150.5 199.2,151.1 199.1,151.9" fill="#12f85e"/>
<polygon points="211.2,155.0 211.4,158.4 210.7,158.6 211.1,159.5 210.4,159.4 210.1,159.5 210.2,160.1 209.7,160.2 209.0,160.3 205.7,160.2 202.3,160.4 201.8,160.0 201.3,160.0 201.3,159.4 200.9,159.4 200.6,159.2 200.5,158.7 200.2,158.2 200.3,155.0 199.8,151.5 199.9,150.8 200.5,150.7 200.6,150.3 200.9,150.1 201.6,150.3 201.7,149.8 202.4,149.7 205.7,150.1 208.8,150.0 209.4,150.1 209.9,150.1 210.2,150.4 210.7,150.4 210.7,150.8 211.0,151.1 211.2,151.7" fill="#a80008"/>
<polygon points="222.7,155.0 222.5,158.0 222.8,158.9 222.8,159.4 222.7,159.9 222.0,159.7 221.6,159.8 221.5,160.3 220.7,160.1 217.4,160.5 214.2,160.1 213.6,160.0 213.3,159.7 212.4,160.1 212.4,159.6 212.2,159.3 212.1,158.9 211.8,158.3 211.7,155.0 212.0,151.8 212.3,151.3 212.3,150.7 212.2,150.2 212.8,150.2 213.0,149.9 213.5,149.9 214.2,149.8 217.4,149.7 220.6,149.9 221.5,149.7 222.1,149.7 222.0,150.3 222.4,150.4 222.9,150.5 223.0,150.9 222.5,152.0" fill="#12f85e"/>
<polygon points="234.5,155.0 234.5,158.1 234.2,158.6 234.4,159.3 234.2,159.7 234.0,159.9 233.3,159.7 233.1,160.1 232.4,160.1 229.2,160.3 225.9,160.2 225.3,160.0 224.5,160.3 224.4,159.8 223.9,159.8 224.1,159.2 223.9,158.8 223.7,158.2 224.2,155.0 223.8,151.8 224.2,151.4 223.8,150.5 224.5,150.6 224.3,150.0 224.9,150.1 225.4,150.1 226.0,149.9 229.2,149.7 232.5,149.7 233.1,149.9 233.8,149.7 234.0,150.0 234.6,150.0 234.3,150.7 234.4,151.2 234.2,152.0" fill="#a80008"/>
<polygon points="246.1,155.0 245.9,157.9 245.9,158.6 246.2,159.3 246.4,160.0 245.8,159.9 245.6,160.3 245.2,160.5 244.1,160.1 240.9,159.9 237.7,160.1 237.1,159.9 236.3,160.2 236.0,160.0 236.1,159.4 235.8,159.3 235.8,158.7 236.1,157.8 235.9,155.0 235.5,151.8 235.8,151.2 235.5,150.5 235.4,149.9 236.0,149.9 235.9,149.2 236.9,149.8 237.7,149.8 240.9,149.8 243.8,150.4 244.6,150.2 244.9,150.4 245.5,150.3 245.6,150.7 245.9,150.8 246.1,151.2 246.0,152.0" fill="#12f85e"/>
<polygon points="258.1,155.0 258.0,158.2 258.3,159.1 257.6,159.1 257.8,159.7 257.1,159.5 257.3,160.2 256.5,160.0 255.9,160.2 252.7,160.3 249.6,159.9 248.9,159.9 248.1,160.2 247.7,160.0 247.4,159.9 247.5,159.3 247.3,158.9 247.6,158.0 247.5,155.0 247.7,152.0 247.6,151.3 247.7,150.9 247.8,150.4 247.6,149.8 248.2,149.9 248.3,149.3 249.3,149.5 252.7,149.9 255.7,150.1 256.4,150.1 256.8,150.3 257.3,150.2 257.5,150.5 257.8,150.7 258.4,150.8 258.1,151.8" fill="#a80008"/>
<polygon points="269.8,155.0 269.8,158.2 270.4,159.3 270.1,159.7 270.0,160.1 269.4,160.1 268.7,159.8 268.6,160.3 267.5,159.9 264.4,160.0 261.1,160.3 260.6,160.0 260.1,159.9 259.7,159.8 259.9,159.1 259.5,159.1 259.7,158.4 259.3,158.0 258.9,155.0 258.7,151.6 259.1,151.1 259.1,150.6 258.9,149.9 259.6,150.1 260.0,150.0 260.5,149.9 261.1,149.6 264.4,149.5 267.8,149.5 268.5,149.8 268.9,149.9 269.1,150.2 268.9,150.8 269.4,150.8 269.6,151.2 269.6,151.9" fill="#12f85e"/>
<polygon points="281.7,155.0 281.7,158.2 281.7,159.0 281.2,159.2 281.4,159.8 281.0,159.9 280.5,159.9 280.1,160.0 279.6,160.4 276.2,160.5 272.7,160.5 272.0,160.4 271.8,160.0 271.6,159.7 271.2,159.6 271.4,158.9 271.3,158.5 271.4,157.8 271.2,155.0 270.6,151.7 270.8,151.1 270.4,150.2 270.9,150.1 270.9,149.6 271.8,150.0 272.4,150.1 273.1,150.1 276.2,150.4 279.3,150.1 280.0,150.0 280.4,150.2 281.3,149.7 281.3,150.2 281.2,150.8 281.8,150.9 281.3,151.9" fill="#a80008"/>
<polygon points="293.5,155.0 293.6,158.3 293.9,159.4 293.3,159.5 293.3,160.0 292.8,160.0 291.9,159.5 291.8,160.0 290.8,159.6 287.9,160.1 284.6,160.2 283.9,160.2 283.5,160.0 283.0,160.1 283.1,159.5 282.6,159.4 282.6,158.9 282.4,158.3 282.5,155.0 282.2,151.6 282.5,151.0 282.6,150.5 283.0,150.4 283.3,150.2 283.4,149.9 283.9,149.8 284.7,149.8 287.9,149.8 291.4,149.4 291.9,149.9 292.1,150.2 292.4,150.4 292.8,150.4 293.2,150.6 293.3,151.1 293.5,151.7" fill="#12f85e"/>
<polygon points="304.6,155.0 304.9,158.1 305.1,158.9 304.7,159.2 305.0,159.9 304.9,160.4 304.2,160.1 303.7,160.2 303.1,160.4 299.7,160.2 296.3,160.3 295.7,160.1 295.6,159.6 295.0,159.7 294.8,159.5 294.7,159.1 294.0,159.1 294.3,158.1 294.4,155.0 294.2,151.7 294.6,151.3 294.6,150.7 294.8,150.5 294.7,149.9 295.3,150.0 295.5,149.6 296.2,149.5 299.7,149.6 302.9,149.8 303.6,149.9 304.1,149.9 304.4,150.2 304.7,150.3 304.8,150.8 304.7,151.3 304.9,151.9" fill="#a80008"/>
<polygon points="316.8,155.0 317.0,158.3 316.9,158.9 316.9,159.5 316.6,159.8 316.2,159.9 315.9,160.0 315.2,159.8 314.6,160.1 311.4,160.1 308.1,160.3 307.7,159.9 307.0,160.0 306.7,159.8 306.4,159.6 306.3,159.2 306.4,158.7 305.9,158.2 305.8,155.0 306.0,151.8 306.4,151.3 306.2,150.6 306.2,150.2 306.4,149.8 306.8,149.8 307.6,150.1 308.0,149.5 311.4,149.6 314.6,149.9 315.6,149.6 316.0,149.8 316.4,149.9 316.2,150.5 316.6,150.6 316.7,151.2 316.7,151.9" fill="#12f85e"/>
<polygon points="199.4,166.4 199.0,169.5 199.1,170.2 198.4,170.2 198.7,170.8 198.7,171.3 198.7,171.8 198.5,172.3 197.6,172.3 193.9,172.1 190.4,172.0 189.9,171.6 189.6,171.4 189.2,171.2 189.6,170.5 189.1,170.4 188.5,170.4 188.8,169.5 188.2,166.4 188.7,163.3 188.4,162.4 188.6,162.0 189.2,162.0 189.3,161.7 189.7,161.6 189.9,161.2 190.6,161.1 193.9,161.0 197.2,161.2 198.0,161.1 198.7,161.0 198.9,161.3 199.3,161.5 199.0,162.2 199.3,162.5 199.2,163.3" fill="#1000aa"/>
<polygon points="210.9,166.4 211.1,169.6 211.1,170.4 211.2,171.0 210.4,170.8 210.5,171.4 209.9,171.3 209.6,171.5 209.1,171.9 205.7,171.4 202.5,171.6 201.9,171.3 201.6,171.1 201.2,171.0 200.7,171.0 200.5,170.8 200.4,170.3 199.7,170.0 199.7,166.4 200.1,163.1 199.9,162.3 200.4,162.0 201.2,162.3 201.2,161.8 201.5,161.7 202.1,161.8 202.7,161.6 205.7,160.8 209.3,160.7 209.7,161.2 210.4,161.1 210.6,161.4 210.7,161.8 210.9,162.1 211.2,162.4 211.0,163.3" fill="#12f85e"/>
<polygon points="222.8,166.4 222.6,169.5 222.6,170.2 222.6,170.7 222.2,170.9 222.5,171.6 222.2,171.9 221.5,171.7 221.0,172.1 217.4,172.0 214.3,171.5 213.4,171.6 213.1,171.4 213.0,170.9 212.8,170.7 212.4,170.6 211.8,170.5 211.9,169.7 211.7,166.4 212.3,163.4 212.6,162.9 212.7,162.5 212.5,161.9 213.0,162.0 213.2,161.6 213.1,160.8 214.0,161.0 217.4,160.6 220.8,161.1 221.4,161.3 221.9,161.4 222.1,161.6 222.0,162.2 222.2,162.4 222.2,163.0 222.6,163.4" fill="#1000aa"/>
<polygon points="234.2,166.4 234.4,169.5 234.4,170.2 234.4,170.8 234.6,171.5 234.0,171.4 233.6,171.5 233.0,171.4 232.4,171.6 229.2,171.3 226.2,171.2 225.5,171.2 224.7,171.5 224.2,171.6 224.0,171.2 223.7,171.0 223.4,170.7 223.7,169.7 223.8,166.4 223.9,163.3 223.7,162.5 223.7,161.9 224.3,161.9 224.4,161.6 224.6,161.2 225.4,161.5 226.2,161.6 229.2,161.3 232.4,161.2 233.0,161.5 233.5,161.5 234.2,161.3 234.6,161.5 234.8,161.8 234.6,162.4 234.4,163.4" fill="#12f85e"/>
<polygon points="246.9,166.4 246.3,169.6 246.3,170.3 245.5,170.2 245.8,170.9 245.4,171.1 245.4,171.5 244.8,171.5 244.5,172.1 240.9,171.5 237.4,172.0 236.7,171.9 236.5,171.5 235.9,171.6 235.9,171.1 235.4,171.0 235.5,170.4 235.6,169.6 235.9,166.4 235.7,163.3 235.8,162.7 236.3,162.6 235.7,161.6 236.2,161.6 236.3,161.2 236.7,161.0 237.5,160.9 240.9,160.9 244.2,161.1 244.7,161.5 245.0,161.8 245.3,162.0 245.7,162.0 246.4,161.9 246.8,162.2 246.7,163.0" fill="#1000aa"/>
<polygon points="258.3,166.4 258.2,169.7 257.9,170.2 257.5,170.5 257.4,170.8 257.4,171.2 257.2,171.5 257.1,172.1 256.2,172.0 252.7,171.7 249.5,171.5 249.0,171.2 248.6,171.1 248.1,171.1 247.7,171.0 247.8,170.5 247.1,170.5 247.2,169.7 247.1,166.4 247.2,163.2 247.7,162.8 247.9,162.4 247.7,161.8 247.8,161.4 248.2,161.3 248.3,160.8 249.1,160.7 252.7,161.1 255.8,161.5 256.5,161.5 256.9,161.6 257.0,162.0 257.2,162.3 257.8,162.2 257.8,162.7 258.4,163.0" fill="#12f85e"/>
<polygon points="270.0,166.4 269.7,169.6 269.8,170.3 269.4,170.6 269.5,171.1 269.2,171.3 268.9,171.5 268.4,171.5 267.8,171.7 264.4,171.6 260.9,172.0 260.3,171.8 259.9,171.5 259.5,171.4 259.6,170.9 259.3,170.7 259.3,170.2 258.9,169.7 259.4,166.4 259.2,163.3 259.0,162.5 259.2,162.1 259.3,161.7 259.8,161.7 260.1,161.5 260.3,161.1 261.2,161.3 264.4,161.0 267.6,161.3 268.5,161.1 268.9,161.4 269.3,161.4 269.7,161.5 269.6,162.1 270.1,162.3 269.5,163.4" fill="#1000aa"/>
<polygon points="281.3,166.4 281.8,169.7 281.6,170.4 281.7,171.0 281.4,171.2 280.8,171.2 280.9,171.8 280.0,171.5 279.4,171.6 276.2,171.2 273.1,171.3 272.2,171.6 271.6,171.6 271.3,171.4 271.1,171.2 270.7,171.0 270.6,170.5 271.0,169.5 270.9,166.4 271.0,163.4 271.0,162.7 271.4,162.5 271.4,162.0 271.4,161.6 271.8,161.4 272.0,161.1 272.6,160.7 276.2,160.9 279.4,161.3 280.2,161.1 280.3,161.7 280.9,161.6 280.7,162.2 280.9,162.5 281.1,162.8 281.4,163.3" fill="#12f85e"/>
<polygon points="293.2,166.4 293.2,169.6 293.8,170.7 293.7,171.3 292.9,171.1 292.7,171.4 292.2,171.3 291.6,171.2 291.0,171.3 287.9,171.6 285.0,171.2 283.9,171.7 283.6,171.4 283.4,171.1 282.6,171.4 282.8,170.7 282.7,170.2 282.7,169.5 282.5,166.4 282.6,163.3 282.7,162.6 282.8,162.2 282.9,161.8 283.4,161.8 283.8,161.8 284.2,161.5 284.7,161.2 287.9,161.0 291.2,161.1 292.3,160.7 292.7,160.9 292.9,161.4 292.9,161.8 292.8,162.4 292.7,163.0 293.3,163.3" fill="#1000aa"/>
<polygon points="304.7,166.4 304.9,169.5 305.1,170.4 304.7,170.6 304.6,171.0 304.4,171.3 303.8,171.1 303.6,171.5 302.9,171.5 299.7,172.0 296.4,171.7 295.3,172.1 295.1,171.6 294.7,171.5 294.7,171.0 294.7,170.5 294.5,170.2 294.8,169.3 294.3,166.4 294.7,163.5 294.4,162.6 294.3,162.0 295.0,162.1 295.2,161.9 295.3,161.4 295.8,161.5 296.3,161.0 299.7,161.2 303.1,161.0 304.1,160.6 304.4,161.1 305.0,161.0 305.1,161.4 304.6,162.3 304.8,162.7 305.1,163.2" fill="#12f85e"/>
<polygon points="317.1,166.4 316.6,169.5 317.1,170.6 317.0,171.1 316.6,171.3 316.6,171.7 316.0,171.6 315.6,171.8 314.4,171.3 311.4,171.7 308.4,171.3 307.6,171.4 307.3,171.2 306.7,171.3 306.6,170.9 306.2,170.8 306.3,170.2 305.8,169.7 306.1,166.4 305.6,163.0 305.8,162.4 306.2,162.1 306.1,161.5 306.4,161.3 306.8,161.2 307.7,161.6 308.1,161.2 311.4,161.1 314.7,161.2 315.1,161.6 316.0,161.2 316.1,161.7 316.4,161.9 316.7,162.1 316.4,162.8 316.4,163.5" fill="#1000aa"/>
<polygon points="199.4,177.9 199.4,181.2 199.8,182.2 199.3,182.4 198.9,182.5 198.2,182.2 198.0,182.5 197.8,183.0 196.9,182.6 193.9,183.2 190.6,183.2 189.4,183.8 189.4,183.0 188.7,183.2 188.8,182.7 188.9,182.1 189.3,181.3 188.8,180.9 188.8,177.9 188.6,174.7 188.7,174.1 188.6,173.4 188.5,172.9 189.2,173.1 189.2,172.5 189.9,172.7 190.7,172.8 193.9,172.8 197.2,172.7 197.9,172.7 198.3,172.9 198.7,173.0 198.7,173.5 198.9,173.7 199.5,173.8 199.2,174.7" fill="#12f85e"/>
<polygon points="211.5,177.9 211.1,181.1 211.2,181.9 210.9,182.3 210.7,182.6 210.5,182.8 209.9,182.7 209.7,183.2 208.8,182.9 205.7,183.2 202.3,183.3 201.5,183.3 201.4,182.8 201.0,182.7 200.5,182.7 200.4,182.3 200.2,181.9 200.7,180.9 200.6,177.9 200.6,174.9 200.2,173.9 200.3,173.4 200.5,173.1 200.6,172.7 201.1,172.7 201.6,172.6 202.2,172.4 205.7,172.6 208.9,172.7 209.6,172.8 210.0,173.0 210.5,173.0 210.7,173.3 210.6,173.8 211.0,174.0 211.1,174.7" fill="#a80008"/>
<polygon points="223.2,177.9 222.5,180.9 222.2,181.4 222.5,182.1 222.1,182.2 222.0,182.6 221.9,182.9 221.4,183.0 220.7,183.1 217.4,183.0 214.0,183.4 213.2,183.3 213.2,182.7 212.8,182.6 212.6,182.4 212.5,182.0 211.8,182.0 211.7,181.3 212.0,177.9 212.1,174.7 212.0,173.9 212.1,173.5 212.5,173.4 212.9,173.2 213.2,173.1 213.4,172.7 214.1,172.5 217.4,172.5 220.5,173.0 221.4,172.7 222.1,172.5 222.4,172.8 222.6,173.1 222.6,173.6 222.7,174.1 223.1,174.5" fill="#12f85e"/>
<polygon points="234.3,177.9 234.0,180.7 234.4,181.7 234.5,182.3 234.5,182.8 234.7,183.5 234.1,183.5 233.2,183.1 232.3,182.9 229.2,182.7 226.2,182.6 225.7,182.4 225.1,182.6 224.3,182.8 224.3,182.4 223.6,182.5 223.7,181.8 223.4,181.3 223.4,177.9 223.9,174.8 223.8,174.0 224.2,173.8 224.1,173.2 224.2,172.8 224.6,172.7 225.3,172.9 226.2,173.1 229.2,173.1 232.4,172.8 233.0,173.0 233.6,172.9 234.2,172.8 234.6,172.9 234.4,173.5 234.2,174.2 234.3,174.9" fill="#a80008"/>
<polygon points="246.3,177.9 246.3,181.1 246.2,181.7 246.0,182.1 245.8,182.4 245.5,182.6 245.4,182.9 244.8,182.9 244.2,183.1 240.9,183.2 237.5,183.4 236.8,183.3 236.6,182.8 236.1,182.8 236.3,182.2 235.6,182.3 235.6,181.8 235.2,181.3 235.2,177.9 235.3,174.6 235.6,174.0 235.5,173.4 236.2,173.5 236.4,173.2 236.8,173.2 237.1,173.0 237.8,172.9 240.9,172.7 244.3,172.5 245.2,172.4 245.5,172.7 245.3,173.4 245.9,173.3 245.9,173.8 245.8,174.3 246.2,174.8" fill="#12f85e"/>
<polygon points="257.9,177.9 257.9,181.0 258.2,181.9 258.1,182.4 257.9,182.7 257.8,183.1 257.3,183.1 256.5,182.9 255.7,182.8 252.7,182.8 249.6,182.8 248.9,182.8 248.2,183.0 247.9,182.7 247.7,182.5 247.5,182.2 246.9,182.1 247.0,181.3 247.3,177.9 247.5,174.8 247.1,173.8 247.7,173.7 247.5,173.1 248.1,173.3 248.2,172.8 248.8,172.8 249.3,172.5 252.7,172.8 255.7,173.0 256.4,173.0 257.2,172.7 257.7,172.7 257.8,173.1 258.0,173.4 257.9,174.1 257.9,174.8" fill="#a80008"/>
<polygon points="269.9,177.9 270.3,181.4 269.8,181.8 269.7,182.3 269.7,182.8 269.4,183.0 268.9,183.0 268.2,182.8 267.8,183.2 264.4,182.7 261.4,182.7 260.7,182.7 260.1,182.8 259.8,182.6 259.5,182.5 259.1,182.3 258.9,181.9 259.0,181.1 259.2,177.9 258.7,174.5 259.3,174.2 259.3,173.6 259.6,173.4 259.6,172.9 259.8,172.7 260.6,172.9 261.2,172.8 264.4,172.4 267.8,172.5 268.2,173.0 268.9,172.9 269.2,173.0 269.2,173.5 269.2,173.9 269.7,174.1 269.6,174.8" fill="#12f85e"/>
<polygon points="281.8,177.9 281.6,181.1 281.7,181.9 281.0,181.9 281.0,182.3 281.1,182.9 280.8,183.1 280.4,183.3 279.6,183.3 276.2,183.2 272.8,183.2 272.2,183.0 272.0,182.6 271.6,182.6 271.4,182.3 270.7,182.5 270.8,181.8 270.8,181.1 270.7,177.9 271.1,174.9 270.9,174.0 271.0,173.6 271.1,173.2 271.2,172.8 271.7,172.8 272.2,172.7 272.7,172.3 276.2,172.4 279.4,172.8 279.9,173.0 280.2,173.3 280.9,173.1 281.0,173.4 281.5,173.4 281.5,174.0 281.6,174.6" fill="#a80008"/>
<polygon points="293.3,177.9 293.3,181.0 293.2,181.7 293.0,182.1 292.9,182.5 293.0,183.1 292.6,183.2 291.8,182.9 291.0,182.8 287.9,182.9 284.5,183.4 284.2,182.7 283.3,183.1 283.1,182.8 282.9,182.6 282.7,182.2 282.6,181.7 282.4,181.1 282.7,177.9 282.2,174.5 282.8,174.1 282.9,173.7 282.9,173.2 283.3,173.1 283.6,172.9 284.1,172.9 284.6,172.6 287.9,173.0 291.1,172.8 292.0,172.6 292.8,172.3 292.8,172.9 293.2,173.0 293.3,173.4 292.9,174.3 293.1,174.8" fill="#12f85e"/>
<polygon points="305.3,177.9 305.0,181.1 304.6,181.5 304.8,182.1 304.6,182.4 304.7,183.0 304.3,183.1 304.1,183.7 303.3,183.6 299.7,183.3 296.4,183.1 295.7,183.0 295.5,182.6 295.0,182.7 295.2,182.0 294.3,182.4 294.1,182.0 294.1,181.2 293.9,177.9 294.5,174.8 294.6,174.2 294.6,173.6 294.6,173.2 295.0,173.1 294.9,172.4 295.4,172.4 296.4,172.6 299.7,172.7 302.8,172.9 303.6,172.8 303.8,173.2 304.1,173.4 304.5,173.4 304.6,173.8 305.3,173.8 305.3,174.5" fill="#a80008"/>
<polygon points="317.3,177.9 316.9,181.2 316.7,181.7 315.9,181.6 315.7,181.9 315.7,182.3 315.5,182.5 315.4,183.1 315.1,183.7 311.4,183.7 307.8,183.7 307.5,183.0 307.2,182.7 307.0,182.4 306.7,182.3 306.5,181.9 306.0,181.8 306.0,181.1 305.8,177.9 306.0,174.7 306.2,174.1 306.6,173.9 306.6,173.4 306.8,173.2 307.0,172.8 307.4,172.7 308.1,172.5 311.4,172.6 314.6,172.8 315.4,172.7 315.9,172.9 315.9,173.3 316.6,173.1 317.0,173.3 317.2,173.7 317.3,174.4" fill="#12f85e"/>
<polygon points="199.3,189.3 199.4,192.6 199.2,193.2 199.1,193.6 198.5,193.5 198.5,194.1 197.9,193.9 197.8,194.4 197.0,194.2 193.9,194.4 190.7,194.5 189.5,195.0 189.1,194.8 188.6,194.8 188.8,194.1 188.4,193.9 188.3,193.4 188.3,192.7 188.4,189.3 189.1,186.5 189.0,185.8 188.7,185.0 189.1,184.9 189.0,184.3 189.6,184.4 190.1,184.4 190.4,183.7 193.9,184.1 197.3,184.0 197.8,184.3 198.3,184.3 198.8,184.3 199.1,184.5 199.4,184.8 199.2,185.5 199.8,185.9" fill="#1000aa"/>
<polygon points="210.9,189.3 211.3,192.7 211.2,193.4 210.7,193.5 211.0,194.3 210.2,193.9 210.1,194.4 209.5,194.3 208.8,194.3 205.7,194.3 202.1,195.0 201.4,194.8 201.2,194.5 200.7,194.4 200.5,194.1 200.5,193.7 200.6,193.0 200.7,192.3 200.4,189.3 199.9,185.9 200.0,185.2 200.1,184.7 200.2,184.3 200.8,184.4 201.2,184.3 201.6,184.1 202.6,184.5 205.7,184.0 208.7,184.5 209.7,184.2 210.2,184.2 210.3,184.7 210.9,184.5 210.7,185.1 210.7,185.7 210.9,186.2" fill="#12f85e"/>
<polygon points="222.7,189.3 223.0,192.6 222.9,193.3 222.7,193.7 222.0,193.6 221.7,193.7 221.9,194.4 221.4,194.5 220.7,194.6 217.4,194.5 214.0,194.8 213.4,194.5 212.8,194.6 212.4,194.5 212.7,193.7 212.7,193.3 212.2,193.1 212.5,192.3 212.3,189.3 212.1,186.2 211.7,185.2 212.2,185.0 212.4,184.7 212.6,184.4 213.1,184.5 213.5,184.3 214.2,184.1 217.4,184.4 220.7,184.1 221.2,184.5 221.6,184.6 222.3,184.4 222.5,184.6 223.0,184.7 222.6,185.5 223.1,186.0" fill="#1000aa"/>
<polygon points="234.6,189.3 234.7,192.6 234.4,193.2 234.1,193.4 233.7,193.5 233.6,193.9 233.4,194.2 233.3,194.7 232.7,195.0 229.2,195.0 225.7,194.9 225.0,194.8 224.4,194.8 224.2,194.4 224.4,193.7 224.1,193.5 223.9,193.2 224.2,192.3 223.7,189.3 223.9,186.2 223.8,185.4 223.7,184.8 224.3,184.9 224.5,184.5 224.5,184.0 225.4,184.4 225.9,184.2 229.2,184.0 232.6,183.9 233.3,184.0 233.8,184.0 234.0,184.4 233.9,185.0 234.1,185.2 234.2,185.6 234.6,186.1" fill="#12f85e"/>
<polygon points="246.5,189.3 246.0,192.3 246.0,193.1 245.9,193.5 245.7,193.8 245.9,194.4 245.2,194.3 244.9,194.6 244.3,194.7 240.9,195.0 237.6,194.6 237.2,194.2 236.7,194.2 236.2,194.1 235.9,194.0 236.1,193.3 235.6,193.2 235.7,192.4 235.6,189.3 235.5,186.2 235.5,185.4 235.2,184.6 235.4,184.2 235.7,184.0 236.3,184.1 236.9,184.1 237.9,184.6 240.9,184.7 244.1,184.2 244.8,184.3 245.4,184.3 245.7,184.5 246.0,184.6 246.6,184.6 246.5,185.3 246.0,186.3" fill="#1000aa"/>
<polygon points="258.3,189.3 258.5,192.8 258.0,193.2 258.0,193.7 257.5,193.8 257.1,193.9 256.7,193.9 256.1,193.7 255.6,194.0 252.7,194.3 249.1,195.0 248.3,195.1 248.0,194.7 247.9,194.2 247.5,194.2 247.9,193.4 247.6,193.0 247.7,192.3 246.9,189.3 247.1,186.0 246.9,185.1 247.1,184.7 247.5,184.6 247.7,184.3 248.3,184.4 248.8,184.3 249.4,184.2 252.7,184.6 255.9,184.1 256.4,184.5 257.0,184.5 257.3,184.6 258.0,184.4 257.7,185.1 258.2,185.3 258.2,186.0" fill="#12f85e"/>
<polygon points="269.7,189.3 269.8,192.5 269.7,193.2 269.8,193.8 269.3,193.9 269.5,194.5 269.1,194.7 268.6,194.7 267.8,194.7 264.4,194.8 261.3,194.4 260.7,194.2 260.2,194.2 260.0,193.8 259.9,193.5 259.4,193.5 259.2,193.1 259.2,192.4 259.3,189.3 258.8,186.0 258.7,185.2 258.8,184.7 259.2,184.5 259.3,184.1 259.9,184.2 260.6,184.3 261.4,184.5 264.4,184.1 267.6,184.3 268.4,184.1 268.6,184.6 269.1,184.6 269.5,184.6 269.5,185.1 269.7,185.5 269.8,186.1" fill="#1000aa"/>
<polygon points="281.3,189.3 281.0,192.2 281.6,193.3 281.4,193.7 281.0,193.8 280.8,194.1 280.6,194.3 280.3,194.6 279.2,194.2 276.2,194.0 273.1,194.3 272.6,194.0 271.9,194.2 271.3,194.3 271.0,194.1 270.8,193.8 270.6,193.4 270.7,192.6 270.9,189.3 271.1,186.3 271.3,185.8 271.5,185.4 271.7,185.2 271.4,184.4 271.6,184.2 272.2,184.2 273.1,184.4 276.2,184.2 279.6,183.9 280.1,184.2 280.5,184.4 281.3,184.1 281.6,184.3 281.3,185.0 281.6,185.4 281.6,186.1" fill="#12f85e"/>
<polygon points="293.4,189.3 293.1,192.4 293.0,193.0 293.4,193.9 293.2,194.2 293.0,194.5 292.2,194.2 292.0,194.7 291.0,194.3 287.9,194.3 284.9,194.2 283.9,194.6 283.4,194.5 283.0,194.4 282.9,193.9 282.4,193.9 282.8,193.1 282.6,192.5 282.6,189.3 282.8,186.3 282.7,185.5 282.8,185.1 282.4,184.2 283.0,184.3 283.4,184.2 283.9,184.1 284.6,184.1 287.9,184.3 290.9,184.6 291.7,184.4 292.2,184.5 292.3,184.8 293.0,184.7 293.1,185.1 293.3,185.4 293.3,186.2" fill="#1000aa"/>
<polygon points="305.2,189.3 305.2,192.6 304.9,193.1 304.8,193.6 304.9,194.2 304.6,194.4 303.9,194.2 303.8,194.6 302.8,194.3 299.7,194.5 296.5,194.5 295.9,194.3 295.1,194.6 295.1,194.0 294.8,193.8 294.6,193.6 294.3,193.3 294.0,192.7 294.1,189.3 294.2,186.1 294.0,185.2 294.2,184.8 294.2,184.3 294.5,184.0 295.0,184.1 295.8,184.4 296.4,184.2 299.7,184.3 302.7,184.4 303.7,184.2 303.8,184.6 304.4,184.5 304.6,184.8 304.7,185.2 305.0,185.4 305.2,186.1" fill="#12f85e"/>
<polygon points="317.0,189.3 316.8,192.5 316.8,193.3 316.6,193.7 316.7,194.3 316.4,194.5 315.8,194.3 315.1,194.2 314.5,194.3 311.4,194.0 308.4,194.1 307.6,194.4 307.0,194.3 306.5,194.3 306.2,194.1 306.2,193.7 306.3,193.1 306.4,192.3 306.1,189.3 305.9,186.1 306.4,185.6 306.4,185.1 306.5,184.8 306.5,184.3 306.9,184.2 307.3,183.9 308.3,184.4 311.4,184.3 314.6,184.2 315.4,184.2 315.8,184.3 316.1,184.6 316.6,184.6 316.4,185.2 316.5,185.6 316.9,186.1" fill="#1000aa"/>
<polygon points="199.0,200.8 199.2,203.9 198.9,204.4 199.4,205.3 199.0,205.5 198.9,205.9 198.2,205.7 198.0,206.1 197.0,205.7 193.9,205.8 190.5,206.3 190.0,205.9 189.4,206.0 188.9,205.9 188.4,205.9 189.0,204.9 189.0,204.4 188.7,203.9 189.1,200.8 188.8,197.7 188.4,196.8 188.5,196.3 188.6,195.8 189.3,196.0 189.3,195.5 190.1,195.9 190.7,195.6 193.9,195.7 197.3,195.3 198.0,195.5 198.5,195.6 198.8,195.8 199.1,196.0 198.9,196.7 198.8,197.2 199.2,197.6" fill="#12f85e"/>
<polygon points="210.8,200.8 211.2,204.1 211.0,204.7 210.8,205.1 210.7,205.5 210.6,205.9 210.3,206.1 209.7,206.0 208.8,205.7 205.7,206.3 202.5,205.8 201.8,205.8 201.4,205.6 200.9,205.7 200.5,205.6 200.4,205.2 200.3,204.7 200.4,203.9 200.1,200.8 200.3,197.6 200.6,197.1 200.5,196.5 200.7,196.2 200.9,195.9 201.2,195.6 202.0,196.0 202.4,195.6 205.7,195.4 209.0,195.5 210.0,195.2 210.5,195.3 210.4,196.0 210.7,196.1 211.1,196.3 211.1,196.8 210.9,197.7" fill="#a80008"/>
<polygon points="223.3,200.8 222.6,203.9 222.9,204.8 222.4,205.0 222.7,205.7 222.3,205.7 222.2,206.2 221.3,205.9 220.9,206.3 217.4,205.8 214.4,205.6 213.8,205.5 213.4,205.3 212.9,205.4 212.3,205.6 212.4,205.0 212.0,204.8 212.3,203.8 211.9,200.8 211.9,197.5 212.2,197.0 212.0,196.3 212.3,196.0 212.6,195.8 212.7,195.4 213.3,195.5 214.3,195.9 217.4,196.0 220.3,196.1 221.0,196.1 221.7,195.9 222.3,195.8 222.6,196.0 222.9,196.3 222.6,197.0 223.1,197.4" fill="#12f85e"/>
<polygon points="234.2,200.8 234.5,203.9 234.5,204.7 234.5,205.2 233.9,205.1 233.7,205.4 233.9,206.2 233.1,205.9 232.4,206.0 229.2,206.5 225.9,206.0 224.9,206.3 224.4,206.2 224.4,205.7 224.2,205.4 224.5,204.7 224.0,204.6 223.9,203.9 223.8,200.8 223.9,197.7 224.2,197.1 224.2,196.6 224.1,196.1 224.6,196.1 224.9,196.0 225.3,195.7 225.7,195.3 229.2,195.4 232.5,195.5 233.5,195.2 233.7,195.6 233.8,196.0 234.2,196.2 234.5,196.4 234.2,197.1 234.3,197.7" fill="#a80008"/>
<polygon points="246.2,200.8 246.4,204.0 245.9,204.4 246.2,205.2 245.9,205.4 245.9,205.8 245.6,206.1 244.9,205.9 244.2,206.0 240.9,205.7 237.9,205.7 237.0,205.9 236.5,205.9 236.2,205.6 235.5,205.8 235.5,205.3 235.5,204.7 235.6,203.9 235.4,200.8 235.5,197.6 235.6,196.9 236.1,196.8 236.3,196.5 236.1,195.9 236.7,196.0 236.7,195.3 237.5,195.3 240.9,195.5 244.2,195.5 245.0,195.5 245.2,195.9 245.6,196.0 246.1,196.0 246.2,196.4 246.2,197.0 245.9,197.8" fill="#12f85e"/>
<polygon points="258.5,200.8 258.8,204.4 258.4,205.0 258.1,205.3 257.6,205.3 257.2,205.4 257.0,205.7 256.3,205.5 255.5,205.4 252.7,205.8 249.5,205.9 248.5,206.3 248.1,206.1 247.8,205.7 247.5,205.6 247.5,205.1 247.8,204.3 247.7,203.7 247.1,200.8 247.0,197.4 247.0,196.6 247.2,196.2 247.8,196.3 247.9,196.0 248.2,195.7 248.8,195.8 249.7,196.0 252.7,195.9 256.1,195.4 256.6,195.7 256.9,196.0 257.4,196.0 257.7,196.1 257.9,196.4 258.0,196.9 258.4,197.4" fill="#a80008"/>
<polygon points="269.8,200.8 269.4,203.8 269.6,204.5 269.9,205.3 270.0,205.9 269.4,205.9 269.1,206.1 268.1,205.6 267.6,205.9 264.4,205.6 261.3,205.8 260.6,205.7 259.9,205.9 259.8,205.5 259.3,205.6 259.2,205.1 259.0,204.7 259.1,203.9 259.5,200.8 258.8,197.5 258.9,196.8 258.7,196.0 259.1,195.9 259.7,195.9 259.8,195.6 260.7,196.0 261.1,195.5 264.4,195.8 267.7,195.5 268.3,195.7 268.8,195.8 269.4,195.7 269.7,195.9 269.6,196.5 269.5,197.1 269.6,197.8" fill="#12f85e"/>
<polygon points="281.5,200.8 281.9,204.2 281.3,204.6 281.5,205.2 280.9,205.2 280.5,205.3 280.5,205.7 280.3,206.1 279.6,206.2 276.2,205.9 272.7,206.4 271.9,206.3 271.5,206.1 271.1,205.9 271.1,205.5 271.2,204.9 270.9,204.6 271.3,203.7 271.2,200.8 270.9,197.6 271.0,197.1 271.1,196.6 271.0,196.1 271.3,195.8 271.6,195.6 272.0,195.4 273.0,195.7 276.2,195.5 279.3,195.8 280.4,195.3 280.7,195.6 280.9,196.0 280.9,196.5 281.5,196.4 281.3,197.0 281.8,197.5" fill="#a80008"/>
<polygon points="293.1,200.8 293.1,203.9 292.7,204.3 292.9,204.9 292.8,205.3 292.6,205.5 292.7,206.3 292.1,206.3 291.3,206.2 287.9,206.2 284.5,206.3 284.2,205.7 283.6,205.7 283.1,205.7 283.0,205.4 282.8,205.0 282.9,204.5 282.8,203.8 282.5,200.8 282.6,197.7 282.2,196.6 282.3,196.1 282.5,195.8 283.2,196.0 283.5,195.8 284.3,196.1 284.9,195.9 287.9,196.1 291.1,195.7 292.2,195.3 292.7,195.4 293.0,195.7 293.2,196.0 293.6,196.1 293.0,197.1 293.3,197.6" fill="#12f85e"/>
<polygon points="305.0,200.8 305.1,204.0 305.4,205.0 305.3,205.5 304.8,205.5 304.3,205.5 304.3,206.0 303.7,206.0 303.0,206.1 299.7,205.8 296.5,205.8 295.4,206.3 295.2,205.9 294.9,205.7 294.4,205.7 294.8,204.8 294.5,204.6 294.8,203.7 294.5,200.8 294.3,197.6 294.6,197.1 294.3,196.3 294.3,195.8 294.6,195.6 295.0,195.5 295.4,195.2 296.2,195.3 299.7,195.3 303.2,195.2 303.9,195.3 304.2,195.6 304.4,195.9 304.3,196.6 304.4,196.8 304.5,197.3 305.0,197.6" fill="#a80008"/>
<polygon points="316.5,200.8 317.1,204.2 316.7,204.7 316.6,205.1 316.7,205.6 316.2,205.6 315.9,205.8 315.3,205.8 314.7,206.0 311.4,206.3 308.2,206.0 307.4,206.1 306.9,205.9 306.8,205.5 306.7,205.2 306.3,205.0 306.0,204.7 306.2,203.9 306.4,200.8 305.7,197.4 306.3,197.1 305.9,196.2 306.7,196.4 306.6,195.9 307.2,196.0 307.6,195.8 308.2,195.7 311.4,195.4 314.7,195.6 315.4,195.6 315.9,195.8 316.2,195.9 316.3,196.3 316.8,196.3 316.4,197.1 316.5,197.8" fill="#12f85e"/>
<polygon points="199.6,212.3 199.1,215.3 199.1,216.0 198.9,216.4 198.9,216.8 198.5,216.9 198.4,217.3 197.8,217.3 197.3,217.6 193.9,217.4 190.6,217.5 189.8,217.6 189.2,217.6 188.9,217.4 188.9,216.9 189.0,216.3 189.0,215.8 189.0,215.2 189.0,212.3 188.9,209.3 188.5,208.3 188.7,207.9 188.5,207.2 189.1,207.3 189.5,207.2 190.1,207.2 190.8,207.3 193.9,207.1 197.1,207.2 197.6,207.4 198.4,207.1 198.8,207.3 199.0,207.6 199.3,207.7 199.5,208.2 199.4,209.0" fill="#1000aa"/>
<polygon points="211.4,212.3 211.4,215.7 211.0,216.1 210.8,216.5 210.6,216.8 210.2,216.9 209.9,217.0 209.4,217.1 209.0,217.6 205.7,217.6 202.2,217.9 201.4,217.8 201.0,217.6 200.7,217.4 200.6,217.0 201.0,216.2 200.8,215.8 200.2,215.5 200.1,212.3 200.2,209.0 200.2,208.2 200.3,207.8 200.5,207.4 200.9,207.4 201.1,207.0 201.8,207.2 202.6,207.3 205.7,206.9 208.8,207.2 209.6,207.1 209.8,207.5 210.4,207.5 210.5,207.8 211.1,207.7 210.9,208.4 211.3,208.9" fill="#12f85e"/>
<polygon points="222.8,212.3 222.8,215.4 222.7,216.1 222.7,216.7 222.0,216.5 221.9,216.8 221.2,216.6 221.0,216.9 220.7,217.6 217.4,217.7 214.1,217.6 213.1,217.8 212.5,217.9 212.6,217.2 212.4,216.9 212.5,216.4 212.4,215.9 212.5,215.2 211.8,212.3 212.0,209.0 212.1,208.4 212.3,208.0 212.7,207.8 212.5,207.3 213.0,207.2 213.6,207.3 214.1,207.0 217.4,206.9 220.7,207.1 221.3,207.2 222.1,207.0 222.0,207.6 222.4,207.6 222.2,208.3 222.4,208.6 222.7,209.1" fill="#1000aa"/>
<polygon points="234.6,212.3 234.2,215.3 234.4,216.1 233.8,216.1 234.2,216.9 233.9,217.1 233.5,217.2 233.2,217.5 232.4,217.4 229.2,217.8 225.9,217.5 225.0,217.7 224.9,217.2 224.3,217.2 224.2,216.9 224.0,216.6 223.7,216.3 224.0,215.3 223.7,212.3 223.9,209.1 223.7,208.2 223.8,207.8 224.1,207.5 224.5,207.4 225.0,207.5 225.1,206.9 225.7,206.8 229.2,206.7 232.5,207.0 233.5,206.7 233.9,206.9 234.4,207.0 234.6,207.3 234.4,207.9 234.4,208.4 234.6,209.0" fill="#12f85e"/>
<polygon points="246.0,212.3 246.5,215.6 246.0,216.0 246.4,216.8 245.9,216.8 245.5,216.9 245.5,217.4 244.9,217.4 244.1,217.3 240.9,217.5 237.6,217.5 236.7,217.8 236.4,217.4 236.0,217.2 235.9,216.9 235.8,216.5 235.6,216.1 235.9,215.2 235.5,212.3 235.3,208.9 235.4,208.2 235.6,207.8 235.9,207.6 236.4,207.6 236.7,207.5 237.0,207.2 237.6,206.9 240.9,206.9 244.1,207.2 245.1,206.9 245.6,206.9 245.8,207.3 246.2,207.4 245.9,208.1 246.0,208.5 246.2,209.1" fill="#1000aa"/>
<polygon points="257.8,212.3 257.8,215.3 257.8,216.0 257.4,216.2 257.5,216.7 257.3,217.0 256.9,217.0 257.0,217.9 256.1,217.7 252.7,218.0 249.0,218.1 248.7,217.5 248.4,217.1 248.1,216.9 248.0,216.5 247.5,216.6 247.6,216.0 247.8,215.2 247.6,212.3 247.4,209.2 247.7,208.6 247.7,208.2 247.5,207.5 248.0,207.4 248.3,207.3 248.5,206.9 249.4,207.0 252.7,206.8 256.1,206.8 256.5,207.3 257.1,207.2 257.3,207.5 257.8,207.5 257.9,207.9 258.2,208.2 258.1,209.0" fill="#12f85e"/>
<polygon points="269.8,212.3 269.9,215.5 270.1,216.4 269.8,216.8 269.8,217.2 269.5,217.4 268.8,217.2 268.4,217.4 267.5,217.2 264.4,217.2 261.3,217.2 260.6,217.3 260.3,217.0 259.5,217.3 259.6,216.8 259.3,216.5 258.8,216.4 258.7,215.7 259.0,212.3 258.7,208.8 259.3,208.5 258.8,207.6 259.4,207.6 259.8,207.5 259.8,207.0 260.7,207.4 261.2,207.1 264.4,207.6 267.4,207.6 268.1,207.4 268.5,207.6 269.1,207.5 269.4,207.7 269.8,207.7 269.8,208.3 270.2,208.8" fill="#1000aa"/>
<polygon points="281.2,212.3 281.5,215.4 281.5,216.1 281.4,216.6 281.4,217.1 280.9,217.1 280.8,217.5 280.1,217.4 279.6,217.7 276.2,217.3 272.7,217.9 272.0,217.7 271.5,217.6 271.4,217.1 271.1,217.0 271.3,216.3 271.1,215.9 271.2,215.2 271.4,212.3 271.2,209.3 270.8,208.3 271.2,208.1 270.9,207.4 271.2,207.1 271.4,206.8 272.1,207.0 272.8,206.8 276.2,206.8 279.6,206.7 280.0,207.3 280.6,207.2 280.7,207.7 281.0,207.8 280.9,208.4 280.9,208.8 281.1,209.3" fill="#12f85e"/>
<polygon points="292.8,212.3 293.5,215.6 293.4,216.2 293.0,216.5 293.1,217.1 292.8,217.3 292.5,217.5 291.8,217.3 291.4,217.8 287.9,217.6 284.7,217.3 283.7,217.8 283.2,217.6 283.3,217.0 282.9,216.9 282.8,216.5 282.8,216.0 283.2,215.0 282.6,212.3 282.8,209.2 282.3,208.2 282.4,207.6 282.6,207.4 282.7,206.9 283.2,206.8 283.7,206.7 284.5,206.7 287.9,207.0 291.3,206.9 292.0,207.0 292.3,207.3 292.7,207.4 292.8,207.7 292.7,208.2 292.8,208.7 293.3,209.1" fill="#1000aa"/>
<polygon points="304.3,212.3 304.6,215.2 305.0,216.2 304.7,216.4 304.9,217.0 304.5,217.2 304.3,217.5 304.0,217.9 302.9,217.3 299.7,217.7 296.4,217.5 295.6,217.5 295.5,217.0 294.7,217.3 294.8,216.8 294.6,216.5 294.2,216.3 294.4,215.4 294.3,212.3 294.7,209.3 294.7,208.6 294.6,208.0 294.8,207.7 294.6,207.0 295.3,207.3 295.5,206.8 296.4,207.0 299.7,207.3 303.0,207.0 303.6,207.2 304.2,207.1 304.4,207.4 305.1,207.3 305.1,207.7 304.9,208.4 304.9,209.2" fill="#12f85e"/>
<polygon points="317.0,212.3 317.1,215.6 316.6,216.0 316.4,216.4 316.3,216.8 315.8,216.7 315.8,217.3 315.0,216.9 314.6,217.3 311.4,217.5 308.3,217.2 307.5,217.4 306.7,217.7 306.4,217.4 306.3,217.0 305.7,217.0 306.0,216.2 305.6,215.7 306.1,212.3 306.1,209.1 306.3,208.5 306.3,208.0 306.3,207.5 306.7,207.4 307.2,207.5 307.2,206.8 308.1,206.9 311.4,207.0 314.8,206.9 315.1,207.4 315.8,207.3 316.2,207.3 316.6,207.5 316.8,207.8 316.6,208.5 317.1,208.9" fill="#1000aa"/>
<polygon points="199.7,223.7 199.1,226.8 198.9,227.3 198.7,227.7 198.5,228.0 198.8,228.7 198.6,229.1 197.8,228.8 197.2,229.0 193.9,229.3 190.6,229.1 189.9,229.0 189.5,228.8 189.5,228.2 189.3,228.0 188.9,227.9 188.4,227.7 188.6,226.9 188.4,223.7 188.3,220.4 188.4,219.7 189.0,219.6 189.2,219.4 189.4,219.0 189.8,219.0 190.2,218.9 190.9,218.8 193.9,218.4 197.2,218.4 197.6,219.0 198.4,218.6 198.9,218.6 199.1,218.9 199.2,219.3 199.7,219.5 199.3,220.5" fill="#12f85e"/>
<polygon points="210.8,223.7 211.3,227.1 211.1,227.7 211.4,228.4 211.2,228.8 210.6,228.7 210.3,228.9 209.5,228.7 209.0,229.1 205.7,228.8 202.5,228.7 201.9,228.6 201.7,228.2 200.9,228.6 200.6,228.4 200.5,228.0 200.2,227.7 200.2,227.0 200.0,223.7 200.2,220.4 200.4,219.9 200.4,219.4 200.8,219.2 201.1,219.1 201.2,218.6 201.4,218.2 202.2,218.2 205.7,218.5 209.0,218.4 209.6,218.6 210.0,218.8 210.1,219.1 210.3,219.4 210.6,219.6 210.9,219.9 210.9,220.6" fill="#a80008"/>
<polygon points="222.7,223.7 222.6,226.8 223.0,227.8 222.7,228.1 222.3,228.2 222.3,228.7 222.1,229.0 221.3,228.7 220.8,229.2 217.4,229.4 214.1,229.0 213.2,229.2 212.9,228.9 212.9,228.4 212.8,228.0 212.2,228.0 212.3,227.5 212.2,226.8 212.0,223.7 211.8,220.4 211.8,219.6 211.9,219.2 212.3,219.0 212.9,219.1 213.2,218.9 213.7,218.9 214.3,218.7 217.4,218.5 220.7,218.5 221.5,218.4 221.8,218.8 222.3,218.7 222.3,219.2 222.3,219.6 222.7,219.8 222.6,220.7" fill="#12f85e"/>
<polygon points="234.6,223.7 234.3,226.8 234.9,227.9 234.7,228.3 234.6,228.7 234.0,228.6 233.7,228.9 233.2,229.0 232.6,229.2 229.2,228.6 226.0,228.8 225.6,228.3 224.7,228.8 224.5,228.5 224.1,228.4 223.9,228.1 224.1,227.4 224.0,226.8 224.0,223.7 223.7,220.4 224.0,219.9 224.0,219.4 224.2,219.1 224.0,218.4 224.5,218.4 225.3,218.6 225.7,218.2 229.2,218.7 232.2,218.8 233.0,218.7 233.7,218.6 233.6,219.2 234.2,219.1 234.2,219.5 234.5,219.9 234.3,220.7" fill="#a80008"/>
<polygon points="246.3,223.7 246.3,226.9 246.7,227.9 246.5,228.4 246.0,228.4 245.9,228.8 245.1,228.5 244.8,228.7 244.0,228.6 240.9,228.9 237.7,228.9 236.9,228.9 236.7,228.6 236.3,228.4 235.7,228.5 235.5,228.2 235.9,227.4 235.4,227.0 235.4,223.7 235.8,220.7 235.7,219.9 235.7,219.3 235.6,218.8 235.9,218.6 236.3,218.4 236.6,218.2 237.5,218.3 240.9,218.7 244.2,218.5 244.7,218.7 245.1,219.0 245.4,219.2 245.5,219.5 245.8,219.7 246.2,219.8 246.5,220.4" fill="#12f85e"/>
<polygon points="258.0,223.7 257.9,226.8 258.4,227.9 258.0,228.1 257.7,228.4 257.2,228.4 256.8,228.3 256.6,228.8 255.9,228.8 252.7,229.2 249.3,229.1 248.6,229.0 248.2,228.8 247.8,228.7 247.9,228.1 247.1,228.3 247.2,227.7 246.9,227.1 247.1,223.7 247.3,220.5 247.1,219.7 247.5,219.4 247.9,219.3 248.5,219.5 248.7,219.1 248.8,218.7 249.4,218.4 252.7,218.0 256.0,218.4 257.1,218.0 257.1,218.7 257.6,218.7 257.6,219.1 257.4,219.8 257.7,220.0 258.1,220.5" fill="#a80008"/>
<polygon points="269.9,223.7 269.5,226.7 269.3,227.3 269.3,227.7 269.3,228.2 269.4,228.8 269.3,229.2 268.9,229.5 267.9,229.3 264.4,229.4 261.2,228.8 260.5,228.8 260.5,228.2 259.9,228.4 259.8,228.0 259.4,227.9 258.9,227.7 259.4,226.7 259.3,223.7 259.3,220.7 259.4,220.0 259.7,219.8 259.6,219.3 259.3,218.5 259.7,218.3 260.3,218.4 260.9,218.1 264.4,218.4 267.9,218.2 268.0,219.0 268.5,219.1 268.8,219.3 269.4,219.1 269.9,219.2 269.9,219.7 269.5,220.7" fill="#12f85e"/>
<polygon points="281.6,223.7 281.6,226.9 281.3,227.4 281.2,227.9 280.6,227.8 280.6,228.2 280.6,228.7 279.9,228.6 279.4,228.9 276.2,229.3 272.6,229.4 271.8,229.4 271.5,229.0 271.1,228.9 271.2,228.3 270.9,228.1 271.3,227.2 271.2,226.7 271.2,223.7 271.0,220.7 270.8,219.8 271.3,219.7 271.0,218.9 271.7,219.1 271.6,218.5 272.1,218.4 272.9,218.5 276.2,218.3 279.6,218.2 280.2,218.5 280.9,218.3 280.8,219.0 281.5,218.8 281.6,219.2 281.8,219.6 281.4,220.6" fill="#a80008"/>
<polygon points="293.6,223.7 293.1,226.8 293.4,227.7 293.5,228.3 293.2,228.6 292.9,228.8 292.5,228.9 292.0,229.0 291.1,228.7 287.9,228.6 284.9,228.5 284.3,228.4 283.5,228.8 283.4,228.3 282.8,228.5 282.7,228.1 282.3,227.8 282.3,227.1 282.4,223.7 282.6,220.5 282.7,219.9 282.5,219.2 282.8,219.0 282.7,218.4 283.5,218.7 283.8,218.4 284.8,218.7 287.9,218.7 291.0,218.8 291.9,218.6 292.4,218.6 292.5,219.0 293.2,218.8 293.5,219.1 293.3,219.8 293.4,220.5" fill="#12f85e"/>
<polygon points="305.2,223.7 305.0,226.9 304.7,227.4 304.9,228.0 304.6,228.3 304.5,228.7 304.6,229.4 303.8,229.0 302.8,228.7 299.7,228.7 296.9,228.2 296.1,228.4 295.8,228.1 295.4,228.1 294.6,228.4 294.0,228.4 294.2,227.7 293.6,227.3 293.8,223.7 294.0,220.4 294.3,219.8 294.9,219.7 294.9,219.3 295.1,219.0 295.5,218.9 295.6,218.4 296.5,218.7 299.7,218.4 303.0,218.4 303.7,218.5 304.0,218.7 304.4,218.8 305.0,218.8 304.7,219.5 304.9,219.9 304.8,220.7" fill="#a80008"/>
<polygon points="316.6,223.7 316.9,227.0 316.6,227.5 316.2,227.7 316.4,228.3 315.6,228.0 315.4,228.2 315.2,228.6 314.8,229.1 311.4,228.8 308.1,229.0 307.1,229.4 306.8,229.0 306.2,229.1 306.6,228.2 306.4,227.9 306.3,227.4 305.9,227.0 306.3,223.7 305.9,220.5 305.8,219.6 305.9,219.1 306.3,219.0 307.1,219.3 307.2,218.9 307.8,219.0 308.5,219.0 311.4,218.8 314.8,218.3 315.6,218.3 315.9,218.6 316.4,218.7 316.5,219.1 317.1,219.0 317.0,219.6 316.8,220.5" fill="#12f85e"/>
<polygon points="199.5,235.2 199.5,238.5 199.5,239.3 199.2,239.5 198.8,239.7 198.7,240.1 198.5,240.4 197.7,240.1 197.2,240.5 193.9,240.3 190.5,240.6 190.0,240.3 189.4,240.3 189.2,240.0 188.8,239.9 188.8,239.4 188.6,239.1 188.2,238.6 188.2,235.2 188.5,232.0 188.8,231.4 188.5,230.7 189.3,230.9 189.0,230.2 189.3,229.9 189.8,229.9 190.4,229.5 193.9,229.6 197.4,229.6 198.0,229.9 198.1,230.4 198.2,230.7 198.8,230.6 198.8,231.1 198.9,231.6 199.4,231.9" fill="#1000aa"/>
<polygon points="211.2,235.2 211.3,238.5 211.3,239.2 211.0,239.6 210.9,240.0 210.5,240.1 209.7,239.7 209.4,240.0 208.6,239.8 205.7,239.8 202.4,240.5 201.4,240.7 201.1,240.4 200.3,240.6 200.3,240.1 200.6,239.4 200.4,239.0 200.3,238.3 200.7,235.2 200.1,231.8 200.3,231.2 200.4,230.7 200.4,230.3 200.7,230.1 201.2,230.1 201.9,230.3 202.8,230.5 205.7,230.2 208.9,230.1 209.6,230.1 210.0,230.2 210.7,230.1 210.4,230.8 210.7,231.0 210.7,231.5 211.2,231.9" fill="#12f85e"/>
<polygon points="223.0,235.2 222.3,238.1 222.6,238.9 222.4,239.3 222.4,239.8 222.5,240.3 222.1,240.5 221.8,240.8 220.8,240.6 217.4,240.6 214.4,240.0 213.5,240.3 213.3,239.9 212.5,240.2 212.1,240.1 211.7,239.9 211.7,239.3 212.0,238.4 212.1,235.2 212.1,232.0 212.7,231.7 212.4,231.0 212.4,230.5 212.4,230.1 212.9,230.0 213.2,229.7 214.0,229.7 217.4,230.0 220.6,230.0 221.4,230.0 221.6,230.4 222.1,230.3 222.5,230.4 223.0,230.5 222.8,231.2 222.8,232.0" fill="#1000aa"/>
<polygon points="234.7,235.2 234.4,238.2 234.4,239.0 234.2,239.4 233.6,239.3 233.9,240.0 233.4,239.9 233.0,240.1 232.2,240.0 229.2,240.3 225.9,240.4 225.1,240.5 224.9,240.0 224.5,239.9 224.4,239.6 224.0,239.5 223.6,239.2 223.5,238.5 223.2,235.2 223.3,231.7 223.9,231.3 223.9,230.8 224.4,230.8 224.7,230.6 225.0,230.4 225.6,230.6 225.9,230.0 229.2,230.2 232.6,229.7 233.1,230.1 234.0,229.7 234.1,230.2 234.3,230.4 234.5,230.7 234.6,231.2 234.6,232.0" fill="#12f85e"/>
<polygon points="246.0,235.2 246.1,238.2 245.9,238.8 246.2,239.6 246.1,240.0 245.5,239.8 245.3,240.1 244.9,240.3 244.3,240.6 240.9,240.5 237.5,240.7 236.7,240.6 236.8,239.9 236.6,239.6 236.4,239.3 236.1,239.2 236.0,238.7 235.6,238.3 235.5,235.2 235.2,231.8 235.1,230.9 235.3,230.5 236.0,230.6 236.2,230.3 236.9,230.6 237.1,230.2 237.6,229.9 240.9,229.8 244.1,230.1 244.9,230.0 245.8,229.6 246.0,229.9 246.3,230.2 245.9,231.0 246.3,231.3 245.8,232.3" fill="#1000aa"/>
<polygon points="258.2,235.2 257.9,238.3 257.7,238.9 257.9,239.5 257.8,239.9 257.4,240.0 257.1,240.2 257.1,240.9 256.1,240.6 252.7,240.6 249.5,240.2 248.8,240.2 248.3,240.1 248.3,239.6 247.7,239.8 247.5,239.4 247.1,239.2 246.7,238.7 246.5,235.2 246.9,231.7 247.3,231.2 247.6,230.9 247.8,230.7 248.0,230.4 248.4,230.3 248.7,230.1 249.5,230.0 252.7,229.6 256.0,229.8 256.5,230.2 257.3,229.9 257.2,230.5 257.8,230.4 257.5,231.2 257.9,231.4 258.3,231.8" fill="#12f85e"/>
<polygon points="269.6,235.2 269.5,238.2 269.5,238.9 269.3,239.2 269.3,239.7 269.3,240.2 269.3,240.7 268.8,240.9 267.8,240.6 264.4,240.7 261.3,240.2 260.6,240.1 260.4,239.8 259.7,240.0 259.3,239.9 259.0,239.7 259.0,239.1 258.9,238.4 258.9,235.2 258.9,231.9 259.5,231.5 259.3,230.9 259.3,230.4 260.0,230.6 259.8,229.9 260.4,230.0 261.0,229.7 264.4,229.8 267.7,229.9 268.5,229.9 268.8,230.1 269.1,230.4 269.9,230.1 270.1,230.4 270.0,231.1 269.6,232.1" fill="#1000aa"/>
<polygon points="281.8,235.2 281.8,238.5 281.4,239.0 280.7,238.9 280.9,239.5 280.6,239.7 280.6,240.2 280.3,240.5 279.7,240.9 276.2,240.6 272.7,240.7 272.3,240.2 271.7,240.2 271.6,239.9 271.2,239.8 270.6,239.8 270.8,239.1 270.9,238.3 270.3,235.2 270.7,231.9 270.9,231.3 271.0,230.9 271.2,230.6 271.7,230.6 271.6,229.9 272.2,230.0 272.7,229.7 276.2,229.6 279.4,230.0 280.0,230.2 280.4,230.3 280.8,230.4 281.2,230.5 281.8,230.4 281.6,231.2 282.2,231.6" fill="#12f85e"/>
<polygon points="292.9,235.2 292.8,238.1 292.6,238.6 292.7,239.1 293.1,240.0 293.0,240.3 292.6,240.5 292.2,240.7 291.2,240.4 287.9,240.2 284.7,240.3 284.0,240.3 283.7,239.9 283.2,240.0 283.0,239.7 282.9,239.3 282.6,239.1 282.8,238.2 282.6,235.2 282.5,232.0 282.7,231.4 282.9,231.0 282.5,230.1 282.9,230.0 283.3,229.9 283.8,229.9 284.7,230.1 287.9,229.9 290.8,230.5 292.0,229.9 292.5,230.0 292.9,230.1 293.5,230.0 293.7,230.4 293.5,231.1 292.9,232.2" fill="#1000aa"/>
<polygon points="304.7,235.2 304.5,238.0 304.2,238.5 304.3,239.0 304.4,239.5 304.5,240.0 304.5,240.6 303.6,240.3 303.0,240.4 299.7,240.4 296.3,240.5 295.7,240.3 295.1,240.4 294.9,240.0 294.7,239.8 294.2,239.7 294.1,239.2 294.6,238.2 294.9,235.2 294.6,232.2 295.1,231.8 294.5,230.9 294.7,230.5 295.1,230.4 295.1,230.0 295.8,230.1 296.5,230.1 299.7,230.0 303.1,229.7 303.8,229.8 304.3,229.9 304.7,230.0 305.0,230.2 305.2,230.6 305.3,231.1 305.0,232.0" fill="#12f85e"/>
<polygon points="316.9,235.2 316.8,238.4 316.6,239.0 316.3,239.2 316.2,239.6 316.2,240.1 315.7,240.0 315.5,240.4 314.7,240.4 311.4,240.5 308.1,240.5 307.8,239.9 307.3,239.9 307.1,239.6 306.4,239.8 306.0,239.7 305.9,239.2 305.7,238.5 305.7,235.2 305.9,231.9 305.9,231.2 306.3,230.9 306.7,230.8 307.2,230.8 307.3,230.4 307.6,230.3 308.1,229.8 311.4,229.4 314.7,229.9 315.5,229.9 315.7,230.3 316.3,230.2 316.2,230.7 316.6,230.9 316.5,231.5 317.1,231.8" fill="#1000aa"/>
<polygon points="199.2,246.6 198.8,249.5 199.3,250.6 199.1,250.9 198.8,251.2 198.6,251.3 198.1,251.3 197.9,251.7 197.3,251.9 193.9,251.6 190.8,251.6 189.8,251.9 189.4,251.8 188.8,251.8 188.8,251.4 188.2,251.4 188.2,250.8 188.6,249.8 188.5,246.6 188.6,243.5 188.8,242.9 188.7,242.3 189.0,242.0 189.2,241.7 189.8,241.9 190.1,241.6 190.7,241.5 193.9,241.3 197.1,241.6 198.2,241.1 198.5,241.4 198.8,241.7 199.4,241.6 199.3,242.1 199.4,242.6 199.4,243.4" fill="#12f85e"/>
<polygon points="210.9,246.6 210.8,249.7 210.8,250.4 210.7,250.8 210.7,251.2 210.3,251.3 209.9,251.5 209.3,251.3 208.9,251.8 205.7,251.8 202.5,251.8 201.8,251.7 201.3,251.6 200.9,251.5 200.9,251.0 200.6,250.8 200.7,250.2 200.2,249.9 200.0,246.6 200.3,243.5 200.6,242.9 200.2,242.1 201.0,242.3 201.0,241.8 201.3,241.6 201.8,241.6 202.2,241.1 205.7,241.4 209.2,241.0 210.1,240.9 210.5,241.1 210.7,241.5 210.6,242.1 210.7,242.5 211.0,242.7 210.8,243.6" fill="#a80008"/>
<polygon points="222.9,246.6 223.4,250.1 223.1,250.8 222.8,251.1 222.3,251.1 222.1,251.4 221.6,251.4 221.5,251.9 220.5,251.6 217.4,252.0 214.3,251.6 213.7,251.4 212.8,251.9 212.8,251.3 212.1,251.5 212.0,251.1 212.1,250.5 211.7,250.0 212.0,246.6 211.8,243.3 212.3,242.9 212.2,242.3 212.4,242.0 212.9,242.0 212.9,241.5 213.3,241.2 213.9,241.1 217.4,241.4 220.9,241.1 221.6,241.2 221.6,241.8 221.7,242.2 221.9,242.5 222.4,242.5 222.3,243.1 223.0,243.3" fill="#12f85e"/>
<polygon points="234.6,246.6 234.7,249.9 234.7,250.7 234.3,250.9 233.9,251.0 234.0,251.6 233.7,251.7 233.1,251.7 232.4,251.8 229.2,251.8 226.0,251.8 225.1,251.9 224.9,251.5 224.0,251.9 223.8,251.6 224.0,250.9 223.9,250.4 223.7,249.9 224.0,246.6 223.6,243.3 224.1,242.9 224.1,242.4 224.2,242.0 224.2,241.5 224.9,241.7 225.1,241.3 225.9,241.4 229.2,241.4 232.6,241.2 233.3,241.2 233.8,241.3 234.1,241.6 234.1,242.1 234.3,242.4 234.6,242.6 234.3,243.6" fill="#a80008"/>
<polygon points="246.4,246.6 246.2,249.7 246.2,250.4 245.9,250.7 245.5,250.8 245.1,250.9 245.4,251.8 244.8,251.6 244.2,251.9 240.9,252.4 237.5,252.1 236.6,252.2 236.2,251.9 236.3,251.4 235.7,251.5 235.5,251.2 235.6,250.5 235.4,249.9 235.6,246.6 235.9,243.6 235.7,242.8 235.7,242.3 235.9,242.0 236.4,242.0 236.4,241.5 236.6,241.0 237.5,241.2 240.9,241.4 244.2,241.4 244.6,241.8 245.2,241.8 245.4,242.1 246.1,241.8 246.1,242.3 246.8,242.3 246.4,243.4" fill="#12f85e"/>
<polygon points="257.8,246.6 257.9,249.7 258.0,250.5 257.7,250.8 257.3,250.9 257.2,251.2 257.3,251.8 256.5,251.6 256.1,252.1 252.7,252.2 249.2,252.1 248.8,251.6 248.4,251.4 247.9,251.6 247.9,251.0 247.8,250.7 247.5,250.4 247.5,249.7 247.4,246.6 246.9,243.2 247.2,242.6 247.8,242.6 248.0,242.3 248.4,242.3 248.6,242.0 248.8,241.6 249.3,241.2 252.7,241.2 256.3,240.9 257.1,240.9 257.3,241.3 257.3,241.9 257.5,242.1 258.0,242.2 257.7,242.9 258.3,243.3" fill="#a80008"/>
<polygon points="269.7,246.6 270.0,249.9 270.0,250.7 270.1,251.4 269.8,251.6 269.4,251.7 268.6,251.4 268.2,251.5 267.7,251.9 264.4,251.5 261.3,251.7 260.4,251.9 259.7,252.0 259.9,251.3 259.3,251.3 259.3,250.8 259.2,250.4 258.9,249.9 259.3,246.6 258.9,243.4 259.1,242.8 259.0,242.1 259.2,241.8 259.7,241.8 260.2,241.8 260.3,241.3 261.0,241.2 264.4,241.2 267.9,241.1 268.7,241.1 268.7,241.8 269.1,241.8 269.3,242.1 269.1,242.7 269.7,242.8 269.5,243.6" fill="#12f85e"/>
<polygon points="281.4,246.6 281.5,249.8 281.7,250.6 281.4,250.9 281.6,251.6 281.0,251.5 280.8,251.9 280.2,251.8 279.5,251.9 276.2,252.0 273.0,251.7 272.2,251.8 271.8,251.6 271.8,251.1 271.4,251.0 271.4,250.6 271.2,250.3 271.3,249.5 270.9,246.6 270.9,243.5 270.7,242.6 270.4,241.8 271.1,241.9 271.2,241.5 271.8,241.6 272.2,241.4 272.8,241.3 276.2,241.3 279.6,241.2 280.4,241.2 280.6,241.6 281.2,241.5 281.3,241.9 281.1,242.5 281.2,243.0 281.3,243.6" fill="#a80008"/>
<polygon points="293.1,246.6 293.3,249.8 293.5,250.7 293.3,251.1 293.3,251.6 293.0,251.8 292.2,251.4 291.6,251.4 291.3,252.0 287.9,251.6 284.5,252.1 283.9,251.8 283.5,251.7 283.3,251.3 282.9,251.3 282.8,250.9 283.1,250.1 283.2,249.4 283.0,246.6 282.6,243.4 282.6,242.7 282.9,242.4 282.9,242.0 283.1,241.6 283.2,241.3 283.9,241.4 284.6,241.3 287.9,241.2 291.2,241.4 291.9,241.4 292.5,241.4 292.6,241.9 292.4,242.5 292.7,242.7 292.9,243.0 292.9,243.7" fill="#12f85e"/>
<polygon points="305.3,246.6 304.6,249.5 304.8,250.3 304.6,250.7 304.4,251.0 304.4,251.5 304.3,251.9 303.7,251.8 302.9,251.8 299.7,251.9 296.2,252.2 295.6,251.9 295.2,251.7 295.1,251.3 295.0,251.0 294.5,250.9 294.4,250.5 294.0,250.0 294.4,246.6 294.2,243.4 294.0,242.5 294.1,242.0 294.6,241.9 294.8,241.6 295.6,241.9 295.8,241.6 296.6,241.8 299.7,241.5 302.8,241.7 303.5,241.7 304.0,241.6 304.7,241.4 305.0,241.6 305.4,241.9 305.1,242.6 304.9,243.5" fill="#a80008"/>
<polygon points="316.6,246.6 317.0,249.9 316.7,250.5 316.8,251.1 316.6,251.4 316.2,251.5 316.1,251.9 315.2,251.5 314.7,251.8 311.4,252.0 308.2,251.7 307.2,252.2 307.1,251.6 306.6,251.6 306.6,251.1 306.4,250.8 306.3,250.3 306.4,249.6 306.5,246.6 306.2,243.5 306.2,242.8 306.5,242.5 306.1,241.6 306.7,241.8 307.0,241.5 307.4,241.4 308.1,241.3 311.4,241.3 314.9,241.1 315.2,241.8 315.8,241.6 316.1,241.8 316.2,242.2 316.4,242.5 316.6,242.8 317.0,243.3" fill="#12f85e"/>
<polygon points="199.2,258.1 199.3,261.3 198.8,261.6 199.0,262.3 198.8,262.6 198.3,262.5 198.2,263.0 198.1,263.5 197.2,263.4 193.9,263.7 190.5,263.6 189.7,263.6 189.5,263.2 189.3,262.8 188.9,262.7 189.0,262.2 188.7,261.9 188.9,261.0 188.6,258.1 188.5,254.9 188.2,253.9 188.6,253.6 188.6,253.2 189.3,253.3 189.5,253.0 190.1,253.2 190.6,252.7 193.9,253.0 197.4,252.6 198.0,252.8 198.3,253.1 198.8,253.1 199.2,253.2 199.3,253.6 199.5,254.0 199.3,254.9" fill="#1000aa"/>
<polygon points="211.2,258.1 211.1,261.3 210.9,261.9 211.2,262.6 210.8,262.8 210.4,262.9 210.1,263.1 209.6,263.1 208.8,263.1 205.7,263.5 202.2,263.6 201.4,263.6 201.0,263.4 200.6,263.3 200.6,262.7 200.1,262.7 200.2,262.1 200.4,261.2 200.6,258.1 200.5,255.0 201.0,254.7 200.8,254.0 200.9,253.7 200.9,253.1 201.3,253.0 201.6,252.7 202.2,252.5 205.7,252.7 208.9,252.9 209.5,253.1 210.4,252.7 210.5,253.2 210.6,253.5 210.5,254.1 210.6,254.5 210.6,255.1" fill="#12f85e"/>
<polygon points="222.9,258.1 223.0,261.4 223.2,262.3 222.5,262.3 222.4,262.7 222.0,262.8 221.8,263.1 221.3,263.1 220.5,263.0 217.4,263.5 214.3,263.1 213.4,263.3 212.9,263.2 212.5,263.1 212.7,262.4 212.2,262.4 211.9,262.1 212.0,261.3 212.0,258.1 212.2,255.0 212.1,254.2 212.4,253.9 212.6,253.6 212.6,253.2 212.9,252.9 213.4,252.9 213.9,252.4 217.4,252.3 220.9,252.6 221.2,253.2 221.7,253.2 222.1,253.3 221.9,253.9 222.3,254.0 222.7,254.3 222.7,254.9" fill="#1000aa"/>
<polygon points="234.6,258.1 234.3,261.1 234.9,262.2 234.7,262.7 234.6,263.1 233.9,262.9 233.8,263.3 233.0,263.0 232.4,263.2 229.2,263.1 226.1,263.0 225.1,263.4 224.7,263.1 224.2,263.1 223.8,263.1 223.9,262.4 223.4,262.3 223.9,261.2 223.6,258.1 224.2,255.1 224.3,254.5 224.1,253.8 224.4,253.6 224.4,253.2 224.8,253.1 225.0,252.7 225.8,252.7 229.2,252.7 232.3,253.1 232.9,253.2 233.7,253.0 233.7,253.4 234.3,253.3 234.4,253.8 234.7,254.1 234.7,254.8" fill="#12f85e"/>
<polygon points="246.3,258.1 246.2,261.2 246.0,261.7 245.9,262.2 246.1,262.8 245.7,262.9 245.3,263.1 245.3,263.7 244.4,263.6 240.9,263.6 237.5,263.5 237.1,263.1 236.8,262.8 236.2,262.9 235.8,262.8 235.6,262.5 235.3,262.2 235.6,261.2 235.3,258.1 235.9,255.1 236.0,254.5 235.8,253.8 236.2,253.7 236.0,253.1 236.5,253.0 236.9,252.8 237.6,252.7 240.9,252.9 244.3,252.7 245.0,252.7 245.5,252.8 245.5,253.4 245.7,253.6 246.2,253.7 246.5,254.0 246.4,254.8" fill="#1000aa"/>
<polygon points="258.0,258.1 258.2,261.4 258.0,261.9 257.8,262.3 257.9,262.9 257.8,263.3 257.3,263.3 256.5,263.0 255.9,263.2 252.7,263.0 249.4,263.4 248.8,263.1 248.3,263.0 247.7,263.2 247.8,262.6 247.5,262.4 247.0,262.2 247.4,261.2 247.3,258.1 247.3,254.9 247.5,254.3 247.5,253.7 247.7,253.5 247.7,253.0 248.2,252.9 248.5,252.7 249.3,252.7 252.7,252.6 255.9,252.8 256.5,253.1 257.0,253.2 257.2,253.4 257.3,253.8 257.9,253.8 257.8,254.3 257.9,255.0" fill="#12f85e"/>
<polygon points="269.8,258.1 270.1,261.5 270.0,262.1 269.5,262.3 269.2,262.5 268.9,262.7 268.8,263.1 268.4,263.2 267.9,263.6 264.4,264.0 260.8,263.9 260.2,263.6 259.7,263.4 259.7,262.9 259.5,262.6 259.5,262.1 259.1,262.0 258.9,261.4 259.0,258.1 259.0,254.8 259.4,254.4 259.3,253.8 259.3,253.4 260.0,253.6 260.0,253.0 260.6,253.1 261.0,252.5 264.4,252.6 268.0,252.4 268.8,252.4 268.8,253.1 269.4,253.0 269.3,253.6 269.2,254.1 269.4,254.5 269.7,254.9" fill="#1000aa"/>
<polygon points="281.9,258.1 281.9,261.5 281.6,262.0 281.5,262.5 280.9,262.5 280.8,262.8 280.5,263.0 279.9,262.9 279.4,263.3 276.2,263.1 272.6,263.8 272.0,263.5 271.3,263.6 271.2,263.2 271.3,262.6 270.9,262.4 270.9,261.9 271.1,261.1 270.8,258.1 270.8,254.9 270.8,254.2 271.2,254.0 270.9,253.2 271.2,252.9 271.7,253.0 271.9,252.5 272.6,252.4 276.2,252.7 279.4,252.9 280.1,253.0 280.5,253.1 280.6,253.6 280.8,253.8 281.3,253.8 281.0,254.5 281.6,254.8" fill="#12f85e"/>
<polygon points="293.6,258.1 293.2,261.2 293.0,261.8 293.3,262.5 292.8,262.6 292.6,262.9 292.1,262.8 291.8,263.1 291.3,263.5 287.9,263.5 284.6,263.5 283.8,263.5 283.6,262.9 283.4,262.7 283.1,262.6 282.5,262.5 282.5,262.1 282.5,261.3 282.3,258.1 282.6,254.9 282.5,254.1 282.8,253.8 283.2,253.7 283.2,253.2 283.8,253.4 283.9,252.9 284.6,252.8 287.9,252.9 291.2,252.9 291.8,253.0 292.3,253.2 292.9,253.0 293.0,253.4 293.3,253.6 293.2,254.2 293.2,254.9" fill="#1000aa"/>
<polygon points="304.7,258.1 304.7,261.0 304.9,261.9 305.0,262.5 304.5,262.5 304.9,263.4 304.4,263.5 304.0,263.6 303.0,263.4 299.7,263.2 296.7,262.9 296.0,262.8 295.3,263.0 295.3,262.6 294.5,262.8 294.2,262.6 293.9,262.3 294.3,261.3 294.0,258.1 293.9,254.6 294.4,254.2 294.7,253.9 295.1,253.8 295.1,253.4 295.4,253.2 296.0,253.3 296.6,253.1 299.7,252.7 302.9,253.0 303.9,252.6 304.4,252.7 304.5,253.1 304.5,253.6 304.9,253.7 304.8,254.4 304.6,255.1" fill="#12f85e"/>
<polygon points="316.8,258.1 316.8,261.3 316.3,261.6 316.2,262.1 316.1,262.4 315.8,262.6 315.9,263.2 315.6,263.5 314.8,263.5 311.4,263.6 308.0,263.6 307.5,263.1 307.1,263.0 306.9,262.7 306.7,262.4 306.3,262.3 306.1,261.9 305.8,261.4 306.0,258.1 305.6,254.6 305.7,253.9 306.2,253.7 306.4,253.4 306.8,253.4 307.2,253.2 307.6,253.2 308.1,252.8 311.4,252.6 314.9,252.6 315.6,252.6 315.8,253.1 316.4,253.0 316.3,253.5 316.4,254.0 316.8,254.1 317.0,254.8" fill="#1000aa"/>
</g>
<clipPath id="chk3"><rect x="194.9" y="280.1" width="116.60" height="116.00"/></clipPath>
<rect x="194.9" y="280.1" width="116.60" height="116.00" fill="#000"/>
<g clip-path="url(#chk3)">
<polygon points="197.6,277.1 197.4,280.3 197.7,281.2 197.7,281.8 197.1,281.7 197.2,282.3 196.3,281.9 196.0,282.1 195.6,282.6 192.3,282.9 188.8,282.9 187.9,283.1 187.9,282.4 187.8,281.9 187.5,281.8 187.6,281.2 187.6,280.7 187.5,280.1 187.0,277.1 187.2,273.9 186.9,272.9 187.1,272.5 187.5,272.3 187.4,271.8 188.1,272.0 188.5,271.8 189.2,271.7 192.3,271.3 195.8,271.2 196.4,271.5 196.6,271.9 197.0,272.0 197.0,272.5 197.1,272.9 197.3,273.3 197.0,274.1" fill="#1000aa"/>
<polygon points="209.3,277.1 209.0,280.3 209.4,281.4 208.9,281.5 209.2,282.3 208.4,282.0 208.3,282.4 208.0,282.7 207.1,282.5 203.9,282.7 200.8,282.3 199.8,282.7 199.3,282.6 199.3,282.0 198.8,282.1 198.6,281.8 198.9,280.9 198.7,280.3 198.4,277.1 198.5,273.7 198.3,272.8 198.7,272.5 198.9,272.2 199.4,272.2 199.7,272.0 199.9,271.6 200.8,271.9 203.9,271.4 207.2,271.4 207.9,271.6 208.2,271.8 208.4,272.2 208.6,272.5 209.1,272.5 209.2,272.9 209.3,273.7" fill="#12f85e"/>
<polygon points="220.9,277.1 220.6,280.3 220.4,280.9 220.4,281.4 220.3,281.8 220.1,282.1 220.0,282.5 219.3,282.4 218.5,282.3 215.4,282.5 212.5,282.0 212.1,281.7 211.6,281.7 210.8,282.0 210.6,281.8 209.9,281.9 210.0,281.3 209.7,280.7 209.8,277.1 210.2,273.8 210.7,273.4 210.5,272.8 210.6,272.3 210.8,272.1 210.9,271.6 211.2,271.3 212.1,271.5 215.4,271.4 218.7,271.6 219.4,271.6 219.5,272.2 219.8,272.3 220.2,272.4 220.5,272.6 221.0,272.8 220.7,273.8" fill="#1000aa"/>
<polygon points="232.5,277.1 232.2,280.3 232.3,281.2 232.4,281.8 232.2,282.2 231.7,282.1 231.2,282.1 230.9,282.4 230.2,282.5 227.0,282.6 223.6,282.7 223.0,282.6 222.4,282.7 222.3,282.2 222.3,281.7 222.3,281.2 222.0,280.9 222.2,280.1 222.0,277.1 221.9,273.9 221.7,273.0 221.7,272.4 221.5,271.7 222.1,271.8 222.6,271.7 223.2,271.9 223.9,271.8 227.0,271.6 230.1,271.8 230.9,271.8 231.3,271.9 231.6,272.1 231.8,272.4 231.9,272.8 232.1,273.2 231.9,274.0" fill="#12f85e"/>
<polygon points="244.0,277.1 244.1,280.6 243.9,281.2 243.3,281.2 243.2,281.6 242.8,281.7 242.8,282.2 242.3,282.1 241.6,282.3 238.6,282.3 235.0,283.0 234.7,282.4 234.3,282.2 233.7,282.4 234.0,281.5 233.6,281.4 233.4,281.1 233.0,280.5 232.8,277.1 232.7,273.4 233.2,273.0 233.7,272.8 234.0,272.6 234.5,272.6 234.7,272.4 234.9,272.0 235.4,271.7 238.6,272.0 241.7,271.7 242.8,271.3 243.1,271.6 243.3,271.9 243.4,272.4 243.5,272.7 243.7,273.1 244.1,273.6" fill="#1000aa"/>
<polygon points="255.4,277.1 255.5,280.4 255.4,281.1 255.2,281.5 255.0,281.8 254.9,282.2 254.5,282.3 254.2,282.7 253.3,282.5 250.1,282.6 246.8,282.6 246.2,282.5 245.7,282.4 245.3,282.3 245.1,281.9 244.8,281.8 245.2,280.9 245.0,280.3 244.6,277.1 244.7,273.6 244.8,273.0 245.0,272.6 245.2,272.3 245.4,272.0 245.8,271.9 246.3,271.9 247.1,272.0 250.1,271.8 253.3,271.7 253.8,272.0 254.6,271.7 255.0,271.8 255.0,272.3 255.1,272.7 255.0,273.3 255.3,273.8" fill="#12f85e"/>
<polygon points="266.8,277.1 267.1,280.4 266.8,281.0 266.6,281.4 266.4,281.6 266.1,281.9 266.1,282.4 265.8,282.7 264.9,282.5 261.7,282.4 258.5,282.5 257.6,282.7 257.1,282.6 257.0,282.2 256.5,282.1 256.7,281.5 256.8,280.8 256.7,280.2 256.3,277.1 256.4,273.8 256.9,273.4 256.8,272.8 256.9,272.4 257.0,272.1 257.6,272.1 257.5,271.4 258.4,271.5 261.7,271.6 264.8,271.8 265.7,271.5 266.4,271.4 266.6,271.8 266.9,272.0 267.0,272.4 267.0,273.0 266.6,274.0" fill="#1000aa"/>
<polygon points="278.8,277.1 278.4,280.3 278.3,280.9 278.3,281.5 277.8,281.5 277.9,282.1 277.5,282.2 277.5,282.9 276.7,282.9 273.2,282.9 270.1,282.3 269.5,282.2 269.2,281.9 268.8,281.9 268.1,282.1 267.7,281.9 267.5,281.5 267.4,280.7 267.8,277.1 267.8,273.7 267.9,273.0 268.4,272.8 268.2,272.2 268.5,271.9 269.0,271.9 269.3,271.7 269.9,271.4 273.2,271.8 276.3,271.9 276.8,272.1 277.2,272.3 278.0,271.9 278.5,272.0 278.7,272.3 278.7,272.8 278.9,273.5" fill="#12f85e"/>
<polygon points="290.0,277.1 290.1,280.4 289.7,280.8 289.6,281.3 289.8,282.0 289.6,282.3 289.4,282.6 288.9,282.7 288.0,282.4 284.8,282.6 281.4,282.7 280.8,282.6 280.6,282.1 280.1,282.1 279.8,281.9 280.0,281.3 279.7,281.0 279.4,280.5 279.5,277.1 279.6,273.8 279.6,273.1 279.7,272.6 280.0,272.3 280.3,272.2 280.2,271.6 280.7,271.4 281.6,271.7 284.8,271.5 288.1,271.5 288.7,271.7 289.3,271.7 289.7,271.7 289.5,272.5 290.3,272.2 290.1,273.0 290.3,273.6" fill="#1000aa"/>
<polygon points="301.6,277.1 301.6,280.3 301.8,281.3 301.6,281.7 301.2,281.8 301.2,282.3 300.5,282.1 300.3,282.5 299.5,282.4 296.4,282.5 293.2,282.4 292.3,282.7 291.8,282.5 291.5,282.3 291.2,282.2 291.0,281.8 291.2,281.1 291.2,280.3 291.1,277.1 291.2,273.8 291.2,273.1 291.4,272.7 291.5,272.3 291.7,272.0 291.7,271.5 292.2,271.4 292.8,271.1 296.4,271.3 299.5,271.7 300.1,271.9 300.4,272.3 301.1,272.0 301.1,272.4 301.3,272.7 301.3,273.3 301.6,273.8" fill="#12f85e"/>
<polygon points="313.0,277.1 313.3,280.4 313.2,281.2 313.4,281.9 313.0,282.0 312.7,282.2 312.6,282.7 311.9,282.5 311.1,282.4 307.9,282.6 304.8,282.3 304.1,282.3 303.2,282.7 303.1,282.2 302.8,282.1 303.1,281.3 303.1,280.8 303.3,280.0 302.9,277.1 302.9,273.9 302.9,273.2 302.7,272.5 302.8,272.1 303.0,271.7 303.1,271.3 303.9,271.5 304.8,271.8 307.9,271.8 311.0,271.9 311.9,271.6 312.1,272.1 312.4,272.2 313.0,272.1 313.1,272.6 313.0,273.2 313.0,273.9" fill="#1000aa"/>
<polygon points="197.6,288.9 197.8,292.4 197.5,292.9 197.5,293.5 197.4,293.9 196.9,293.9 196.6,294.1 196.0,294.0 195.4,294.1 192.3,294.3 189.1,294.3 188.8,293.8 187.9,294.3 187.5,294.1 187.4,293.7 187.0,293.6 186.8,293.2 186.9,292.3 186.9,288.9 186.8,285.5 187.1,284.9 187.3,284.5 187.4,284.1 187.8,284.1 187.9,283.7 188.5,283.7 189.3,283.7 192.3,283.6 195.5,283.6 196.0,283.8 196.5,283.9 197.0,283.9 197.2,284.2 197.8,284.1 197.6,284.9 197.5,285.7" fill="#12f85e"/>
<polygon points="209.3,288.9 209.2,292.3 208.7,292.7 208.8,293.3 208.6,293.6 208.3,293.7 208.4,294.4 207.9,294.4 207.4,294.8 203.9,294.8 200.5,294.7 200.1,294.1 199.8,293.9 199.1,294.1 199.2,293.5 198.6,293.5 198.8,292.9 198.4,292.4 198.8,288.9 198.8,285.8 198.5,284.8 198.9,284.6 199.2,284.3 199.1,283.8 199.5,283.6 200.2,283.8 200.6,283.4 203.9,283.5 207.1,283.4 207.8,283.6 208.2,283.7 208.6,283.9 208.8,284.1 208.9,284.5 209.4,284.7 209.1,285.7" fill="#a80008"/>
<polygon points="220.5,288.9 220.2,291.9 220.6,292.9 220.7,293.5 220.4,293.8 220.4,294.3 220.2,294.7 219.5,294.5 218.8,294.6 215.4,294.3 212.3,294.2 211.6,294.2 211.3,293.9 210.5,294.3 210.6,293.7 209.9,293.8 210.2,293.0 210.0,292.3 210.2,288.9 210.5,285.9 210.3,285.0 210.3,284.4 210.8,284.3 210.9,284.1 211.0,283.6 211.6,283.7 212.5,284.0 215.4,283.7 218.8,283.2 219.3,283.6 219.9,283.5 220.4,283.6 220.9,283.6 220.8,284.2 220.5,285.1 220.5,285.8" fill="#12f85e"/>
<polygon points="232.6,288.9 232.2,292.2 232.1,292.8 232.0,293.3 231.8,293.7 231.7,294.0 231.5,294.3 231.0,294.4 230.1,294.2 227.0,294.3 223.9,294.1 223.2,294.2 223.0,293.8 222.4,293.9 222.5,293.3 221.7,293.6 222.0,292.8 221.7,292.2 221.9,288.9 221.7,285.6 221.9,285.0 221.7,284.3 221.8,283.8 222.0,283.5 222.3,283.3 223.0,283.5 223.7,283.4 227.0,283.6 230.1,283.7 230.8,283.7 231.4,283.6 231.2,284.3 231.9,284.2 231.8,284.7 232.2,284.9 232.1,285.7" fill="#a80008"/>
<polygon points="244.0,288.9 243.5,292.0 243.6,292.8 243.7,293.4 243.1,293.4 243.5,294.2 242.8,294.0 242.7,294.7 241.8,294.4 238.6,294.6 235.2,294.6 234.8,294.1 234.2,294.2 233.7,294.1 233.5,293.9 233.4,293.5 233.3,293.0 233.6,292.0 233.4,288.9 233.4,285.7 233.7,285.2 233.4,284.4 233.9,284.4 233.9,283.9 234.3,283.8 234.8,283.7 235.1,283.1 238.6,283.3 241.9,283.2 242.6,283.4 243.0,283.6 243.5,283.6 243.2,284.4 243.5,284.6 243.5,285.1 243.8,285.6" fill="#12f85e"/>
<polygon points="255.5,288.9 255.5,292.3 255.6,293.2 255.1,293.3 255.2,293.9 254.6,293.8 254.6,294.3 253.8,293.9 253.5,294.6 250.1,294.5 247.2,293.9 246.5,293.9 245.7,294.3 245.4,294.1 245.3,293.6 244.7,293.7 244.5,293.2 244.6,292.4 244.4,288.9 244.7,285.6 245.2,285.1 245.1,284.5 245.5,284.4 246.0,284.5 246.1,284.0 246.2,283.5 246.8,283.4 250.1,283.3 253.6,283.1 254.4,283.0 254.3,283.9 254.5,284.2 254.8,284.4 255.3,284.4 255.5,284.8 255.1,285.8" fill="#a80008"/>
<polygon points="267.6,288.9 267.2,292.4 267.3,293.3 266.9,293.5 266.1,293.3 266.3,293.9 265.7,293.7 265.7,294.4 264.8,294.2 261.7,294.8 258.3,294.6 257.6,294.5 257.4,294.0 257.1,293.9 256.7,293.8 256.7,293.3 256.2,293.2 256.3,292.3 256.0,288.9 256.6,285.7 256.4,284.8 256.7,284.6 256.8,284.1 257.3,284.2 257.4,283.8 257.6,283.3 258.4,283.4 261.7,283.2 265.2,283.0 265.7,283.4 265.9,283.8 265.8,284.5 266.4,284.3 266.5,284.7 266.7,285.1 267.1,285.6" fill="#12f85e"/>
<polygon points="278.5,288.9 279.0,292.5 278.4,292.9 278.6,293.6 278.3,293.9 278.0,294.1 277.6,294.2 277.2,294.4 276.2,293.9 273.2,294.3 270.3,293.9 269.8,293.6 269.4,293.6 268.8,293.8 268.5,293.6 268.1,293.5 268.1,292.9 267.8,292.3 267.6,288.9 267.9,285.6 267.8,284.7 267.8,284.1 268.2,284.0 268.8,284.1 268.9,283.7 269.6,284.0 270.3,283.9 273.2,283.9 276.4,283.6 276.9,283.9 277.4,283.9 277.6,284.2 278.3,284.0 278.0,284.8 278.4,284.9 278.6,285.6" fill="#a80008"/>
<polygon points="290.2,288.9 289.7,292.0 289.7,292.7 289.4,293.0 289.4,293.4 289.4,293.9 289.2,294.2 288.6,294.2 287.9,294.1 284.8,294.5 281.4,294.7 280.8,294.4 280.4,294.3 280.0,294.2 279.8,293.8 279.4,293.7 279.2,293.2 279.2,292.4 279.1,288.9 279.6,285.7 279.6,285.0 279.6,284.3 280.0,284.2 280.1,283.9 280.6,283.8 281.2,284.0 281.9,284.0 284.8,283.6 287.8,283.8 288.8,283.5 289.2,283.6 289.7,283.6 290.2,283.7 290.3,284.1 290.4,284.6 290.0,285.7" fill="#12f85e"/>
<polygon points="301.4,288.9 301.5,292.2 301.3,292.8 301.4,293.4 301.7,294.2 301.5,294.5 300.8,294.3 300.2,294.2 299.6,294.4 296.4,294.6 293.0,294.6 292.6,294.1 292.2,294.0 291.9,293.7 291.5,293.7 291.7,293.0 291.2,292.9 291.4,292.0 291.3,288.9 291.0,285.6 291.1,284.9 290.7,284.0 291.5,284.2 291.7,283.9 292.2,283.9 292.8,284.1 293.4,283.9 296.4,283.2 299.8,283.1 300.4,283.3 301.2,283.1 301.5,283.4 301.5,283.9 301.4,284.5 301.2,285.2 301.2,285.9" fill="#a80008"/>
<polygon points="313.0,288.9 313.3,292.3 312.9,292.8 312.9,293.3 312.9,293.8 312.8,294.3 312.1,294.0 312.0,294.6 311.3,294.6 307.9,294.9 304.6,294.5 303.8,294.6 303.3,294.5 303.1,294.1 303.1,293.6 303.0,293.3 302.9,292.8 302.8,292.2 302.8,288.9 302.4,285.4 302.0,284.4 302.2,283.9 303.1,284.2 303.4,284.1 303.9,284.1 304.1,283.7 305.0,284.1 307.9,283.5 311.0,283.6 311.9,283.4 312.8,283.0 312.7,283.8 313.1,283.9 312.9,284.6 313.2,284.9 312.7,285.9" fill="#12f85e"/>
<polygon points="198.0,300.8 197.7,304.2 197.8,305.0 197.5,305.3 196.8,305.2 197.0,305.8 196.5,305.8 196.0,305.8 195.7,306.4 192.3,306.4 189.1,306.3 188.4,306.1 187.7,306.4 187.7,305.8 187.5,305.5 187.5,305.0 187.5,304.5 187.1,304.1 187.4,300.8 187.0,297.4 187.4,297.0 187.1,296.2 187.2,295.8 187.5,295.5 187.8,295.3 188.5,295.5 188.9,295.0 192.3,295.0 195.5,295.3 196.0,295.7 196.4,295.9 196.8,296.0 197.5,295.8 197.3,296.4 197.4,296.8 197.7,297.4" fill="#1000aa"/>
<polygon points="209.2,300.8 209.2,304.1 209.0,304.7 209.5,305.7 209.2,306.0 208.5,305.8 208.6,306.5 207.8,306.2 206.9,305.8 203.9,306.2 200.8,306.1 200.0,306.2 199.7,305.8 199.2,305.8 198.7,305.9 199.1,305.0 199.0,304.6 199.1,303.8 198.7,300.8 198.9,297.7 198.4,296.6 198.6,296.2 198.5,295.5 198.7,295.2 199.2,295.1 200.2,295.7 200.8,295.7 203.9,295.4 206.9,295.7 207.9,295.2 208.2,295.6 208.8,295.5 208.8,296.0 209.1,296.2 208.8,297.0 208.9,297.7" fill="#12f85e"/>
<polygon points="220.9,300.8 221.0,304.3 221.0,305.0 220.4,305.1 220.3,305.5 219.7,305.4 219.6,305.8 219.4,306.2 218.6,306.1 215.4,306.6 212.2,306.2 211.5,306.2 211.0,306.1 211.0,305.6 210.6,305.5 210.6,305.1 210.6,304.5 210.4,304.0 209.9,300.8 209.8,297.2 210.0,296.6 210.2,296.1 210.6,296.0 210.8,295.8 211.1,295.6 211.6,295.5 212.2,295.3 215.4,295.3 218.7,295.2 219.3,295.4 219.7,295.7 220.0,295.9 220.1,296.3 220.3,296.5 220.7,296.8 220.5,297.6" fill="#1000aa"/>
<polygon points="232.0,300.8 232.0,303.9 231.9,304.6 231.9,305.1 232.2,305.9 232.0,306.2 231.7,306.4 230.8,306.0 230.1,306.1 227.0,306.6 223.8,306.2 223.2,306.0 222.6,306.0 222.4,305.7 222.3,305.4 222.3,305.0 222.1,304.5 221.7,304.1 221.5,300.8 222.0,297.7 222.0,296.9 221.9,296.3 222.2,296.1 222.3,295.7 222.6,295.5 223.1,295.5 223.8,295.5 227.0,295.3 230.4,295.0 230.8,295.6 231.4,295.6 231.8,295.6 231.8,296.1 231.8,296.6 232.3,296.7 232.3,297.5" fill="#12f85e"/>
<polygon points="244.1,300.8 243.9,304.2 244.0,305.0 243.4,305.1 243.1,305.3 243.0,305.6 242.8,305.9 242.3,306.0 242.0,306.6 238.6,306.4 235.2,306.4 234.7,306.1 234.2,306.0 234.1,305.6 233.4,305.8 233.6,305.2 233.5,304.7 233.3,304.1 233.2,300.8 233.2,297.4 233.5,296.9 233.5,296.3 233.3,295.6 233.6,295.4 234.0,295.3 234.4,295.1 235.3,295.3 238.6,295.5 241.7,295.5 242.1,296.0 242.6,295.9 242.8,296.2 243.1,296.3 243.9,296.1 244.2,296.5 244.3,297.2" fill="#1000aa"/>
<polygon points="255.5,300.8 255.1,303.9 254.9,304.4 255.2,305.2 254.5,305.1 254.5,305.5 254.3,305.8 254.1,306.2 253.4,306.3 250.1,306.5 246.7,306.6 246.2,306.2 245.7,306.1 245.4,305.9 245.0,305.8 245.0,305.3 244.5,305.1 244.9,304.1 245.2,300.8 245.6,298.0 245.2,297.0 245.6,296.8 245.3,296.0 245.6,295.9 245.7,295.5 246.1,295.3 246.7,295.0 250.1,295.2 253.4,295.2 254.1,295.3 254.2,295.8 254.5,296.0 255.1,296.0 255.3,296.3 255.5,296.7 255.5,297.5" fill="#12f85e"/>
<polygon points="267.1,300.8 267.0,304.1 267.4,305.2 267.1,305.6 266.9,305.8 266.4,305.9 265.9,305.9 265.6,306.2 264.6,305.7 261.7,306.0 258.8,305.6 257.9,306.0 257.4,305.9 257.0,305.9 256.6,305.7 256.4,305.4 256.3,304.9 256.5,304.0 256.3,300.8 256.8,297.7 256.3,296.7 256.6,296.3 256.4,295.6 256.8,295.5 257.3,295.5 257.5,295.1 258.4,295.3 261.7,295.4 264.7,295.6 265.5,295.6 266.1,295.5 266.4,295.7 266.8,295.8 266.6,296.4 266.8,296.9 267.2,297.3" fill="#1000aa"/>
<polygon points="278.1,300.8 278.2,303.9 278.3,304.7 278.4,305.3 278.3,305.8 278.2,306.1 277.6,306.0 277.2,306.2 276.5,306.3 273.2,305.9 270.1,306.0 269.3,306.2 269.0,305.9 268.4,306.0 268.1,305.8 268.0,305.4 268.1,304.7 268.1,304.0 267.8,300.8 267.8,297.4 268.3,297.0 268.6,296.7 268.4,296.1 268.7,295.9 268.9,295.6 269.4,295.6 269.9,295.1 273.2,295.0 276.7,294.9 277.5,294.9 277.5,295.7 278.1,295.6 277.9,296.2 278.0,296.6 278.1,297.1 278.4,297.5" fill="#12f85e"/>
<polygon points="290.0,300.8 290.0,304.1 289.7,304.5 289.6,305.0 289.9,305.8 289.5,305.8 289.4,306.3 288.7,306.1 288.2,306.5 284.8,306.3 281.6,306.1 281.1,305.9 280.6,305.8 279.9,306.0 279.8,305.7 279.8,305.2 279.8,304.7 279.4,304.2 279.2,300.8 279.7,297.6 279.3,296.6 279.7,296.3 280.1,296.2 280.3,296.0 280.4,295.5 280.7,295.2 281.7,295.6 284.8,295.5 287.9,295.6 288.6,295.6 289.0,295.7 289.4,295.8 289.6,296.1 290.0,296.2 289.9,296.9 290.0,297.6" fill="#1000aa"/>
<polygon points="301.4,300.8 301.8,304.2 302.0,305.1 301.6,305.4 301.1,305.5 300.9,305.7 300.5,305.8 300.0,305.8 299.4,305.8 296.4,306.1 293.2,306.1 292.5,306.1 292.0,306.0 291.9,305.6 291.5,305.6 291.6,305.0 291.3,304.7 291.0,304.1 291.0,300.8 290.8,297.3 290.8,296.5 291.2,296.3 291.6,296.2 292.1,296.1 292.1,295.6 292.7,295.7 293.3,295.6 296.4,295.6 299.5,295.4 300.6,295.0 300.8,295.4 301.2,295.5 301.4,295.9 301.1,296.6 301.3,297.0 301.8,297.4" fill="#12f85e"/>
<polygon points="313.4,300.8 313.6,304.3 313.5,305.1 313.1,305.3 312.7,305.5 312.3,305.6 312.4,306.1 311.7,305.9 311.1,306.2 307.9,306.4 304.8,306.0 303.7,306.5 303.6,306.0 303.4,305.7 303.2,305.4 302.7,305.4 302.6,304.9 302.8,304.0 302.5,300.8 302.1,297.2 302.1,296.3 302.2,295.8 302.9,295.8 303.4,295.9 303.8,295.8 304.1,295.6 304.9,295.8 307.9,295.4 311.0,295.7 311.9,295.3 312.7,295.1 312.8,295.5 313.1,295.7 313.2,296.2 313.0,296.9 313.2,297.5" fill="#1000aa"/>
<polygon points="197.4,312.7 197.3,315.8 197.0,316.2 197.1,316.8 196.7,316.9 196.9,317.6 196.7,317.9 196.6,318.6 195.9,318.7 192.3,318.2 189.1,318.1 188.5,317.9 187.9,318.0 187.5,317.9 187.5,317.4 187.5,316.9 187.1,316.6 187.2,315.9 187.4,312.7 187.6,309.7 187.5,309.0 187.5,308.5 187.2,307.6 187.5,307.4 187.6,306.9 188.2,306.9 189.1,307.2 192.3,307.4 195.5,307.3 196.2,307.3 196.8,307.3 196.9,307.7 197.4,307.7 197.6,308.0 197.7,308.5 197.7,309.3" fill="#12f85e"/>
<polygon points="208.9,312.7 209.1,315.9 209.1,316.6 208.8,317.0 208.7,317.4 208.9,318.1 208.4,318.1 207.9,318.1 207.0,317.9 203.9,317.9 200.6,318.1 200.3,317.6 199.5,317.9 198.9,318.0 198.8,317.6 199.0,317.0 198.9,316.5 198.4,316.1 198.8,312.7 198.7,309.4 198.7,308.7 198.8,308.2 199.2,308.1 199.2,307.5 199.3,307.2 200.0,307.3 200.7,307.2 203.9,307.0 207.3,306.9 207.9,307.1 208.5,307.1 208.7,307.4 209.0,307.6 208.8,308.4 209.1,308.6 208.9,309.5" fill="#a80008"/>
<polygon points="221.1,312.7 221.1,316.2 220.8,316.8 221.0,317.5 220.2,317.3 219.8,317.4 219.4,317.4 219.1,317.6 218.4,317.7 215.4,318.2 212.2,318.1 211.2,318.4 210.9,318.1 210.7,317.7 210.7,317.3 210.8,316.7 210.6,316.4 210.1,316.0 209.9,312.7 209.8,309.1 210.2,308.6 210.0,307.9 210.1,307.4 210.9,307.7 211.4,307.8 211.8,307.7 212.5,307.7 215.4,307.2 218.7,307.1 219.6,306.9 219.6,307.6 220.3,307.4 220.5,307.7 220.2,308.5 220.2,309.0 220.9,309.2" fill="#12f85e"/>
<polygon points="232.0,312.7 232.0,315.8 232.2,316.7 232.1,317.1 232.1,317.6 231.4,317.4 231.3,317.8 230.8,317.8 230.3,318.3 227.0,318.1 223.7,318.2 222.8,318.5 222.5,318.0 222.3,317.7 222.2,317.4 222.3,316.8 221.8,316.6 221.5,316.1 222.0,312.7 221.6,309.3 222.0,308.8 222.2,308.4 222.1,307.8 222.2,307.4 222.8,307.6 223.1,307.3 223.6,306.9 227.0,307.1 230.4,306.9 231.3,306.8 231.1,307.7 231.5,307.8 231.5,308.2 231.6,308.6 232.1,308.8 232.4,309.2" fill="#a80008"/>
<polygon points="243.5,312.7 243.8,315.9 243.4,316.4 243.5,317.0 243.0,317.0 243.2,317.7 242.7,317.6 242.3,317.8 241.7,317.9 238.6,318.1 235.3,318.1 234.5,318.2 233.9,318.3 233.9,317.7 233.5,317.6 233.5,317.1 233.4,316.6 233.4,315.9 233.5,312.7 233.4,309.4 233.1,308.5 233.2,307.9 233.5,307.7 234.0,307.7 234.5,307.7 235.1,307.9 235.7,307.8 238.6,307.3 241.7,307.4 242.4,307.3 243.2,307.1 243.7,307.1 243.9,307.4 244.1,307.8 244.1,308.4 244.2,309.1" fill="#12f85e"/>
<polygon points="255.6,312.7 255.2,315.9 255.3,316.7 255.1,317.0 254.6,317.0 254.4,317.3 254.3,317.7 253.9,317.9 253.3,318.0 250.1,317.9 246.9,318.1 246.1,318.1 245.8,317.8 245.3,317.9 245.4,317.3 245.1,317.1 245.0,316.6 245.4,315.6 245.1,312.7 245.0,309.4 244.8,308.5 244.9,308.0 244.8,307.5 245.1,307.2 245.6,307.3 245.9,306.8 246.7,306.9 250.1,307.2 253.4,307.1 253.6,307.9 254.4,307.5 254.5,307.9 254.9,307.9 255.4,308.0 255.3,308.7 255.6,309.2" fill="#a80008"/>
<polygon points="267.3,312.7 267.1,316.0 267.3,317.0 266.8,317.2 266.7,317.6 266.3,317.6 266.1,317.9 265.6,318.1 264.8,318.0 261.7,318.0 258.6,317.9 257.6,318.2 257.6,317.6 257.2,317.5 256.6,317.6 256.3,317.4 256.2,316.8 256.6,315.8 256.1,312.7 256.5,309.4 256.5,308.6 256.5,308.1 256.7,307.8 256.8,307.3 257.1,307.1 257.8,307.3 258.3,306.9 261.7,307.2 265.0,307.0 265.4,307.5 266.1,307.4 266.1,307.8 266.7,307.7 266.7,308.2 266.7,308.8 267.2,309.2" fill="#12f85e"/>
<polygon points="278.7,312.7 278.1,315.7 278.5,316.7 278.4,317.1 278.0,317.3 278.3,318.1 277.8,318.1 277.3,318.2 276.4,318.0 273.2,317.8 270.2,317.9 269.7,317.6 269.2,317.6 268.7,317.6 268.4,317.4 268.0,317.3 268.2,316.5 268.1,315.9 267.8,312.7 267.8,309.2 268.1,308.7 268.3,308.3 268.6,308.1 268.7,307.8 269.0,307.6 269.3,307.2 270.2,307.5 273.2,307.3 276.6,307.0 277.1,307.4 277.4,307.6 278.3,307.2 278.5,307.5 278.2,308.3 278.3,308.8 278.4,309.4" fill="#a80008"/>
<polygon points="290.3,312.7 290.0,315.9 290.4,317.0 290.0,317.3 290.3,318.0 289.8,318.1 289.1,317.8 288.6,317.9 287.7,317.6 284.8,317.5 281.7,317.8 281.2,317.6 280.5,317.8 279.9,318.0 279.8,317.5 279.9,317.0 279.8,316.5 279.4,316.0 279.4,312.7 279.0,309.0 279.5,308.5 279.4,307.9 279.7,307.7 280.2,307.7 280.8,307.8 281.2,307.8 281.8,307.6 284.8,307.7 287.9,307.5 288.8,307.2 289.5,307.0 289.6,307.4 289.7,307.8 289.6,308.5 289.9,308.7 289.8,309.5" fill="#12f85e"/>
<polygon points="301.4,312.7 301.2,315.7 301.4,316.5 301.4,317.0 301.3,317.4 301.0,317.6 300.8,317.9 300.5,318.3 299.6,318.1 296.4,318.1 293.3,317.8 292.5,318.0 292.1,317.8 292.0,317.3 291.4,317.5 291.1,317.2 290.9,316.8 290.9,316.1 291.0,312.7 291.1,309.4 291.2,308.7 290.9,307.9 291.2,307.6 291.5,307.4 292.0,307.4 292.4,307.2 293.2,307.3 296.4,307.4 299.2,307.9 299.9,307.8 300.6,307.5 300.9,307.8 301.7,307.4 302.0,307.7 301.9,308.4 301.6,309.3" fill="#a80008"/>
<polygon points="313.4,312.7 313.1,315.9 312.8,316.4 312.9,317.0 312.6,317.2 312.6,317.7 312.2,317.8 311.8,318.0 311.3,318.4 307.9,318.2 304.5,318.5 304.2,317.7 303.5,317.9 303.5,317.4 303.2,317.2 302.7,317.3 302.5,316.8 302.0,316.4 302.3,312.7 302.8,309.5 303.0,308.9 303.5,308.7 303.5,308.3 303.6,308.0 303.9,307.8 303.9,307.2 304.6,307.1 307.9,306.7 311.4,306.8 311.9,307.2 312.5,307.1 312.4,307.8 312.7,307.9 312.8,308.3 313.5,308.3 313.3,309.3" fill="#12f85e"/>
<polygon points="197.7,324.5 197.6,327.8 197.9,328.8 197.7,329.2 197.3,329.4 196.9,329.4 196.5,329.6 196.1,329.7 195.7,330.2 192.3,330.3 189.0,330.1 188.2,330.1 188.1,329.5 187.9,329.3 187.6,329.1 187.8,328.5 187.5,328.3 187.5,327.5 186.9,324.5 187.2,321.3 186.7,320.2 186.9,319.7 187.1,319.4 187.8,319.6 187.9,319.1 188.5,319.3 188.8,318.6 192.3,318.6 195.6,319.1 196.2,319.1 196.5,319.5 196.8,319.7 197.2,319.7 197.2,320.2 197.0,320.9 197.5,321.2" fill="#1000aa"/>
<polygon points="209.5,324.5 209.1,327.8 208.8,328.3 208.4,328.5 208.5,329.0 208.7,329.7 208.4,329.9 208.1,330.3 207.3,330.3 203.9,330.2 200.8,329.8 200.2,329.6 199.9,329.3 199.7,329.0 199.5,328.8 198.8,329.0 198.4,328.7 198.4,328.0 198.2,324.5 198.6,321.2 198.3,320.2 198.8,320.0 198.7,319.5 199.3,319.6 199.6,319.4 200.0,319.2 200.8,319.3 203.9,319.3 207.1,319.1 207.8,319.2 208.4,319.1 208.6,319.4 208.8,319.6 209.2,319.8 209.4,320.2 209.4,321.0" fill="#12f85e"/>
<polygon points="220.5,324.5 220.6,327.7 220.3,328.2 220.5,328.9 220.2,329.1 220.1,329.5 220.1,330.1 219.7,330.3 218.6,329.9 215.4,330.2 212.2,330.0 211.8,329.6 211.3,329.5 210.9,329.4 210.8,329.1 210.5,328.8 210.7,328.2 210.2,327.8 210.1,324.5 210.3,321.3 210.0,320.4 209.9,319.7 210.1,319.3 210.6,319.3 211.0,319.2 211.4,319.0 212.3,319.1 215.4,319.0 218.6,319.2 219.3,319.1 219.9,319.1 220.2,319.4 220.4,319.6 220.4,320.1 220.5,320.6 220.7,321.2" fill="#1000aa"/>
<polygon points="232.4,324.5 232.4,327.9 232.0,328.3 231.8,328.7 231.6,329.0 231.4,329.2 231.0,329.4 230.9,329.9 230.4,330.2 227.0,330.3 223.5,330.4 223.0,330.0 222.7,329.7 222.6,329.3 222.0,329.4 222.2,328.8 221.5,328.8 221.6,327.9 221.6,324.5 221.6,321.1 221.8,320.5 221.7,319.9 222.4,320.0 222.6,319.8 222.6,319.2 223.2,319.2 223.8,319.2 227.0,318.8 230.1,319.2 230.6,319.5 231.1,319.6 231.4,319.7 231.8,319.8 232.1,320.0 232.9,319.9 232.8,320.9" fill="#12f85e"/>
<polygon points="244.1,324.5 244.4,328.2 244.0,328.7 243.8,329.1 243.2,329.0 243.1,329.4 242.4,329.2 242.3,329.6 241.4,329.3 238.6,330.0 235.4,329.8 234.4,330.2 233.9,330.1 233.4,330.1 233.5,329.5 233.5,329.0 233.5,328.4 233.4,327.7 233.4,324.5 233.2,321.2 233.2,320.4 233.1,319.7 234.0,320.0 234.1,319.7 234.5,319.7 235.1,319.8 235.5,319.3 238.6,319.5 241.9,318.9 242.4,319.2 243.3,318.8 243.3,319.4 243.3,319.8 243.5,320.2 243.6,320.6 243.7,321.3" fill="#1000aa"/>
<polygon points="255.2,324.5 255.8,328.1 255.4,328.6 255.2,329.0 255.0,329.3 255.0,329.8 254.7,330.0 253.9,329.6 253.3,329.8 250.1,329.6 247.2,329.5 246.4,329.6 245.9,329.6 245.5,329.5 244.9,329.7 245.0,329.0 244.7,328.7 244.4,328.1 245.0,324.5 244.5,321.0 245.0,320.5 245.1,320.1 245.6,320.1 245.8,319.8 245.7,319.2 246.0,318.9 247.1,319.3 250.1,318.7 253.3,319.2 253.9,319.4 254.5,319.2 254.5,319.8 255.1,319.6 255.3,319.9 255.1,320.7 255.2,321.3" fill="#12f85e"/>
<polygon points="266.7,324.5 266.7,327.6 266.9,328.5 266.6,328.8 266.7,329.4 266.4,329.6 266.0,329.7 265.5,329.7 264.9,330.0 261.7,329.9 258.4,330.1 257.6,330.1 257.2,329.9 256.9,329.7 256.5,329.6 256.2,329.3 256.3,328.7 256.1,328.0 256.5,324.5 256.6,321.4 256.7,320.6 256.7,320.1 256.8,319.7 257.1,319.6 257.3,319.3 257.8,319.2 258.6,319.3 261.7,319.3 265.0,318.9 265.7,319.0 266.4,318.8 266.8,319.0 266.7,319.6 267.0,319.8 267.0,320.4 266.9,321.2" fill="#1000aa"/>
<polygon points="278.7,324.5 278.6,327.9 278.5,328.5 278.3,328.9 278.4,329.5 278.2,329.9 277.4,329.5 277.2,329.9 276.5,329.9 273.2,329.4 270.2,329.7 269.4,329.7 268.9,329.7 268.6,329.5 268.1,329.5 267.5,329.6 267.5,329.0 267.4,328.2 267.8,324.5 268.0,321.3 268.5,320.9 268.5,320.3 268.6,320.0 268.6,319.5 269.3,319.8 269.3,319.1 270.2,319.3 273.2,318.6 276.5,319.0 277.4,318.8 277.8,319.0 277.8,319.5 278.1,319.7 278.2,320.2 278.1,320.8 278.3,321.3" fill="#12f85e"/>
<polygon points="289.8,324.5 290.3,327.9 290.3,328.7 289.9,329.0 289.9,329.5 289.4,329.5 289.3,330.0 288.5,329.6 288.1,330.1 284.8,329.6 281.5,330.1 281.1,329.6 280.5,329.6 280.2,329.5 279.8,329.4 279.7,329.0 280.0,328.2 279.4,327.9 279.4,324.5 279.5,321.2 279.3,320.3 279.2,319.6 280.0,319.8 280.0,319.3 280.5,319.4 280.9,319.1 281.7,319.3 284.8,319.3 288.1,318.9 288.6,319.3 289.3,319.1 289.4,319.6 289.4,320.0 289.5,320.4 290.0,320.5 289.7,321.4" fill="#1000aa"/>
<polygon points="301.8,324.5 302.1,328.1 301.7,328.6 302.0,329.5 301.4,329.5 301.2,329.7 300.4,329.4 300.3,329.9 299.5,329.8 296.4,329.8 293.2,329.8 292.1,330.3 291.8,330.0 291.2,330.1 291.1,329.7 291.1,329.1 291.1,328.5 291.5,327.6 291.1,324.5 291.1,321.2 291.4,320.7 291.5,320.2 291.6,319.9 291.8,319.5 291.8,319.0 292.3,318.9 293.0,318.9 296.4,319.1 299.8,318.7 300.1,319.3 300.6,319.5 300.9,319.6 301.0,320.0 301.4,320.1 301.6,320.5 301.7,321.2" fill="#12f85e"/>
<polygon points="313.5,324.5 313.4,327.9 313.2,328.6 312.6,328.6 312.5,329.0 312.6,329.6 312.4,329.9 311.9,329.9 311.3,330.3 307.9,329.9 304.8,329.7 304.1,329.8 303.8,329.5 303.4,329.4 302.9,329.4 302.9,328.9 302.5,328.7 302.4,328.0 302.7,324.5 302.4,321.1 302.3,320.2 302.6,319.9 302.8,319.5 303.3,319.5 303.5,319.2 304.4,319.7 304.9,319.4 307.9,319.5 311.1,319.1 311.7,319.4 312.4,319.1 312.8,319.2 312.7,319.8 313.3,319.8 313.3,320.4 313.2,321.2" fill="#1000aa"/>
<polygon points="197.7,336.4 197.7,339.7 197.6,340.4 197.5,340.9 197.2,341.2 196.9,341.4 196.7,341.6 196.3,341.8 195.8,342.2 192.3,342.3 189.0,342.0 188.4,341.7 187.8,341.8 187.6,341.5 187.2,341.4 187.0,341.1 187.1,340.4 187.4,339.5 187.1,336.4 187.4,333.3 187.3,332.5 187.2,331.9 187.4,331.6 187.8,331.4 188.2,331.4 188.2,330.7 188.9,330.6 192.3,330.8 195.5,331.0 196.5,330.7 196.8,331.0 197.1,331.2 197.2,331.6 197.3,332.0 197.3,332.6 197.6,333.1" fill="#12f85e"/>
<polygon points="209.1,336.4 209.1,339.7 209.0,340.3 209.0,340.9 208.6,341.0 208.6,341.5 208.2,341.6 207.6,341.5 206.9,341.5 203.9,341.9 200.5,342.1 199.7,342.1 199.2,342.0 198.9,341.8 198.8,341.4 198.8,340.8 198.8,340.3 198.4,339.8 198.8,336.4 198.7,333.1 198.7,332.4 199.1,332.2 199.2,331.8 199.4,331.5 199.4,331.0 199.9,330.9 200.9,331.3 203.9,331.2 207.3,330.7 207.7,331.2 208.5,330.8 208.8,331.1 209.2,331.2 209.3,331.6 208.9,332.5 209.3,333.0" fill="#a80008"/>
<polygon points="220.7,336.4 220.8,339.7 220.5,340.3 220.9,341.2 220.5,341.3 219.9,341.2 219.7,341.5 219.1,341.3 218.5,341.6 215.4,341.9 212.1,342.0 211.6,341.7 211.0,341.7 210.3,341.9 210.3,341.4 210.5,340.7 210.3,340.4 210.5,339.5 210.6,336.4 210.2,333.1 210.5,332.6 210.6,332.1 210.4,331.5 210.5,331.1 211.3,331.4 211.4,330.9 212.3,331.1 215.4,331.1 218.6,331.0 219.3,331.1 220.0,330.8 220.4,331.0 220.0,332.0 220.1,332.3 220.1,332.8 220.4,333.2" fill="#12f85e"/>
<polygon points="232.5,336.4 232.2,339.6 232.2,340.3 232.5,341.2 231.8,341.0 231.6,341.3 231.3,341.5 231.0,341.8 230.1,341.6 227.0,341.4 223.7,341.9 222.9,341.9 222.5,341.8 222.2,341.6 221.7,341.5 222.1,340.7 221.8,340.4 221.8,339.6 221.6,336.4 221.7,333.1 222.1,332.6 222.0,332.0 222.0,331.5 222.3,331.3 222.8,331.3 222.8,330.6 223.8,330.9 227.0,331.2 230.0,331.2 230.6,331.4 231.5,331.0 231.4,331.7 231.9,331.6 232.3,331.7 232.4,332.2 232.4,333.0" fill="#a80008"/>
<polygon points="243.8,336.4 244.0,339.8 243.8,340.4 243.6,340.8 243.7,341.4 243.1,341.3 242.7,341.4 242.2,341.4 241.7,341.7 238.6,341.7 235.4,341.7 234.7,341.7 234.4,341.4 234.0,341.3 233.5,341.3 233.5,340.8 233.4,340.4 233.0,339.8 233.3,336.4 233.1,332.9 233.5,332.5 233.4,331.8 233.8,331.7 234.0,331.5 234.4,331.4 234.8,331.3 235.6,331.4 238.6,330.8 241.6,331.2 242.4,331.1 242.8,331.3 243.3,331.2 243.8,331.3 243.8,331.8 244.0,332.2 243.8,333.1" fill="#12f85e"/>
<polygon points="255.5,336.4 255.0,339.4 255.0,340.1 255.2,340.8 255.1,341.2 254.7,341.4 254.5,341.7 254.0,341.7 253.4,341.9 250.1,341.6 246.9,341.9 245.9,342.2 245.6,341.8 245.4,341.5 245.1,341.3 244.8,341.1 245.0,340.3 245.0,339.5 244.8,336.4 244.8,333.0 245.2,332.5 245.0,331.8 245.3,331.7 245.5,331.4 245.6,331.0 246.3,331.1 246.8,330.7 250.1,330.9 253.5,330.6 253.9,331.1 254.5,331.1 254.7,331.5 255.3,331.3 255.5,331.6 255.3,332.4 255.3,333.1" fill="#a80008"/>
<polygon points="267.3,336.4 267.3,339.9 267.0,340.5 266.6,340.7 266.0,340.6 266.1,341.2 266.1,341.7 265.6,341.8 265.0,342.1 261.7,342.3 258.4,341.9 257.8,341.7 257.3,341.7 256.9,341.5 257.3,340.7 256.7,340.7 256.6,340.3 256.7,339.5 256.6,336.4 256.5,333.1 256.3,332.2 256.8,332.1 256.8,331.6 256.8,331.1 257.1,330.8 257.4,330.5 258.3,330.6 261.7,331.1 264.8,331.0 265.4,331.2 265.8,331.5 266.1,331.5 266.4,331.7 266.7,331.9 267.3,332.0 267.6,332.7" fill="#12f85e"/>
<polygon points="278.4,336.4 278.1,339.4 278.5,340.4 278.6,341.1 278.1,341.1 277.9,341.4 277.8,341.9 277.1,341.7 276.5,341.8 273.2,342.0 269.8,342.2 269.2,341.9 268.6,342.0 268.4,341.6 268.5,341.0 268.3,340.7 268.4,340.1 268.4,339.4 267.9,336.4 268.1,333.1 267.9,332.3 267.7,331.5 268.0,331.2 268.8,331.6 269.3,331.6 269.7,331.5 270.2,331.3 273.2,331.2 276.7,330.6 277.2,330.9 277.9,330.7 278.1,331.2 278.4,331.4 278.0,332.2 278.2,332.5 278.4,333.1" fill="#a80008"/>
<polygon points="290.6,336.4 290.2,339.8 290.4,340.6 290.3,341.2 289.9,341.4 289.3,341.2 288.9,341.3 288.5,341.4 288.1,342.0 284.8,342.0 281.7,341.7 281.1,341.4 280.4,341.7 280.3,341.2 279.8,341.3 279.6,340.9 279.6,340.4 279.5,339.7 279.4,336.4 279.3,332.9 279.6,332.4 279.4,331.6 279.9,331.6 279.8,330.9 280.2,330.9 280.5,330.5 281.4,330.6 284.8,330.9 288.1,330.9 288.6,331.2 288.9,331.4 288.8,332.0 289.2,332.1 289.4,332.3 290.0,332.4 290.4,332.9" fill="#12f85e"/>
<polygon points="301.6,336.4 301.3,339.5 301.5,340.3 301.3,340.7 301.2,341.1 301.0,341.4 300.8,341.7 300.4,341.9 299.4,341.6 296.4,342.0 293.4,341.3 292.5,341.7 292.1,341.4 291.4,341.7 291.4,341.2 291.4,340.7 290.9,340.6 291.1,339.6 290.9,336.4 291.1,333.1 291.3,332.5 291.2,331.9 291.3,331.5 291.7,331.4 292.1,331.3 292.4,330.9 293.1,330.9 296.4,331.3 299.4,331.2 300.2,331.1 300.6,331.3 301.2,331.1 301.4,331.4 301.5,331.9 301.8,332.2 301.7,333.0" fill="#a80008"/>
<polygon points="313.0,336.4 313.0,339.6 312.9,340.2 312.8,340.7 312.8,341.1 312.7,341.6 312.6,342.0 312.1,342.1 311.1,341.7 307.9,342.1 304.6,341.9 304.2,341.5 304.0,341.0 303.4,341.3 303.6,340.6 303.3,340.4 303.0,340.1 302.5,339.8 302.1,336.4 302.0,332.7 302.0,331.8 302.2,331.4 302.8,331.3 303.4,331.5 303.8,331.4 304.4,331.5 305.0,331.5 307.9,331.4 311.0,331.3 311.6,331.4 312.2,331.2 312.9,331.0 312.8,331.6 313.1,331.8 313.4,332.2 312.8,333.3" fill="#12f85e"/>
<polygon points="197.6,348.2 197.3,351.3 197.2,352.0 196.9,352.3 196.8,352.6 197.1,353.3 196.9,353.7 196.3,353.7 195.6,353.8 192.3,354.2 188.9,353.9 188.3,353.8 187.7,353.8 187.7,353.3 187.8,352.6 187.4,352.5 187.3,352.1 187.3,351.4 186.9,348.2 187.1,345.0 187.0,344.1 187.4,343.9 187.5,343.5 187.7,343.3 188.0,343.0 188.4,342.9 189.3,343.1 192.3,342.6 195.4,343.0 196.2,342.9 196.9,342.7 196.9,343.3 197.3,343.4 197.7,343.5 197.6,344.1 197.4,345.1" fill="#1000aa"/>
<polygon points="209.1,348.2 208.9,351.4 209.3,352.4 209.2,352.9 209.2,353.4 209.0,353.7 208.4,353.7 207.8,353.7 207.0,353.4 203.9,353.4 200.8,353.5 199.9,353.7 199.5,353.5 199.3,353.2 198.7,353.3 198.8,352.7 198.4,352.4 198.5,351.6 198.4,348.2 198.6,344.9 198.2,343.9 198.7,343.6 198.8,343.2 199.3,343.3 199.6,343.1 200.3,343.3 200.8,343.1 203.9,343.0 207.2,342.6 207.7,342.9 208.3,343.0 208.8,342.9 208.9,343.3 209.2,343.6 208.6,344.6 208.9,345.1" fill="#12f85e"/>
<polygon points="220.3,348.2 220.4,351.3 220.8,352.3 220.3,352.5 220.3,353.0 220.3,353.5 220.1,353.8 219.6,353.9 218.7,353.7 215.4,353.7 212.4,353.4 211.4,353.7 211.2,353.3 211.0,353.0 210.8,352.7 210.5,352.6 210.5,352.0 210.3,351.4 210.4,348.2 210.4,345.0 210.2,344.2 210.5,343.9 210.8,343.7 210.6,343.0 211.3,343.3 211.5,342.9 212.3,342.8 215.4,342.9 218.7,342.8 219.4,342.8 220.0,342.8 220.0,343.3 220.2,343.5 220.7,343.6 220.5,344.3 220.5,345.1" fill="#1000aa"/>
<polygon points="232.1,348.2 231.9,351.3 232.1,352.2 232.1,352.7 232.0,353.1 232.1,353.7 231.7,353.9 230.8,353.5 230.3,353.8 227.0,353.4 223.9,353.5 223.4,353.2 222.6,353.6 222.4,353.2 222.1,353.0 221.7,352.9 221.7,352.3 221.6,351.6 221.3,348.2 221.5,344.8 221.5,344.0 221.9,343.8 222.3,343.7 222.7,343.5 222.6,343.0 223.3,343.1 224.1,343.3 227.0,343.0 230.3,342.6 231.1,342.6 231.8,342.4 232.1,342.7 231.7,343.6 232.2,343.7 232.3,344.1 232.2,345.0" fill="#12f85e"/>
<polygon points="244.0,348.2 243.6,351.4 243.8,352.3 243.6,352.7 243.8,353.3 243.3,353.3 243.1,353.7 242.8,354.0 242.0,354.0 238.6,353.9 235.5,353.4 234.8,353.3 234.3,353.3 233.8,353.3 234.0,352.7 233.5,352.7 233.8,351.9 233.8,351.2 233.7,348.2 233.5,345.0 233.2,344.1 233.0,343.3 233.4,343.2 233.6,342.9 233.6,342.3 234.4,342.5 235.2,342.5 238.6,342.9 241.4,343.5 242.1,343.4 242.5,343.5 243.1,343.3 243.4,343.5 244.0,343.4 244.2,343.9 243.7,345.0" fill="#1000aa"/>
<polygon points="255.4,348.2 255.6,351.7 255.7,352.5 255.4,352.8 255.3,353.3 254.9,353.3 254.6,353.6 254.3,354.0 253.3,353.6 250.1,353.7 247.1,353.3 246.4,353.3 246.3,352.9 246.0,352.7 245.2,353.0 245.1,352.7 244.8,352.3 244.6,351.7 244.6,348.2 244.6,344.8 244.9,344.2 245.3,344.0 245.4,343.6 245.4,343.1 245.8,343.0 246.0,342.6 246.6,342.3 250.1,342.1 253.5,342.6 253.8,343.2 254.4,343.0 254.5,343.4 254.4,344.0 254.8,344.2 254.8,344.6 255.5,344.9" fill="#12f85e"/>
<polygon points="266.7,348.2 267.1,351.6 266.7,352.1 267.0,352.9 267.0,353.4 266.3,353.3 266.1,353.5 265.6,353.6 264.6,353.2 261.7,353.1 258.7,353.3 258.2,353.0 257.7,353.0 257.3,353.0 256.5,353.3 256.2,353.1 256.5,352.2 256.1,351.7 256.2,348.2 256.5,345.0 256.5,344.2 256.4,343.6 257.0,343.7 256.8,343.0 257.6,343.3 258.0,343.2 258.4,342.7 261.7,343.2 264.7,343.2 265.5,342.9 265.9,343.1 266.3,343.2 266.7,343.3 267.1,343.5 266.8,344.3 266.7,345.1" fill="#1000aa"/>
<polygon points="278.4,348.2 278.4,351.4 278.5,352.3 278.4,352.8 277.9,352.8 277.8,353.1 277.8,353.7 277.4,353.9 276.6,353.9 273.2,353.4 270.0,353.7 269.6,353.2 268.9,353.5 268.8,353.1 268.1,353.2 267.9,353.0 267.9,352.3 267.7,351.7 267.6,348.2 267.7,344.8 268.0,344.2 268.2,343.8 268.5,343.6 268.5,343.1 269.1,343.3 269.3,342.9 270.2,343.0 273.2,343.0 276.5,342.7 277.1,342.9 277.4,343.2 278.2,342.9 278.0,343.5 278.4,343.7 278.5,344.2 278.3,345.0" fill="#12f85e"/>
<polygon points="290.0,348.2 289.7,351.3 289.9,352.1 289.9,352.7 289.9,353.2 289.9,353.8 289.1,353.4 288.7,353.6 287.9,353.5 284.8,353.7 281.9,353.2 280.9,353.6 280.3,353.7 280.3,353.1 280.0,352.9 279.7,352.7 279.8,352.0 279.4,351.6 279.1,348.2 279.5,344.9 279.3,344.0 279.6,343.7 279.7,343.3 280.2,343.3 280.4,343.0 281.1,343.1 281.6,342.8 284.8,342.7 288.2,342.5 288.9,342.6 289.6,342.5 289.5,343.1 289.7,343.4 290.0,343.7 289.9,344.3 289.4,345.4" fill="#1000aa"/>
<polygon points="301.5,348.2 301.5,351.5 301.4,352.1 301.5,352.7 301.2,352.9 301.1,353.3 300.9,353.7 300.2,353.4 299.4,353.3 296.4,353.8 293.1,353.7 292.4,353.7 291.8,353.8 291.6,353.3 290.9,353.6 290.9,353.0 290.7,352.6 291.1,351.5 291.0,348.2 291.6,345.3 291.6,344.6 291.4,343.9 291.3,343.3 291.7,343.1 292.1,343.1 292.2,342.6 293.4,343.2 296.4,342.8 299.3,343.2 300.2,342.9 300.8,342.9 301.1,343.1 301.5,343.2 301.7,343.5 301.9,344.0 301.6,344.9" fill="#12f85e"/>
<polygon points="313.4,348.2 313.2,351.6 313.3,352.4 313.1,352.8 312.4,352.7 312.3,353.0 311.8,352.9 311.8,353.6 311.0,353.5 307.9,353.6 304.7,353.7 303.7,354.0 303.2,353.9 303.2,353.3 303.1,353.0 303.0,352.5 302.9,352.1 302.9,351.4 302.5,348.2 302.4,344.8 303.0,344.4 302.7,343.6 303.4,343.8 303.5,343.5 304.0,343.5 304.1,342.9 304.7,342.8 307.9,342.5 311.3,342.5 312.0,342.6 312.2,343.1 312.9,342.9 312.7,343.5 312.8,343.9 313.3,344.1 313.2,344.9" fill="#1000aa"/>
<polygon points="197.9,360.1 197.8,363.5 197.4,364.0 197.5,364.7 197.3,364.9 196.8,365.0 196.5,365.1 196.3,365.6 195.5,365.5 192.3,366.0 188.9,365.8 188.4,365.5 187.8,365.6 187.4,365.4 187.6,364.7 187.2,364.6 187.4,363.9 187.6,363.1 187.2,360.1 187.2,356.9 186.9,355.9 187.2,355.6 187.1,355.0 187.8,355.2 188.0,354.8 188.6,354.9 189.2,354.8 192.3,354.4 195.4,354.9 196.1,354.8 196.7,354.9 197.2,354.8 197.0,355.5 197.0,356.0 197.6,356.1 197.6,356.8" fill="#12f85e"/>
<polygon points="209.3,360.1 209.1,363.4 209.6,364.5 209.4,365.0 209.2,365.3 208.8,365.4 208.1,365.2 207.8,365.5 207.0,365.3 203.9,364.7 200.9,365.0 200.5,364.8 199.7,365.2 199.4,364.9 198.6,365.2 198.8,364.6 198.5,364.2 198.6,363.4 198.1,360.1 198.7,356.9 198.6,356.0 198.8,355.6 198.7,355.0 199.3,355.1 199.4,354.7 200.2,355.0 200.9,355.1 203.9,354.8 206.9,355.0 207.6,355.0 208.2,354.8 208.5,355.1 208.5,355.6 208.5,356.0 208.8,356.3 208.9,356.9" fill="#a80008"/>
<polygon points="221.0,360.1 220.7,363.4 220.7,364.1 220.4,364.5 220.5,365.0 219.9,364.9 219.7,365.3 219.1,365.1 218.5,365.3 215.4,365.5 212.0,365.8 211.5,365.6 210.9,365.6 210.7,365.2 210.6,364.8 210.2,364.7 210.0,364.2 209.9,363.6 210.2,360.1 210.0,356.7 210.3,356.1 210.2,355.5 210.6,355.4 211.2,355.5 211.5,355.3 211.6,354.9 212.2,354.6 215.4,354.5 218.8,354.5 219.5,354.5 219.9,354.7 220.2,355.0 220.1,355.5 220.1,356.0 220.8,356.0 220.5,356.9" fill="#12f85e"/>
<polygon points="232.5,360.1 232.5,363.5 232.0,363.9 232.3,364.7 231.9,364.9 231.7,365.2 231.2,365.2 231.0,365.6 230.2,365.5 227.0,365.5 224.0,365.2 223.5,364.9 222.8,365.1 222.6,364.9 222.2,364.8 221.5,364.9 221.9,364.0 221.7,363.4 221.9,360.1 221.5,356.7 221.5,355.8 222.2,355.8 222.1,355.3 221.9,354.6 222.7,354.9 223.2,354.8 223.7,354.4 227.0,354.6 230.0,355.0 230.8,354.9 231.3,354.9 231.5,355.2 231.7,355.5 232.2,355.5 232.5,355.8 232.7,356.5" fill="#a80008"/>
<polygon points="244.4,360.1 243.6,363.2 243.3,363.7 243.2,364.2 242.9,364.4 243.2,365.1 243.0,365.5 242.5,365.5 242.0,365.9 238.6,365.5 235.5,365.3 234.8,365.3 234.3,365.2 234.1,364.9 233.3,365.2 233.1,364.9 233.2,364.3 233.1,363.5 233.2,360.1 233.3,356.8 233.4,356.2 233.6,355.8 233.7,355.3 234.3,355.5 234.4,355.1 234.7,354.7 235.1,354.2 238.6,354.6 241.9,354.5 242.5,354.6 242.8,355.0 243.1,355.2 243.7,355.1 244.0,355.3 244.4,355.6 244.0,356.7" fill="#12f85e"/>
<polygon points="255.0,360.1 255.2,363.3 255.4,364.1 255.6,364.9 255.1,364.9 255.1,365.5 254.3,365.2 254.0,365.4 253.3,365.5 250.1,365.7 246.8,365.6 246.0,365.8 245.6,365.6 245.5,365.1 245.4,364.7 245.5,364.2 245.1,363.9 245.4,363.1 245.3,360.1 245.0,356.9 244.8,356.0 244.4,355.0 244.6,354.7 245.3,354.9 245.7,354.8 246.1,354.6 246.9,354.6 250.1,355.1 253.4,354.6 253.8,355.0 254.8,354.5 254.8,355.0 255.4,355.0 254.9,355.9 255.3,356.1 255.4,356.8" fill="#a80008"/>
<polygon points="266.8,360.1 266.8,363.3 266.8,364.1 266.4,364.3 266.2,364.5 266.4,365.2 265.8,365.0 265.8,365.7 265.1,365.8 261.7,366.0 258.1,366.2 257.5,365.8 257.3,365.4 257.6,364.5 257.1,364.6 256.9,364.3 257.1,363.6 256.6,363.3 256.0,360.1 255.8,356.4 256.1,355.8 256.1,355.2 257.0,355.5 257.3,355.3 257.4,354.9 257.8,354.8 258.6,355.0 261.7,354.6 265.0,354.6 265.8,354.4 266.1,354.8 266.3,355.1 266.7,355.1 266.9,355.5 266.8,356.2 267.1,356.7" fill="#12f85e"/>
<polygon points="278.5,360.1 278.5,363.4 278.3,364.0 278.3,364.5 278.3,365.0 278.0,365.3 277.4,365.1 277.0,365.2 276.3,365.3 273.2,365.8 269.9,365.7 269.2,365.6 268.7,365.5 268.7,365.0 268.6,364.6 268.5,364.3 268.1,364.0 267.7,363.5 268.1,360.1 267.8,356.7 268.1,356.1 268.2,355.6 268.2,355.2 268.5,354.9 268.7,354.7 269.5,355.0 270.2,355.0 273.2,355.1 276.2,355.0 276.8,355.1 277.3,355.2 277.7,355.2 278.3,355.2 278.4,355.5 278.9,355.8 278.7,356.7" fill="#a80008"/>
<polygon points="290.2,360.1 290.4,363.6 290.4,364.4 290.1,364.8 289.8,365.0 289.4,365.0 289.4,365.6 288.8,365.6 288.0,365.6 284.8,365.1 281.7,365.3 281.2,365.1 280.7,365.0 280.4,364.8 279.9,364.8 279.5,364.8 279.6,364.1 279.7,363.3 279.6,360.1 279.5,356.8 279.8,356.2 279.6,355.5 279.4,354.8 279.9,354.8 279.9,354.2 280.6,354.3 281.7,354.8 284.8,354.4 287.9,354.8 288.4,355.1 288.7,355.5 289.2,355.3 289.2,355.8 289.7,355.8 289.7,356.3 290.1,356.8" fill="#12f85e"/>
<polygon points="301.4,360.1 301.2,363.1 301.4,364.0 301.6,364.7 301.5,365.1 301.2,365.4 300.9,365.6 300.6,365.9 299.6,365.6 296.4,365.7 293.1,365.6 292.4,365.5 292.5,364.7 292.2,364.6 291.7,364.6 291.4,364.5 290.9,364.3 291.3,363.3 291.2,360.1 291.0,356.7 290.9,355.9 291.4,355.8 291.4,355.2 291.4,354.7 291.9,354.7 292.5,354.8 293.3,354.9 296.4,354.6 299.5,354.9 300.1,354.9 300.7,354.9 301.1,354.9 301.3,355.3 301.5,355.6 301.9,355.8 301.4,357.0" fill="#a80008"/>
<polygon points="313.1,360.1 312.7,363.1 313.1,364.1 312.9,364.5 312.3,364.4 312.3,364.8 312.2,365.2 311.7,365.3 311.3,365.8 307.9,366.1 304.5,365.9 303.9,365.6 303.3,365.6 303.4,364.9 303.3,364.6 303.2,364.3 302.9,364.0 302.9,363.3 303.0,360.1 302.7,356.8 302.4,355.8 302.5,355.3 302.7,355.0 302.8,354.6 303.4,354.7 304.0,354.7 304.7,354.6 307.9,355.0 311.0,354.9 311.7,354.9 312.1,355.1 312.6,355.0 312.8,355.3 313.4,355.3 313.1,356.1 313.3,356.7" fill="#12f85e"/>
<polygon points="197.7,371.9 198.2,375.6 197.8,376.2 197.5,376.5 197.5,377.0 196.9,376.9 196.8,377.3 196.2,377.2 195.4,377.2 192.3,377.5 189.2,377.3 188.5,377.2 188.3,376.8 188.0,376.6 187.9,376.3 187.8,375.9 187.4,375.7 187.1,375.2 186.8,372.0 186.7,368.4 186.6,367.6 186.9,367.2 187.3,367.0 187.4,366.7 188.2,367.0 188.6,366.8 189.3,366.9 192.3,366.2 195.7,366.2 196.2,366.7 196.7,366.6 196.8,367.1 197.2,367.2 197.3,367.6 197.2,368.2 197.4,368.7" fill="#1000aa"/>
<polygon points="209.5,371.9 209.1,375.2 209.2,376.0 209.1,376.5 208.9,376.9 208.6,377.1 208.2,377.2 207.7,377.2 207.3,377.7 203.9,377.6 200.6,377.5 200.2,376.9 199.5,377.2 199.1,377.1 199.1,376.6 198.7,376.5 198.5,376.1 198.6,375.3 198.8,372.0 198.9,368.8 198.8,368.0 199.2,367.9 198.9,367.1 199.3,367.0 199.7,366.9 200.1,366.7 200.7,366.6 203.9,366.5 207.1,366.4 207.7,366.7 208.3,366.6 208.6,366.8 209.1,366.9 209.3,367.2 209.4,367.7 209.0,368.7" fill="#12f85e"/>
<polygon points="220.6,371.9 221.1,375.5 220.7,376.0 220.7,376.6 220.5,376.9 220.2,377.1 219.6,377.0 219.2,377.1 218.5,377.2 215.4,377.4 212.3,377.3 211.5,377.3 210.9,377.4 210.6,377.2 210.0,377.2 210.1,376.6 210.0,376.1 210.1,375.3 210.2,372.0 210.2,368.6 210.5,368.1 210.3,367.5 210.3,366.9 210.7,366.8 210.8,366.4 211.5,366.6 212.3,366.6 215.4,366.2 218.7,366.5 219.5,366.3 219.8,366.7 219.9,367.2 220.0,367.5 220.6,367.4 220.4,368.1 220.5,368.8" fill="#1000aa"/>
<polygon points="231.9,371.9 232.2,375.2 231.9,375.7 232.1,376.4 231.7,376.6 231.8,377.1 231.8,377.7 231.2,377.8 230.4,377.7 227.0,377.5 224.1,376.8 223.2,377.2 223.1,376.6 222.6,376.7 222.2,376.6 221.8,376.5 221.8,375.9 221.6,375.4 221.8,372.0 221.8,368.7 221.9,368.0 222.2,367.7 222.0,367.0 222.6,367.2 222.8,366.9 223.0,366.4 223.9,366.7 227.0,366.3 230.1,366.7 230.9,366.6 231.5,366.6 231.8,366.7 232.5,366.6 232.2,367.3 232.5,367.7 232.2,368.7" fill="#12f85e"/>
<polygon points="243.6,371.9 243.8,375.2 244.1,376.2 243.7,376.5 243.7,377.0 243.2,377.0 243.1,377.4 242.5,377.4 241.6,377.1 238.6,377.4 235.4,377.3 234.6,377.4 234.3,377.1 233.7,377.2 233.5,376.9 233.2,376.7 233.5,375.8 233.4,375.2 233.0,372.0 233.3,368.7 233.0,367.7 233.2,367.2 233.8,367.3 233.9,366.9 234.5,367.1 235.0,367.0 235.5,366.8 238.6,366.3 241.9,366.2 242.6,366.4 243.3,366.3 243.6,366.5 243.3,367.3 243.7,367.4 243.5,368.2 243.6,368.8" fill="#1000aa"/>
<polygon points="255.3,371.9 255.2,375.1 255.2,375.9 255.3,376.5 254.8,376.6 255.1,377.3 254.6,377.3 254.0,377.3 253.5,377.6 250.1,377.3 246.9,377.4 246.4,377.0 245.9,377.0 245.8,376.6 245.0,376.9 245.3,376.2 245.0,375.9 244.9,375.2 244.8,372.0 245.2,368.9 244.8,367.9 245.2,367.6 245.4,367.4 245.3,366.8 245.5,366.4 246.1,366.4 246.7,366.1 250.1,366.5 253.5,366.3 254.2,366.4 254.5,366.7 254.4,367.3 254.9,367.3 255.1,367.5 255.2,368.1 255.1,368.8" fill="#12f85e"/>
<polygon points="267.5,371.9 267.3,375.5 267.2,376.2 267.1,376.7 266.6,376.7 266.3,376.9 265.8,376.8 265.5,377.2 264.9,377.4 261.7,377.0 258.2,377.8 257.8,377.2 257.0,377.6 257.0,377.0 256.4,377.1 256.5,376.5 256.6,375.8 256.2,375.4 256.7,372.0 256.4,368.6 256.8,368.2 256.9,367.7 257.0,367.4 257.0,366.9 257.4,366.8 257.6,366.4 258.4,366.4 261.7,366.3 264.9,366.5 265.6,366.6 265.9,366.9 266.3,367.0 266.1,367.6 266.3,367.9 267.1,367.8 267.1,368.5" fill="#1000aa"/>
<polygon points="278.1,371.9 278.1,375.0 278.4,375.9 278.7,376.7 278.7,377.3 278.5,377.7 277.6,377.2 277.0,377.1 276.2,376.9 273.2,376.9 270.1,377.2 269.5,377.1 269.4,376.6 268.6,377.0 268.5,376.6 268.2,376.4 268.0,376.0 268.0,375.3 267.9,372.0 268.0,368.7 268.0,367.9 268.0,367.4 268.3,367.1 268.4,366.8 269.0,366.9 269.6,367.0 270.1,366.6 273.2,366.7 276.4,366.7 277.2,366.6 277.9,366.3 278.0,366.8 278.2,367.1 277.9,367.9 278.2,368.1 278.3,368.8" fill="#12f85e"/>
<polygon points="289.9,371.9 290.4,375.5 290.4,376.3 290.2,376.7 289.6,376.6 289.6,377.2 289.0,377.0 288.7,377.3 288.0,377.3 284.8,377.5 281.6,377.4 280.7,377.6 280.6,377.0 280.4,376.7 280.0,376.6 280.3,375.9 280.0,375.7 279.6,375.2 279.5,372.0 279.3,368.5 279.2,367.6 279.7,367.5 279.9,367.2 279.8,366.5 280.2,366.4 280.9,366.6 281.3,366.1 284.8,366.5 288.1,366.4 289.1,366.1 289.0,366.9 289.6,366.8 289.2,367.6 289.6,367.7 289.3,368.5 289.8,368.8" fill="#1000aa"/>
<polygon points="301.4,371.9 301.3,375.0 301.7,376.0 301.4,376.4 301.2,376.7 301.2,377.2 300.9,377.4 300.4,377.5 299.5,377.3 296.4,377.1 293.3,377.2 292.3,377.5 292.1,377.0 291.6,377.1 291.7,376.5 291.3,376.4 291.7,375.5 291.2,375.2 291.3,372.0 290.7,368.4 290.9,367.7 290.9,367.2 290.9,366.7 291.7,366.9 291.9,366.5 292.8,367.1 293.6,367.2 296.4,367.0 299.4,366.8 300.4,366.4 300.7,366.7 301.6,366.3 301.7,366.7 301.7,367.2 301.8,367.7 301.2,368.9" fill="#12f85e"/>
<polygon points="313.3,371.9 313.5,375.5 313.0,375.9 313.0,376.4 312.8,376.7 312.3,376.7 312.0,376.9 311.6,377.0 311.3,377.6 307.9,377.6 304.6,377.5 304.0,377.4 303.6,377.1 303.6,376.6 303.2,376.6 303.2,376.1 303.0,375.8 302.7,375.2 302.1,372.0 302.4,368.5 302.9,368.1 302.8,367.4 303.0,367.1 303.6,367.3 303.6,366.8 304.0,366.5 304.6,366.3 307.9,365.9 311.4,366.0 312.1,366.2 312.6,366.3 312.5,367.0 312.4,367.6 312.5,368.0 313.1,368.0 313.1,368.7" fill="#1000aa"/>
<polygon points="197.3,383.8 197.4,387.0 197.5,387.8 197.5,388.4 197.2,388.6 197.2,389.1 196.9,389.3 196.4,389.4 195.5,389.2 192.3,389.3 189.1,389.3 188.4,389.2 188.1,388.9 187.6,388.9 187.2,388.9 187.3,388.2 187.1,387.8 187.3,387.0 187.0,383.8 187.4,380.7 187.3,379.9 187.6,379.6 187.7,379.3 187.5,378.6 188.0,378.7 188.1,378.1 188.9,378.1 192.3,378.1 195.6,378.2 196.4,378.3 196.8,378.4 196.7,379.0 197.1,379.1 197.1,379.6 197.1,380.1 197.3,380.7" fill="#12f85e"/>
<polygon points="209.1,383.8 209.3,387.2 209.0,387.8 208.9,388.2 208.9,388.7 208.4,388.7 208.2,389.1 207.8,389.2 207.0,389.0 203.9,389.2 200.7,389.3 200.0,389.2 199.7,388.8 199.5,388.5 198.9,388.7 198.9,388.1 198.9,387.6 198.2,387.3 198.4,383.8 198.4,380.4 198.9,380.0 198.8,379.3 198.9,378.9 199.2,378.7 199.7,378.8 200.0,378.5 200.6,378.3 203.9,378.3 207.2,378.3 207.6,378.7 208.0,378.8 208.2,379.1 208.7,379.1 208.7,379.6 208.9,379.9 208.8,380.7" fill="#a80008"/>
<polygon points="220.8,383.8 220.4,386.9 220.6,387.7 220.6,388.3 220.4,388.7 220.2,388.9 220.0,389.3 219.6,389.6 218.8,389.4 215.4,389.5 212.1,389.4 211.5,389.2 211.2,388.9 211.0,388.6 210.8,388.4 210.5,388.2 210.2,387.8 210.5,386.9 210.4,383.8 210.6,380.8 210.4,379.9 210.6,379.6 210.3,378.8 210.9,378.9 210.9,378.4 211.2,378.0 211.9,377.9 215.4,378.3 218.8,378.1 219.4,378.3 219.7,378.7 219.9,379.0 220.1,379.2 220.6,379.2 220.4,380.0 220.8,380.5" fill="#12f85e"/>
<polygon points="232.6,383.8 232.3,387.1 232.4,388.0 232.2,388.4 231.7,388.4 231.6,388.8 231.4,389.1 230.7,388.9 230.0,388.9 227.0,389.4 223.9,389.0 223.1,389.2 222.7,388.9 222.1,389.2 222.2,388.5 222.1,388.1 221.6,388.0 221.5,387.2 221.4,383.8 221.9,380.6 222.0,379.9 221.9,379.3 222.2,379.1 222.5,378.9 222.8,378.8 223.3,378.8 223.9,378.5 227.0,378.7 229.9,378.8 230.6,378.8 231.4,378.5 231.7,378.7 231.8,379.1 232.3,379.1 232.0,379.9 232.3,380.5" fill="#a80008"/>
<polygon points="244.1,383.8 244.1,387.3 244.0,388.0 243.8,388.4 243.6,388.8 243.3,389.0 243.0,389.2 242.4,389.1 241.9,389.4 238.6,389.3 235.5,389.0 234.6,389.2 234.1,389.2 233.9,388.8 233.8,388.5 233.5,388.3 233.3,387.9 233.6,386.9 233.1,383.8 233.4,380.6 233.4,379.9 233.5,379.3 233.5,378.8 234.0,378.9 234.3,378.6 234.5,378.3 235.4,378.5 238.6,378.2 241.7,378.5 242.3,378.7 242.8,378.8 243.3,378.7 243.3,379.2 243.3,379.7 243.7,379.9 243.7,380.6" fill="#12f85e"/>
<polygon points="255.5,383.8 255.4,387.1 255.3,387.8 255.4,388.4 255.0,388.5 254.8,388.9 254.7,389.3 254.3,389.6 253.5,389.5 250.1,389.5 247.0,389.2 246.2,389.1 246.0,388.8 245.5,388.8 245.4,388.4 245.7,387.7 245.2,387.6 244.9,387.1 244.7,383.8 244.8,380.5 244.7,379.6 244.6,379.0 244.8,378.6 244.8,378.1 245.4,378.1 246.0,378.1 246.8,378.2 250.1,378.9 253.3,378.4 253.7,378.9 254.1,379.0 254.7,378.9 254.9,379.1 255.1,379.4 255.7,379.5 255.3,380.6" fill="#a80008"/>
<polygon points="266.8,383.8 267.3,387.3 267.2,388.1 266.8,388.3 266.9,388.9 266.7,389.2 266.0,389.0 265.4,388.9 264.9,389.3 261.7,389.2 258.6,389.1 258.1,388.8 257.5,388.9 257.0,388.9 257.1,388.3 256.8,388.1 256.5,387.8 256.7,386.9 256.7,383.8 256.2,380.4 256.1,379.5 256.1,378.9 256.1,378.4 256.8,378.5 257.2,378.4 257.8,378.5 258.4,378.3 261.7,378.8 264.6,378.9 265.3,378.8 266.0,378.6 266.4,378.7 266.4,379.2 267.0,379.2 267.2,379.6 266.9,380.5" fill="#12f85e"/>
<polygon points="278.2,383.8 278.4,387.1 278.4,387.8 278.5,388.4 278.4,388.8 278.2,389.2 278.0,389.5 277.5,389.6 276.6,389.6 273.2,389.4 270.2,388.9 269.3,389.3 269.2,388.7 268.7,388.7 267.9,389.0 267.9,388.5 267.7,388.1 268.1,387.0 268.4,383.8 268.5,380.8 268.0,379.8 268.1,379.2 268.3,379.0 268.3,378.4 268.9,378.6 269.0,378.0 270.1,378.5 273.2,378.7 276.3,378.6 277.0,378.6 277.5,378.6 278.1,378.5 278.1,379.0 278.7,379.0 278.4,379.8 278.4,380.6" fill="#a80008"/>
<polygon points="289.8,383.8 290.1,387.1 289.7,387.6 290.1,388.5 290.0,388.8 290.0,389.5 289.6,389.5 289.1,389.7 288.1,389.4 284.8,389.3 281.7,389.0 281.1,388.8 280.7,388.8 280.4,388.5 280.0,388.5 279.8,388.2 279.6,387.8 279.5,387.1 279.3,383.8 279.5,380.5 279.5,379.7 279.6,379.2 279.7,378.9 280.1,378.7 280.4,378.5 280.9,378.5 281.6,378.3 284.8,378.4 288.1,378.3 288.8,378.3 289.5,378.2 289.6,378.7 290.0,378.8 289.6,379.6 289.8,379.9 289.8,380.7" fill="#12f85e"/>
<polygon points="301.9,383.8 301.7,387.2 301.4,387.7 301.4,388.3 300.8,388.1 300.7,388.5 300.4,388.6 300.2,389.1 299.6,389.3 296.4,389.4 293.2,389.2 292.6,389.0 291.9,389.2 291.9,388.6 291.4,388.7 291.3,388.3 290.8,388.1 290.9,387.2 291.1,383.8 291.1,380.5 291.3,379.9 291.4,379.5 291.7,379.3 291.9,379.0 292.1,378.7 292.6,378.6 293.3,378.7 296.4,378.1 299.6,378.3 300.4,378.2 300.6,378.7 301.0,378.8 301.2,379.1 301.7,379.1 302.1,379.4 301.9,380.4" fill="#a80008"/>
<polygon points="312.9,383.8 313.0,387.0 313.1,387.8 313.0,388.3 313.2,388.9 312.6,388.9 312.2,388.9 311.8,389.1 311.2,389.4 307.9,389.4 304.9,388.9 304.2,389.0 303.6,389.0 302.9,389.2 302.7,388.9 302.9,388.2 302.5,388.0 302.5,387.2 302.5,383.8 302.8,380.6 302.5,379.7 302.9,379.4 302.7,378.7 303.4,378.9 303.7,378.7 304.2,378.8 304.7,378.4 307.9,378.4 311.1,378.5 311.9,378.4 312.4,378.5 312.9,378.4 312.9,379.0 313.3,379.1 313.4,379.6 313.0,380.6" fill="#12f85e"/>
<polygon points="197.9,395.7 197.7,399.0 197.2,399.4 196.8,399.6 197.0,400.2 196.5,400.2 196.7,400.9 196.0,400.7 195.7,401.4 192.3,401.4 189.1,401.2 188.2,401.3 187.8,401.1 187.5,400.9 187.4,400.5 187.3,400.1 187.1,399.7 187.0,399.0 186.7,395.7 186.9,392.3 187.0,391.5 187.6,391.5 187.8,391.2 187.7,390.7 188.0,390.5 188.3,390.1 189.3,390.6 192.3,389.9 195.5,390.3 196.4,390.1 196.6,390.5 197.2,390.4 197.6,390.5 197.8,390.8 198.0,391.3 197.6,392.4" fill="#1000aa"/>
<polygon points="209.3,395.7 209.4,399.1 209.1,399.7 209.5,400.6 209.0,400.7 208.9,401.1 208.2,400.8 207.7,400.9 206.9,400.8 203.9,400.7 200.9,400.8 200.2,400.8 199.5,400.9 199.2,400.8 199.1,400.3 198.5,400.4 198.7,399.7 198.7,398.9 198.9,395.7 198.8,392.5 198.5,391.6 198.9,391.3 198.9,390.8 198.8,390.2 199.4,390.3 199.6,389.9 200.7,390.3 203.9,389.9 207.0,390.4 207.7,390.4 207.9,390.8 208.6,390.6 208.8,390.9 208.9,391.3 208.8,391.9 208.7,392.6" fill="#12f85e"/>
<polygon points="220.4,395.7 220.2,398.6 220.8,399.8 220.9,400.5 220.5,400.6 220.5,401.2 219.8,400.9 219.2,400.8 218.6,400.9 215.4,400.8 212.6,400.5 211.9,400.5 211.3,400.7 210.8,400.7 210.2,400.8 210.1,400.3 209.7,400.1 210.4,398.8 210.4,395.7 210.3,392.4 210.5,391.8 210.7,391.5 210.6,391.0 210.9,390.7 210.9,390.2 211.7,390.5 212.2,390.2 215.4,390.1 218.6,390.3 219.2,390.5 220.0,390.2 220.1,390.6 220.3,390.9 220.7,391.0 220.2,392.0 220.6,392.4" fill="#1000aa"/>
<polygon points="232.4,395.7 232.6,399.2 232.8,400.1 232.4,400.4 232.2,400.8 231.9,400.9 231.1,400.7 230.5,400.5 230.0,400.8 227.0,400.8 224.2,400.4 223.3,400.8 222.6,401.0 222.3,400.8 221.9,400.7 221.5,400.5 221.8,399.7 221.6,399.0 221.8,395.7 221.4,392.1 221.7,391.6 221.7,391.0 222.0,390.8 222.4,390.7 222.6,390.3 223.2,390.4 223.8,390.2 227.0,390.1 230.3,390.0 230.7,390.6 231.3,390.5 231.4,390.9 231.7,391.1 231.5,391.7 232.0,391.8 232.0,392.5" fill="#12f85e"/>
<polygon points="244.0,395.7 243.8,399.0 243.6,399.6 243.4,399.9 243.1,400.1 243.4,400.9 242.9,400.9 242.7,401.4 242.0,401.4 238.6,401.5 235.5,400.8 234.8,400.9 234.5,400.6 234.1,400.5 233.8,400.3 233.2,400.4 233.2,399.8 233.0,399.2 233.3,395.7 233.2,392.3 233.4,391.7 234.0,391.7 234.1,391.3 234.3,391.0 234.3,390.5 234.8,390.6 235.1,389.8 238.6,390.1 242.1,389.7 242.4,390.4 243.1,390.2 243.5,390.3 243.5,390.9 243.6,391.2 243.8,391.6 243.6,392.5" fill="#1000aa"/>
<polygon points="255.5,395.7 255.2,398.8 255.2,399.6 255.3,400.2 255.0,400.5 255.0,400.9 254.4,400.9 254.1,401.1 253.1,400.8 250.1,400.6 247.3,400.4 246.6,400.5 246.0,400.6 245.2,401.0 245.0,400.7 244.7,400.5 244.7,399.8 244.4,399.3 244.7,395.7 245.1,392.5 244.9,391.7 245.4,391.5 244.9,390.6 245.2,390.4 245.9,390.6 246.3,390.4 246.8,390.1 250.1,390.2 253.3,390.3 253.9,390.4 254.3,390.7 255.0,390.4 255.2,390.7 255.1,391.3 255.1,391.8 255.4,392.4" fill="#12f85e"/>
<polygon points="266.9,395.7 267.0,399.0 266.9,399.7 266.6,400.0 266.8,400.6 266.1,400.5 266.0,400.8 265.4,400.8 265.0,401.3 261.7,401.2 258.6,400.9 257.7,401.2 257.2,401.1 256.8,401.0 256.6,400.6 256.5,400.2 256.5,399.6 256.8,398.7 256.9,395.7 257.0,392.7 256.6,391.7 256.3,391.0 256.6,390.7 256.5,390.1 257.0,390.1 257.7,390.3 258.6,390.5 261.7,390.8 264.7,390.5 265.1,391.0 265.7,390.8 266.3,390.6 266.6,390.9 267.1,390.9 267.2,391.5 267.0,392.4" fill="#1000aa"/>
<polygon points="278.3,395.7 278.0,398.6 278.2,399.5 278.2,400.1 277.9,400.2 277.7,400.5 277.8,401.2 277.0,400.9 276.5,401.3 273.2,401.1 269.9,401.3 269.3,401.1 269.0,400.8 268.6,400.6 268.6,400.2 268.1,400.2 268.3,399.5 268.3,398.7 267.8,395.7 268.0,392.4 267.6,391.3 267.8,390.9 268.0,390.5 268.6,390.7 269.0,390.5 269.4,390.5 270.1,390.3 273.2,390.3 276.7,389.9 277.5,389.9 277.8,390.1 278.2,390.4 278.5,390.5 278.6,391.0 278.2,391.8 278.5,392.4" fill="#12f85e"/>
<polygon points="290.1,395.7 289.8,398.8 289.6,399.4 289.9,400.1 289.4,400.2 289.3,400.5 289.3,401.0 288.7,401.0 288.2,401.4 284.8,401.2 281.4,401.4 280.9,401.0 280.6,400.7 280.4,400.5 280.4,400.0 279.6,400.3 279.2,399.9 279.7,398.9 279.3,395.7 279.3,392.2 279.4,391.5 279.6,391.1 279.8,390.8 280.0,390.5 280.6,390.7 280.6,389.9 281.3,389.7 284.8,389.9 288.2,389.9 288.6,390.4 289.1,390.6 289.2,391.0 289.6,391.0 290.2,391.0 290.2,391.5 290.1,392.3" fill="#1000aa"/>
<polygon points="301.9,395.7 301.8,399.1 301.5,399.6 301.3,400.0 301.1,400.3 301.1,400.8 300.8,401.0 300.3,401.0 299.7,401.2 296.4,401.0 293.3,400.8 292.6,400.8 292.2,400.6 291.5,400.9 291.1,400.8 291.0,400.4 291.1,399.7 291.2,398.9 290.9,395.7 291.1,392.4 291.6,392.0 291.1,391.1 291.4,390.8 291.4,390.3 291.6,390.0 292.2,389.9 292.9,389.8 296.4,389.9 299.4,390.6 300.0,390.7 300.5,390.7 300.9,390.7 301.0,391.1 301.4,391.2 302.0,391.3 302.2,392.0" fill="#12f85e"/>
<polygon points="313.3,395.7 313.3,399.1 313.3,399.8 312.7,399.9 312.9,400.5 312.2,400.3 312.0,400.6 311.4,400.5 311.0,400.9 307.9,400.7 304.7,401.2 304.0,401.1 303.2,401.4 303.1,400.9 302.4,401.0 302.8,400.1 302.8,399.6 302.6,399.0 302.6,395.7 302.5,392.3 303.1,392.0 303.2,391.5 303.3,391.2 303.5,390.9 303.6,390.5 304.1,390.5 304.9,390.6 307.9,390.4 311.3,390.0 312.0,390.1 312.3,390.4 312.8,390.4 312.8,390.9 313.1,391.1 313.0,391.8 313.0,392.5" fill="#1000aa"/>
</g>
<path d="M321.5,6.7 C331,7.5 336.6,16 336.6,31 L336.6,184 C336.6,195 342,201.5 352.2,201.5 C342,201.5 336.6,208 336.6,219 L336.6,372 C336.6,385 332,394.5 321.5,397" fill="none" stroke="#2a7fcf" stroke-width="1.8"/>
<rect x="402.80" y="104.91" width="9.45" height="23.39" fill="#00008c" stroke="#000040" stroke-width="0.5"/>
<rect x="412.25" y="86.20" width="9.45" height="42.10" fill="#00008c" stroke="#000040" stroke-width="0.5"/>
<rect x="421.70" y="39.43" width="9.45" height="88.87" fill="#00008c" stroke="#000040" stroke-width="0.5"/>
<rect x="431.15" y="34.75" width="9.45" height="93.55" fill="#00008c" stroke="#000040" stroke-width="0.5"/>
<rect x="440.60" y="39.43" width="9.45" height="88.87" fill="#00008c" stroke="#000040" stroke-width="0.5"/>
<rect x="450.05" y="58.14" width="9.45" height="70.16" fill="#00008c" stroke="#000040" stroke-width="0.5"/>
<rect x="459.50" y="76.85" width="9.45" height="51.45" fill="#00008c" stroke="#000040" stroke-width="0.5"/>
<rect x="468.95" y="86.20" width="9.45" height="42.10" fill="#00008c" stroke="#000040" stroke-width="0.5"/>
<rect x="478.40" y="109.59" width="9.45" height="18.71" fill="#00008c" stroke="#000040" stroke-width="0.5"/>
<rect x="487.85" y="100.24" width="9.45" height="28.06" fill="#00008c" stroke="#000040" stroke-width="0.5"/>
<rect x="390.1" y="25.4" width="130.90" height="102.90" fill="none" stroke="#777" stroke-width="0.8"/>
<line x1="390.1" y1="128.30" x2="391.40000000000003" y2="128.30" stroke="#777" stroke-width="0.6"/>
<line x1="521.0" y1="128.30" x2="519.7" y2="128.30" stroke="#777" stroke-width="0.6"/>
<text x="388.6" y="130.10" font-size="5.6" text-anchor="end" fill="#333">0</text>
<line x1="390.1" y1="104.91" x2="391.40000000000003" y2="104.91" stroke="#777" stroke-width="0.6"/>
<line x1="521.0" y1="104.91" x2="519.7" y2="104.91" stroke="#777" stroke-width="0.6"/>
<text x="388.6" y="106.71" font-size="5.6" text-anchor="end" fill="#333">5</text>
<line x1="390.1" y1="81.53" x2="391.40000000000003" y2="81.53" stroke="#777" stroke-width="0.6"/>
<line x1="521.0" y1="81.53" x2="519.7" y2="81.53" stroke="#777" stroke-width="0.6"/>
<text x="388.6" y="83.33" font-size="5.6" text-anchor="end" fill="#333">10</text>
<line x1="390.1" y1="58.14" x2="391.40000000000003" y2="58.14" stroke="#777" stroke-width="0.6"/>
<line x1="521.0" y1="58.14" x2="519.7" y2="58.14" stroke="#777" stroke-width="0.6"/>
<text x="388.6" y="59.94" font-size="5.6" text-anchor="end" fill="#333">15</text>
<line x1="390.1" y1="34.75" x2="391.40000000000003" y2="34.75" stroke="#777" stroke-width="0.6"/>
<line x1="521.0" y1="34.75" x2="519.7" y2="34.75" stroke="#777" stroke-width="0.6"/>
<text x="388.6" y="36.55" font-size="5.6" text-anchor="end" fill="#333">20</text>
<line x1="390.10" y1="128.3" x2="390.10" y2="127.00000000000001" stroke="#777" stroke-width="0.6"/>
<line x1="390.10" y1="25.4" x2="390.10" y2="26.7" stroke="#777" stroke-width="0.6"/>
<text x="390.10" y="134.3" font-size="5.6" text-anchor="middle" fill="#333">1000</text>
<line x1="433.73" y1="128.3" x2="433.73" y2="127.00000000000001" stroke="#777" stroke-width="0.6"/>
<line x1="433.73" y1="25.4" x2="433.73" y2="26.7" stroke="#777" stroke-width="0.6"/>
<text x="433.73" y="134.3" font-size="5.6" text-anchor="middle" fill="#333">1500</text>
<line x1="477.37" y1="128.3" x2="477.37" y2="127.00000000000001" stroke="#777" stroke-width="0.6"/>
<line x1="477.37" y1="25.4" x2="477.37" y2="26.7" stroke="#777" stroke-width="0.6"/>
<text x="477.37" y="134.3" font-size="5.6" text-anchor="middle" fill="#333">2000</text>
<line x1="521.00" y1="128.3" x2="521.00" y2="127.00000000000001" stroke="#777" stroke-width="0.6"/>
<line x1="521.00" y1="25.4" x2="521.00" y2="26.7" stroke="#777" stroke-width="0.6"/>
<text x="521.00" y="134.3" font-size="5.6" text-anchor="middle" fill="#333">2500</text>
<text x="0" y="0" transform="translate(373.0,79.4) rotate(-90)" font-size="10" fill="#222" stroke="#222" stroke-width="0.3" text-anchor="middle" textLength="95.5" lengthAdjust="spacingAndGlyphs">Number of crosspoints</text>
<text x="431.8" y="146.4" font-size="10.8" fill="#222" stroke="#222" stroke-width="0.3" textLength="19.7" lengthAdjust="spacingAndGlyphs">area</text>
<text x="454.2" y="146.4" font-size="10.8" fill="#222" stroke="#222" stroke-width="0.3" textLength="22.3" lengthAdjust="spacingAndGlyphs">(nm</text>
<text x="476.9" y="142.4" font-size="6.8" fill="#222" stroke="#222" stroke-width="0.2">2</text>
<text x="480.0" y="146.4" font-size="10.8" fill="#222" stroke="#222" stroke-width="0.3" textLength="2.7" lengthAdjust="spacingAndGlyphs">)</text>
<polyline points="394.03,244.28 416.69,218.52 439.35,201.87 462.01,189.18 484.68,166.98 507.34,158.26" fill="none" stroke="#1b6e4c" stroke-width="1.3"/>
<polyline points="394.03,247.06 416.69,239.92 439.35,236.35 462.01,228.82 484.68,224.07 507.34,217.33" fill="none" stroke="#22dd22" stroke-width="1.1"/>
<polyline points="394.03,248.25 416.69,239.53 439.35,235.17 462.01,228.43 484.68,223.27 507.34,217.72" fill="none" stroke="#f42418" stroke-width="1.35"/>
<rect x="389.5" y="154.3" width="126.90" height="99.10" fill="none" stroke="#777" stroke-width="0.8"/>
<line x1="389.5" y1="253.40" x2="390.8" y2="253.40" stroke="#777" stroke-width="0.6"/>
<line x1="516.4" y1="253.40" x2="515.1" y2="253.40" stroke="#777" stroke-width="0.6"/>
<text x="388.0" y="255.20" font-size="5.6" text-anchor="end" fill="#333">0</text>
<line x1="389.5" y1="233.58" x2="390.8" y2="233.58" stroke="#777" stroke-width="0.6"/>
<line x1="516.4" y1="233.58" x2="515.1" y2="233.58" stroke="#777" stroke-width="0.6"/>
<text x="388.0" y="235.38" font-size="5.6" text-anchor="end" fill="#333">5</text>
<line x1="389.5" y1="213.76" x2="390.8" y2="213.76" stroke="#777" stroke-width="0.6"/>
<line x1="516.4" y1="213.76" x2="515.1" y2="213.76" stroke="#777" stroke-width="0.6"/>
<text x="388.0" y="215.56" font-size="5.6" text-anchor="end" fill="#333">10</text>
<line x1="389.5" y1="193.94" x2="390.8" y2="193.94" stroke="#777" stroke-width="0.6"/>
<line x1="516.4" y1="193.94" x2="515.1" y2="193.94" stroke="#777" stroke-width="0.6"/>
<text x="388.0" y="195.74" font-size="5.6" text-anchor="end" fill="#333">15</text>
<line x1="389.5" y1="174.12" x2="390.8" y2="174.12" stroke="#777" stroke-width="0.6"/>
<line x1="516.4" y1="174.12" x2="515.1" y2="174.12" stroke="#777" stroke-width="0.6"/>
<text x="388.0" y="175.92" font-size="5.6" text-anchor="end" fill="#333">20</text>
<line x1="389.5" y1="154.30" x2="390.8" y2="154.30" stroke="#777" stroke-width="0.6"/>
<line x1="516.4" y1="154.30" x2="515.1" y2="154.30" stroke="#777" stroke-width="0.6"/>
<text x="388.0" y="156.10" font-size="5.6" text-anchor="end" fill="#333">25</text>
<line x1="389.50" y1="253.4" x2="389.50" y2="252.1" stroke="#777" stroke-width="0.6"/>
<line x1="389.50" y1="154.3" x2="389.50" y2="155.60000000000002" stroke="#777" stroke-width="0.6"/>
<text x="389.50" y="259.2" font-size="5.6" text-anchor="middle" fill="#333">0.2</text>
<line x1="407.63" y1="253.4" x2="407.63" y2="252.1" stroke="#777" stroke-width="0.6"/>
<line x1="407.63" y1="154.3" x2="407.63" y2="155.60000000000002" stroke="#777" stroke-width="0.6"/>
<text x="407.63" y="259.2" font-size="5.6" text-anchor="middle" fill="#333">0.4</text>
<line x1="425.76" y1="253.4" x2="425.76" y2="252.1" stroke="#777" stroke-width="0.6"/>
<line x1="425.76" y1="154.3" x2="425.76" y2="155.60000000000002" stroke="#777" stroke-width="0.6"/>
<text x="425.76" y="259.2" font-size="5.6" text-anchor="middle" fill="#333">0.6</text>
<line x1="443.89" y1="253.4" x2="443.89" y2="252.1" stroke="#777" stroke-width="0.6"/>
<line x1="443.89" y1="154.3" x2="443.89" y2="155.60000000000002" stroke="#777" stroke-width="0.6"/>
<text x="443.89" y="259.2" font-size="5.6" text-anchor="middle" fill="#333">0.8</text>
<line x1="462.01" y1="253.4" x2="462.01" y2="252.1" stroke="#777" stroke-width="0.6"/>
<line x1="462.01" y1="154.3" x2="462.01" y2="155.60000000000002" stroke="#777" stroke-width="0.6"/>
<text x="462.01" y="259.2" font-size="5.6" text-anchor="middle" fill="#333">1</text>
<line x1="480.14" y1="253.4" x2="480.14" y2="252.1" stroke="#777" stroke-width="0.6"/>
<line x1="480.14" y1="154.3" x2="480.14" y2="155.60000000000002" stroke="#777" stroke-width="0.6"/>
<text x="480.14" y="259.2" font-size="5.6" text-anchor="middle" fill="#333">1.2</text>
<line x1="498.27" y1="253.4" x2="498.27" y2="252.1" stroke="#777" stroke-width="0.6"/>
<line x1="498.27" y1="154.3" x2="498.27" y2="155.60000000000002" stroke="#777" stroke-width="0.6"/>
<text x="498.27" y="259.2" font-size="5.6" text-anchor="middle" fill="#333">1.4</text>
<line x1="516.40" y1="253.4" x2="516.40" y2="252.1" stroke="#777" stroke-width="0.6"/>
<line x1="516.40" y1="154.3" x2="516.40" y2="155.60000000000002" stroke="#777" stroke-width="0.6"/>
<text x="516.40" y="259.2" font-size="5.6" text-anchor="middle" fill="#333">1.6</text>
<text x="0" y="0" transform="translate(374.6,204.4) rotate(-90)" font-size="10.3" fill="#222" stroke="#222" stroke-width="0.3" text-anchor="middle" textLength="108" lengthAdjust="spacingAndGlyphs">Normalized variability (%)</text>
<text x="429.8" y="268.7" font-size="10.8" fill="#222" stroke="#222" stroke-width="0.3" textLength="18.0" lengthAdjust="spacingAndGlyphs">rms</text>
<text x="450.1" y="268.7" font-size="10.8" fill="#222" stroke="#222" stroke-width="0.3" textLength="23.2" lengthAdjust="spacingAndGlyphs">(nm)</text>
<rect x="391.2" y="276.2" width="121.00" height="105.80" fill="#00008c"/>
<polygon points="397.80,276.20 395.90,302.50 398.90,328.80 399.40,355.10 402.40,382.00 512.20,382.00 512.20,276.20" fill="#0010f0" stroke="#333" stroke-width="0.35" stroke-opacity="0.6"/>
<polygon points="406.60,276.20 407.40,302.50 408.50,328.80 409.20,355.10 413.30,382.00 512.20,382.00 512.20,276.20" fill="#0055ff" stroke="#333" stroke-width="0.35" stroke-opacity="0.6"/>
<polygon points="415.50,276.20 416.50,302.50 418.00,328.80 419.90,355.10 424.80,382.00 512.20,382.00 512.20,276.20" fill="#00b2ff" stroke="#333" stroke-width="0.35" stroke-opacity="0.6"/>
<polygon points="424.70,276.20 425.80,302.50 427.50,328.80 430.50,355.10 438.50,382.00 512.20,382.00 512.20,276.20" fill="#14ffe4" stroke="#333" stroke-width="0.35" stroke-opacity="0.6"/>
<polygon points="435.10,276.20 436.50,302.50 439.50,328.80 444.30,355.10 460.70,382.00 512.20,382.00 512.20,276.20" fill="#14f070" stroke="#333" stroke-width="0.35" stroke-opacity="0.6"/>
<polygon points="447.60,276.20 451.80,302.50 454.70,328.80 459.80,355.10 477.00,382.00 512.20,382.00 512.20,276.20" fill="#e2ff12" stroke="#333" stroke-width="0.35" stroke-opacity="0.6"/>
<polygon points="460.50,276.20 466.10,302.50 469.60,328.80 474.80,355.10 493.00,382.00 512.20,382.00 512.20,276.20" fill="#ffb000" stroke="#333" stroke-width="0.35" stroke-opacity="0.6"/>
<polygon points="473.40,276.20 480.90,302.50 483.80,328.80 489.70,355.10 509.20,382.00 512.20,382.00 512.20,276.20" fill="#ff5200" stroke="#333" stroke-width="0.35" stroke-opacity="0.6"/>
<polygon points="486.40,276.20 494.70,302.50 496.60,328.80 505.10,355.10 512.20,366.00 512.20,276.20" fill="#ff1000" stroke="#333" stroke-width="0.35" stroke-opacity="0.6"/>
<polygon points="498.60,276.20 508.50,302.50 508.40,320.00 512.20,336.00 512.20,276.20" fill="#8c0000" stroke="#333" stroke-width="0.35" stroke-opacity="0.6"/>
<rect x="391.2" y="276.2" width="121.00" height="105.80" fill="none" stroke="#222" stroke-width="0.8"/>
<line x1="391.2" y1="382.00" x2="392.5" y2="382.00" stroke="#222" stroke-width="0.6"/>
<text x="389.7" y="383.80" font-size="5.6" text-anchor="end" fill="#333">5</text>
<line x1="391.2" y1="355.55" x2="392.5" y2="355.55" stroke="#222" stroke-width="0.6"/>
<text x="389.7" y="357.35" font-size="5.6" text-anchor="end" fill="#333">10</text>
<line x1="391.2" y1="329.10" x2="392.5" y2="329.10" stroke="#222" stroke-width="0.6"/>
<text x="389.7" y="330.90" font-size="5.6" text-anchor="end" fill="#333">15</text>
<line x1="391.2" y1="302.65" x2="392.5" y2="302.65" stroke="#222" stroke-width="0.6"/>
<text x="389.7" y="304.45" font-size="5.6" text-anchor="end" fill="#333">20</text>
<line x1="391.2" y1="276.20" x2="392.5" y2="276.20" stroke="#222" stroke-width="0.6"/>
<text x="389.7" y="278.00" font-size="5.6" text-anchor="end" fill="#333">25</text>
<line x1="399.27" y1="382.0" x2="399.27" y2="380.7" stroke="#222" stroke-width="0.6"/>
<text x="399.27" y="388.5" font-size="5.6" text-anchor="middle" fill="#333">0.3</text>
<line x1="415.40" y1="382.0" x2="415.40" y2="380.7" stroke="#222" stroke-width="0.6"/>
<text x="415.40" y="388.5" font-size="5.6" text-anchor="middle" fill="#333">0.4</text>
<line x1="431.53" y1="382.0" x2="431.53" y2="380.7" stroke="#222" stroke-width="0.6"/>
<text x="431.53" y="388.5" font-size="5.6" text-anchor="middle" fill="#333">0.5</text>
<line x1="447.67" y1="382.0" x2="447.67" y2="380.7" stroke="#222" stroke-width="0.6"/>
<text x="447.67" y="388.5" font-size="5.6" text-anchor="middle" fill="#333">0.6</text>
<line x1="463.80" y1="382.0" x2="463.80" y2="380.7" stroke="#222" stroke-width="0.6"/>
<text x="463.80" y="388.5" font-size="5.6" text-anchor="middle" fill="#333">0.7</text>
<line x1="479.93" y1="382.0" x2="479.93" y2="380.7" stroke="#222" stroke-width="0.6"/>
<text x="479.93" y="388.5" font-size="5.6" text-anchor="middle" fill="#333">0.8</text>
<line x1="496.07" y1="382.0" x2="496.07" y2="380.7" stroke="#222" stroke-width="0.6"/>
<text x="496.07" y="388.5" font-size="5.6" text-anchor="middle" fill="#333">0.9</text>
<line x1="512.20" y1="382.0" x2="512.20" y2="380.7" stroke="#222" stroke-width="0.6"/>
<text x="512.20" y="388.5" font-size="5.6" text-anchor="middle" fill="#333">1</text>
<defs><linearGradient id="jet" x1="0" y1="1" x2="0" y2="0"><stop offset="0" stop-color="#000080"/><stop offset="0.125" stop-color="#0000ff"/><stop offset="0.375" stop-color="#00ffff"/><stop offset="0.625" stop-color="#ffff00"/><stop offset="0.875" stop-color="#ff0000"/><stop offset="1" stop-color="#800000"/></linearGradient></defs>
<rect x="518.9" y="276.2" width="9.60" height="105.80" fill="url(#jet)" stroke="#222" stroke-width="0.7"/>
<line x1="528.5" y1="372.38" x2="527.3" y2="372.38" stroke="#222" stroke-width="0.5"/>
<text x="530.3" y="374.18" font-size="5.6" fill="#333">10</text>
<line x1="528.5" y1="360.05" x2="527.3" y2="360.05" stroke="#222" stroke-width="0.5"/>
<text x="530.3" y="361.85" font-size="5.6" fill="#333">15</text>
<line x1="528.5" y1="347.72" x2="527.3" y2="347.72" stroke="#222" stroke-width="0.5"/>
<text x="530.3" y="349.52" font-size="5.6" fill="#333">20</text>
<line x1="528.5" y1="335.39" x2="527.3" y2="335.39" stroke="#222" stroke-width="0.5"/>
<text x="530.3" y="337.19" font-size="5.6" fill="#333">25</text>
<line x1="528.5" y1="323.06" x2="527.3" y2="323.06" stroke="#222" stroke-width="0.5"/>
<text x="530.3" y="324.86" font-size="5.6" fill="#333">30</text>
<line x1="528.5" y1="310.73" x2="527.3" y2="310.73" stroke="#222" stroke-width="0.5"/>
<text x="530.3" y="312.53" font-size="5.6" fill="#333">35</text>
<line x1="528.5" y1="298.40" x2="527.3" y2="298.40" stroke="#222" stroke-width="0.5"/>
<text x="530.3" y="300.20" font-size="5.6" fill="#333">40</text>
<line x1="528.5" y1="286.06" x2="527.3" y2="286.06" stroke="#222" stroke-width="0.5"/>
<text x="530.3" y="287.86" font-size="5.6" fill="#333">45</text>
<text x="0" y="0" transform="translate(375.3,355.2) rotate(-90)" font-size="10.5" fill="#222" stroke="#222" stroke-width="0.3">ξ</text>
<text x="0" y="0" transform="translate(375.4,347.8) rotate(-90)" font-size="6" fill="#222" stroke="#222" stroke-width="0.25" textLength="8.5" lengthAdjust="spacingAndGlyphs">LER</text>
<text x="0" y="0" transform="translate(375.4,335.1) rotate(-90)" font-size="10.5" fill="#222" stroke="#222" stroke-width="0.3" textLength="22.4" lengthAdjust="spacingAndGlyphs">(nm)</text>
<text x="429.6" y="400.0" font-size="10.8" fill="#222" stroke="#222" stroke-width="0.3" textLength="18.0" lengthAdjust="spacingAndGlyphs">rms</text>
<text x="447.9" y="402.5" font-size="5.8" fill="#222" stroke="#222" stroke-width="0.2" textLength="11.3" lengthAdjust="spacingAndGlyphs">LER</text>
<text x="462.6" y="400.0" font-size="10.8" fill="#222" stroke="#222" stroke-width="0.3" textLength="22.2" lengthAdjust="spacingAndGlyphs">(nm)</text>
<text x="65.5" y="412.7" font-size="16" fill="#111" stroke="#111" stroke-width="0.3" textLength="17.8" lengthAdjust="spacingAndGlyphs">(a)</text>
<text x="246.2" y="419.0" font-size="16" fill="#111" stroke="#111" stroke-width="0.3" textLength="17.4" lengthAdjust="spacingAndGlyphs">(b)</text>
<text x="446.5" y="418.4" font-size="16" fill="#111" stroke="#111" stroke-width="0.3" textLength="16.8" lengthAdjust="spacingAndGlyphs">(c)</text>
</svg>
</body></html>
